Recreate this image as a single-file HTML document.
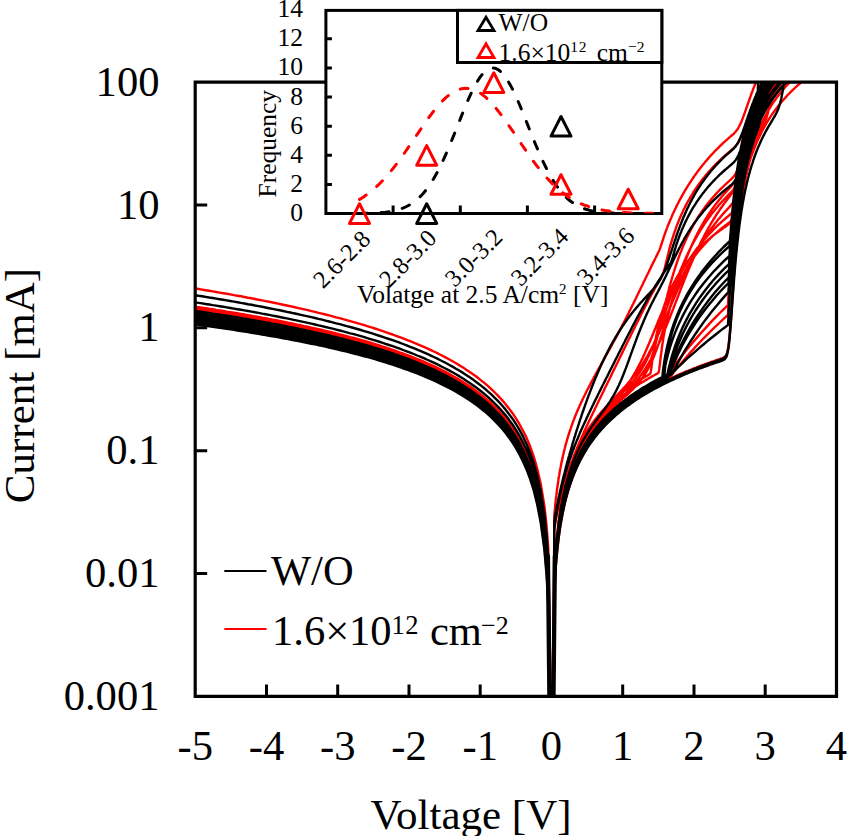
<!DOCTYPE html>
<html><head><meta charset="utf-8"><style>html,body{margin:0;padding:0;background:#fff}svg{display:block}</style></head>
<body><svg width="847" height="836" viewBox="0 0 847 836" font-family="Liberation Serif">
<rect width="847" height="836" fill="#fff"/>
<defs><clipPath id="mc"><rect x="195" y="82" width="641.5" height="614.5"/></clipPath><clipPath id="ic"><rect x="326" y="10" width="336" height="203.3"/></clipPath></defs>
<g clip-path="url(#mc)" fill="none" stroke-linejoin="round">
<path d="M180.9,286.2 L184.5,286.8 L188.0,287.3 L191.5,287.9 L195.1,288.4 L198.6,289.0 L202.1,289.6 L205.6,290.2 L209.2,290.8 L212.7,291.4 L216.2,292.0 L219.7,292.6 L223.3,293.2 L226.8,293.8 L230.3,294.4 L233.9,295.1 L237.4,295.7 L240.9,296.3 L244.4,297.0 L248.0,297.7 L251.5,298.3 L255.0,299.0 L258.5,299.7 L262.1,300.4 L265.6,301.1 L269.1,301.8 L272.6,302.5 L276.2,303.2 L279.7,304.0 L283.2,304.7 L286.8,305.5 L290.3,306.2 L293.8,307.0 L297.3,307.8 L300.9,308.6 L304.4,309.4 L307.9,310.2 L311.4,311.1 L315.0,311.9 L318.5,312.8 L322.0,313.6 L325.5,314.5 L329.1,315.4 L332.6,316.3 L336.1,317.3 L339.7,318.2 L343.2,319.2 L346.7,320.1 L350.2,321.1 L353.8,322.1 L357.3,323.1 L360.8,324.2 L364.3,325.2 L367.9,326.3 L371.4,327.4 L374.9,328.5 L378.5,329.7 L382.0,330.9 L385.5,332.1 L389.0,333.3 L392.6,334.5 L396.1,335.8 L399.6,337.1 L403.1,338.4 L406.7,339.8 L410.2,341.2 L413.7,342.6 L417.2,344.1 L420.8,345.6 L424.3,347.1 L427.8,348.7 L431.4,350.3 L434.9,352.0 L438.4,353.7 L441.9,355.5 L445.5,357.4 L449.0,359.3 L452.5,361.2 L456.0,363.3 L459.6,365.4 L463.1,367.6 L466.6,369.9 L470.1,372.3 L473.7,374.7 L477.2,377.3 L480.7,380.1 L484.3,382.9 L487.8,385.9 L491.3,389.1 L494.8,392.5 L498.4,396.1 L501.9,399.9 L505.4,404.0 L508.9,408.4 L512.5,413.2 L516.0,418.4 L519.5,424.2 L523.0,430.7 L526.6,437.9 L530.1,446.3 L533.7,456.3 L537.2,468.5 L540.8,484.1 L544.4,506.0 L546.5,525.1 L548.3,548.6 L551.5,745.5 M180.9,304.6 L184.5,305.1 L188.0,305.6 L191.5,306.1 L195.1,306.7 L198.6,307.2 L202.1,307.7 L205.6,308.2 L209.2,308.8 L212.7,309.3 L216.2,309.9 L219.7,310.4 L223.3,311.0 L226.8,311.6 L230.3,312.1 L233.9,312.7 L237.4,313.3 L240.9,313.9 L244.4,314.5 L248.0,315.1 L251.5,315.8 L255.0,316.4 L258.5,317.0 L262.1,317.7 L265.6,318.3 L269.1,319.0 L272.6,319.6 L276.2,320.3 L279.7,321.0 L283.2,321.7 L286.8,322.4 L290.3,323.1 L293.8,323.8 L297.3,324.6 L300.9,325.3 L304.4,326.1 L307.9,326.8 L311.4,327.6 L315.0,328.4 L318.5,329.2 L322.0,330.0 L325.5,330.8 L329.1,331.7 L332.6,332.5 L336.1,333.4 L339.7,334.3 L343.2,335.2 L346.7,336.1 L350.2,337.1 L353.8,338.0 L357.3,339.0 L360.8,340.0 L364.3,341.0 L367.9,342.0 L371.4,343.0 L374.9,344.1 L378.5,345.2 L382.0,346.3 L385.5,347.4 L389.0,348.6 L392.6,349.8 L396.1,351.0 L399.6,352.3 L403.1,353.5 L406.7,354.9 L410.2,356.2 L413.7,357.6 L417.2,359.0 L420.8,360.4 L424.3,361.9 L427.8,363.5 L431.4,365.1 L434.9,366.7 L438.4,368.4 L441.9,370.1 L445.5,371.9 L449.0,373.8 L452.5,375.7 L456.0,377.7 L459.6,379.8 L463.1,382.0 L466.6,384.3 L470.1,386.6 L473.7,389.1 L477.2,391.7 L480.7,394.4 L484.3,397.3 L487.8,400.3 L491.3,403.5 L494.8,406.9 L498.4,410.5 L501.9,414.4 L505.4,418.6 L508.9,423.1 L512.5,428.1 L516.0,433.5 L519.5,439.5 L523.0,446.2 L526.6,453.9 L530.1,462.8 L533.7,473.5 L537.2,486.7 L540.8,503.8 L544.4,528.2 L546.5,550.0 L548.3,577.4 L551.5,745.5 M180.9,307.0 L184.5,307.5 L188.0,308.0 L191.5,308.5 L195.1,309.0 L198.6,309.5 L202.1,310.0 L205.6,310.6 L209.2,311.1 L212.7,311.6 L216.2,312.2 L219.7,312.7 L223.3,313.3 L226.8,313.9 L230.3,314.4 L233.9,315.0 L237.4,315.6 L240.9,316.2 L244.4,316.8 L248.0,317.4 L251.5,318.0 L255.0,318.6 L258.5,319.2 L262.1,319.9 L265.6,320.5 L269.1,321.2 L272.6,321.8 L276.2,322.5 L279.7,323.2 L283.2,323.9 L286.8,324.6 L290.3,325.3 L293.8,326.0 L297.3,326.7 L300.9,327.4 L304.4,328.2 L307.9,329.0 L311.4,329.7 L315.0,330.5 L318.5,331.3 L322.0,332.1 L325.5,332.9 L329.1,333.8 L332.6,334.6 L336.1,335.5 L339.7,336.4 L343.2,337.3 L346.7,338.2 L350.2,339.1 L353.8,340.0 L357.3,341.0 L360.8,342.0 L364.3,343.0 L367.9,344.0 L371.4,345.0 L374.9,346.1 L378.5,347.2 L382.0,348.3 L385.5,349.4 L389.0,350.6 L392.6,351.8 L396.1,353.0 L399.6,354.2 L403.1,355.5 L406.7,356.8 L410.2,358.1 L413.7,359.5 L417.2,360.9 L420.8,362.4 L424.3,363.8 L427.8,365.4 L431.4,367.0 L434.9,368.6 L438.4,370.3 L441.9,372.0 L445.5,373.8 L449.0,375.7 L452.5,377.6 L456.0,379.6 L459.6,381.7 L463.1,383.8 L466.6,386.1 L470.1,388.5 L473.7,390.9 L477.2,393.5 L480.7,396.2 L484.3,399.1 L487.8,402.1 L491.3,405.3 L494.8,408.7 L498.4,412.4 L501.9,416.3 L505.4,420.5 L508.9,425.0 L512.5,430.0 L516.0,435.4 L519.5,441.5 L523.0,448.2 L526.6,456.0 L530.1,464.9 L533.7,475.7 L537.2,489.0 L540.8,506.3 L544.4,531.1 L546.5,553.2 L548.3,581.1 L551.5,745.5 M180.9,309.5 L184.5,310.0 L188.0,310.5 L191.5,311.0 L195.1,311.5 L198.6,312.0 L202.1,312.5 L205.6,313.0 L209.2,313.6 L212.7,314.1 L216.2,314.6 L219.7,315.2 L223.3,315.7 L226.8,316.3 L230.3,316.8 L233.9,317.4 L237.4,318.0 L240.9,318.6 L244.4,319.2 L248.0,319.8 L251.5,320.4 L255.0,321.0 L258.5,321.6 L262.1,322.2 L265.6,322.9 L269.1,323.5 L272.6,324.2 L276.2,324.8 L279.7,325.5 L283.2,326.2 L286.8,326.9 L290.3,327.6 L293.8,328.3 L297.3,329.0 L300.9,329.7 L304.4,330.5 L307.9,331.2 L311.4,332.0 L315.0,332.8 L318.5,333.5 L322.0,334.4 L325.5,335.2 L329.1,336.0 L332.6,336.8 L336.1,337.7 L339.7,338.6 L343.2,339.5 L346.7,340.4 L350.2,341.3 L353.8,342.2 L357.3,343.2 L360.8,344.1 L364.3,345.1 L367.9,346.1 L371.4,347.2 L374.9,348.2 L378.5,349.3 L382.0,350.4 L385.5,351.5 L389.0,352.7 L392.6,353.9 L396.1,355.1 L399.6,356.3 L403.1,357.6 L406.7,358.8 L410.2,360.2 L413.7,361.5 L417.2,362.9 L420.8,364.4 L424.3,365.9 L427.8,367.4 L431.4,369.0 L434.9,370.6 L438.4,372.3 L441.9,374.0 L445.5,375.8 L449.0,377.6 L452.5,379.6 L456.0,381.6 L459.6,383.6 L463.1,385.8 L466.6,388.1 L470.1,390.4 L473.7,392.9 L477.2,395.5 L480.7,398.2 L484.3,401.0 L487.8,404.1 L491.3,407.3 L494.8,410.7 L498.4,414.3 L501.9,418.2 L505.4,422.5 L508.9,427.0 L512.5,432.0 L516.0,437.5 L519.5,443.5 L523.0,450.4 L526.6,458.2 L530.1,467.2 L533.7,478.1 L537.2,491.5 L540.8,509.0 L544.4,534.1 L546.5,556.6 L548.3,585.0 L551.5,745.5 M180.9,311.1 L184.5,311.5 L188.0,312.0 L191.5,312.5 L195.1,313.0 L198.6,313.5 L202.1,314.0 L205.6,314.6 L209.2,315.1 L212.7,315.6 L216.2,316.1 L219.7,316.7 L223.3,317.2 L226.8,317.8 L230.3,318.3 L233.9,318.9 L237.4,319.5 L240.9,320.1 L244.4,320.7 L248.0,321.2 L251.5,321.8 L255.0,322.5 L258.5,323.1 L262.1,323.7 L265.6,324.3 L269.1,325.0 L272.6,325.6 L276.2,326.3 L279.7,326.9 L283.2,327.6 L286.8,328.3 L290.3,329.0 L293.8,329.7 L297.3,330.4 L300.9,331.1 L304.4,331.9 L307.9,332.6 L311.4,333.4 L315.0,334.2 L318.5,334.9 L322.0,335.7 L325.5,336.6 L329.1,337.4 L332.6,338.2 L336.1,339.1 L339.7,339.9 L343.2,340.8 L346.7,341.7 L350.2,342.6 L353.8,343.6 L357.3,344.5 L360.8,345.5 L364.3,346.5 L367.9,347.5 L371.4,348.5 L374.9,349.5 L378.5,350.6 L382.0,351.7 L385.5,352.8 L389.0,354.0 L392.6,355.2 L396.1,356.4 L399.6,357.6 L403.1,358.8 L406.7,360.1 L410.2,361.5 L413.7,362.8 L417.2,364.2 L420.8,365.7 L424.3,367.1 L427.8,368.7 L431.4,370.2 L434.9,371.8 L438.4,373.5 L441.9,375.2 L445.5,377.0 L449.0,378.9 L452.5,380.8 L456.0,382.8 L459.6,384.9 L463.1,387.0 L466.6,389.3 L470.1,391.6 L473.7,394.1 L477.2,396.7 L480.7,399.4 L484.3,402.3 L487.8,405.3 L491.3,408.5 L494.8,411.9 L498.4,415.6 L501.9,419.5 L505.4,423.7 L508.9,428.3 L512.5,433.3 L516.0,438.7 L519.5,444.8 L523.0,451.7 L526.6,459.5 L530.1,468.6 L533.7,479.5 L537.2,493.0 L540.8,510.7 L544.4,536.0 L546.5,558.7 L548.3,587.4 L551.5,745.5 M180.9,312.1 L184.5,312.6 L188.0,313.1 L191.5,313.6 L195.1,314.1 L198.6,314.6 L202.1,315.1 L205.6,315.6 L209.2,316.1 L212.7,316.6 L216.2,317.2 L219.7,317.7 L223.3,318.2 L226.8,318.8 L230.3,319.4 L233.9,319.9 L237.4,320.5 L240.9,321.1 L244.4,321.6 L248.0,322.2 L251.5,322.8 L255.0,323.4 L258.5,324.1 L262.1,324.7 L265.6,325.3 L269.1,325.9 L272.6,326.6 L276.2,327.2 L279.7,327.9 L283.2,328.6 L286.8,329.3 L290.3,330.0 L293.8,330.7 L297.3,331.4 L300.9,332.1 L304.4,332.8 L307.9,333.6 L311.4,334.3 L315.0,335.1 L318.5,335.9 L322.0,336.7 L325.5,337.5 L329.1,338.3 L332.6,339.1 L336.1,340.0 L339.7,340.8 L343.2,341.7 L346.7,342.6 L350.2,343.5 L353.8,344.5 L357.3,345.4 L360.8,346.4 L364.3,347.4 L367.9,348.4 L371.4,349.4 L374.9,350.4 L378.5,351.5 L382.0,352.6 L385.5,353.7 L389.0,354.8 L392.6,356.0 L396.1,357.2 L399.6,358.4 L403.1,359.7 L406.7,361.0 L410.2,362.3 L413.7,363.7 L417.2,365.1 L420.8,366.5 L424.3,368.0 L427.8,369.5 L431.4,371.1 L434.9,372.7 L438.4,374.3 L441.9,376.1 L445.5,377.9 L449.0,379.7 L452.5,381.6 L456.0,383.6 L459.6,385.7 L463.1,387.8 L466.6,390.1 L470.1,392.4 L473.7,394.9 L477.2,397.5 L480.7,400.2 L484.3,403.1 L487.8,406.1 L491.3,409.3 L494.8,412.7 L498.4,416.4 L501.9,420.3 L505.4,424.5 L508.9,429.1 L512.5,434.1 L516.0,439.6 L519.5,445.7 L523.0,452.6 L526.6,460.4 L530.1,469.5 L533.7,480.5 L537.2,494.1 L540.8,511.8 L544.4,537.3 L546.5,560.2 L548.3,589.1 L551.5,745.5 M180.9,313.7 L184.5,314.1 L188.0,314.6 L191.5,315.1 L195.1,315.6 L198.6,316.1 L202.1,316.6 L205.6,317.1 L209.2,317.6 L212.7,318.2 L216.2,318.7 L219.7,319.2 L223.3,319.8 L226.8,320.3 L230.3,320.9 L233.9,321.4 L237.4,322.0 L240.9,322.6 L244.4,323.1 L248.0,323.7 L251.5,324.3 L255.0,324.9 L258.5,325.5 L262.1,326.1 L265.6,326.8 L269.1,327.4 L272.6,328.0 L276.2,328.7 L279.7,329.3 L283.2,330.0 L286.8,330.7 L290.3,331.4 L293.8,332.1 L297.3,332.8 L300.9,333.5 L304.4,334.2 L307.9,335.0 L311.4,335.7 L315.0,336.5 L318.5,337.3 L322.0,338.1 L325.5,338.9 L329.1,339.7 L332.6,340.5 L336.1,341.4 L339.7,342.2 L343.2,343.1 L346.7,344.0 L350.2,344.9 L353.8,345.8 L357.3,346.8 L360.8,347.7 L364.3,348.7 L367.9,349.7 L371.4,350.7 L374.9,351.8 L378.5,352.8 L382.0,353.9 L385.5,355.0 L389.0,356.2 L392.6,357.3 L396.1,358.5 L399.6,359.7 L403.1,361.0 L406.7,362.3 L410.2,363.6 L413.7,364.9 L417.2,366.3 L420.8,367.8 L424.3,369.2 L427.8,370.7 L431.4,372.3 L434.9,373.9 L438.4,375.6 L441.9,377.3 L445.5,379.1 L449.0,380.9 L452.5,382.9 L456.0,384.8 L459.6,386.9 L463.1,389.1 L466.6,391.3 L470.1,393.7 L473.7,396.1 L477.2,398.7 L480.7,401.4 L484.3,404.3 L487.8,407.3 L491.3,410.5 L494.8,414.0 L498.4,417.6 L501.9,421.5 L505.4,425.8 L508.9,430.4 L512.5,435.4 L516.0,440.9 L519.5,447.0 L523.0,453.9 L526.6,461.8 L530.1,470.9 L533.7,482.0 L537.2,495.6 L540.8,513.5 L544.4,539.2 L546.5,562.3 L548.3,591.5 L551.5,745.5 M180.9,314.7 L184.5,315.2 L188.0,315.7 L191.5,316.1 L195.1,316.6 L198.6,317.1 L202.1,317.6 L205.6,318.1 L209.2,318.7 L212.7,319.2 L216.2,319.7 L219.7,320.2 L223.3,320.8 L226.8,321.3 L230.3,321.9 L233.9,322.4 L237.4,323.0 L240.9,323.5 L244.4,324.1 L248.0,324.7 L251.5,325.3 L255.0,325.9 L258.5,326.5 L262.1,327.1 L265.6,327.7 L269.1,328.4 L272.6,329.0 L276.2,329.7 L279.7,330.3 L283.2,331.0 L286.8,331.7 L290.3,332.3 L293.8,333.0 L297.3,333.7 L300.9,334.5 L304.4,335.2 L307.9,335.9 L311.4,336.7 L315.0,337.4 L318.5,338.2 L322.0,339.0 L325.5,339.8 L329.1,340.6 L332.6,341.4 L336.1,342.3 L339.7,343.1 L343.2,344.0 L346.7,344.9 L350.2,345.8 L353.8,346.7 L357.3,347.6 L360.8,348.6 L364.3,349.6 L367.9,350.6 L371.4,351.6 L374.9,352.6 L378.5,353.7 L382.0,354.8 L385.5,355.9 L389.0,357.0 L392.6,358.2 L396.1,359.4 L399.6,360.6 L403.1,361.8 L406.7,363.1 L410.2,364.4 L413.7,365.8 L417.2,367.2 L420.8,368.6 L424.3,370.1 L427.8,371.6 L431.4,373.1 L434.9,374.8 L438.4,376.4 L441.9,378.1 L445.5,379.9 L449.0,381.8 L452.5,383.7 L456.0,385.7 L459.6,387.7 L463.1,389.9 L466.6,392.1 L470.1,394.5 L473.7,396.9 L477.2,399.5 L480.7,402.2 L484.3,405.1 L487.8,408.1 L491.3,411.3 L494.8,414.8 L498.4,418.4 L501.9,422.4 L505.4,426.6 L508.9,431.2 L512.5,436.2 L516.0,441.7 L519.5,447.9 L523.0,454.8 L526.6,462.7 L530.1,471.9 L533.7,482.9 L537.2,496.7 L540.8,514.6 L544.4,540.5 L546.5,563.7 L548.3,593.1 L551.5,745.5 M180.9,316.3 L184.5,316.7 L188.0,317.2 L191.5,317.7 L195.1,318.2 L198.6,318.7 L202.1,319.2 L205.6,319.7 L209.2,320.2 L212.7,320.7 L216.2,321.2 L219.7,321.8 L223.3,322.3 L226.8,322.8 L230.3,323.4 L233.9,323.9 L237.4,324.5 L240.9,325.0 L244.4,325.6 L248.0,326.2 L251.5,326.8 L255.0,327.4 L258.5,328.0 L262.1,328.6 L265.6,329.2 L269.1,329.8 L272.6,330.5 L276.2,331.1 L279.7,331.8 L283.2,332.4 L286.8,333.1 L290.3,333.8 L293.8,334.5 L297.3,335.2 L300.9,335.9 L304.4,336.6 L307.9,337.3 L311.4,338.1 L315.0,338.8 L318.5,339.6 L322.0,340.4 L325.5,341.2 L329.1,342.0 L332.6,342.8 L336.1,343.6 L339.7,344.5 L343.2,345.4 L346.7,346.2 L350.2,347.1 L353.8,348.1 L357.3,349.0 L360.8,349.9 L364.3,350.9 L367.9,351.9 L371.4,352.9 L374.9,354.0 L378.5,355.0 L382.0,356.1 L385.5,357.2 L389.0,358.3 L392.6,359.5 L396.1,360.7 L399.6,361.9 L403.1,363.1 L406.7,364.4 L410.2,365.7 L413.7,367.1 L417.2,368.4 L420.8,369.9 L424.3,371.3 L427.8,372.8 L431.4,374.4 L434.9,376.0 L438.4,377.7 L441.9,379.4 L445.5,381.2 L449.0,383.0 L452.5,384.9 L456.0,386.9 L459.6,389.0 L463.1,391.1 L466.6,393.4 L470.1,395.7 L473.7,398.2 L477.2,400.7 L480.7,403.5 L484.3,406.3 L487.8,409.4 L491.3,412.6 L494.8,416.0 L498.4,419.7 L501.9,423.6 L505.4,427.8 L508.9,432.4 L512.5,437.5 L516.0,443.0 L519.5,449.2 L523.0,456.1 L526.6,464.0 L530.1,473.3 L533.7,484.4 L537.2,498.2 L540.8,516.3 L544.4,542.3 L546.5,565.8 L548.3,595.6 L551.5,745.5 M180.9,317.3 L184.5,317.8 L188.0,318.3 L191.5,318.7 L195.1,319.2 L198.6,319.7 L202.1,320.2 L205.6,320.7 L209.2,321.2 L212.7,321.7 L216.2,322.2 L219.7,322.8 L223.3,323.3 L226.8,323.8 L230.3,324.4 L233.9,324.9 L237.4,325.5 L240.9,326.0 L244.4,326.6 L248.0,327.2 L251.5,327.8 L255.0,328.4 L258.5,329.0 L262.1,329.6 L265.6,330.2 L269.1,330.8 L272.6,331.4 L276.2,332.1 L279.7,332.7 L283.2,333.4 L286.8,334.0 L290.3,334.7 L293.8,335.4 L297.3,336.1 L300.9,336.8 L304.4,337.5 L307.9,338.3 L311.4,339.0 L315.0,339.8 L318.5,340.5 L322.0,341.3 L325.5,342.1 L329.1,342.9 L332.6,343.7 L336.1,344.6 L339.7,345.4 L343.2,346.3 L346.7,347.2 L350.2,348.0 L353.8,349.0 L357.3,349.9 L360.8,350.8 L364.3,351.8 L367.9,352.8 L371.4,353.8 L374.9,354.8 L378.5,355.9 L382.0,357.0 L385.5,358.1 L389.0,359.2 L392.6,360.3 L396.1,361.5 L399.6,362.7 L403.1,364.0 L406.7,365.3 L410.2,366.6 L413.7,367.9 L417.2,369.3 L420.8,370.7 L424.3,372.2 L427.8,373.7 L431.4,375.2 L434.9,376.8 L438.4,378.5 L441.9,380.2 L445.5,382.0 L449.0,383.8 L452.5,385.7 L456.0,387.7 L459.6,389.8 L463.1,391.9 L466.6,394.2 L470.1,396.5 L473.7,399.0 L477.2,401.6 L480.7,404.3 L484.3,407.1 L487.8,410.2 L491.3,413.4 L494.8,416.8 L498.4,420.5 L501.9,424.4 L505.4,428.7 L508.9,433.3 L512.5,438.3 L516.0,443.9 L519.5,450.0 L523.0,457.0 L526.6,464.9 L530.1,474.2 L533.7,485.4 L537.2,499.2 L540.8,517.4 L544.4,543.6 L546.5,567.2 L548.3,597.2 L551.5,745.5 M180.9,318.9 L184.5,319.3 L188.0,319.8 L191.5,320.3 L195.1,320.8 L198.6,321.3 L202.1,321.7 L205.6,322.2 L209.2,322.7 L212.7,323.2 L216.2,323.8 L219.7,324.3 L223.3,324.8 L226.8,325.3 L230.3,325.9 L233.9,326.4 L237.4,327.0 L240.9,327.5 L244.4,328.1 L248.0,328.7 L251.5,329.2 L255.0,329.8 L258.5,330.4 L262.1,331.0 L265.6,331.6 L269.1,332.3 L272.6,332.9 L276.2,333.5 L279.7,334.2 L283.2,334.8 L286.8,335.5 L290.3,336.2 L293.8,336.8 L297.3,337.5 L300.9,338.2 L304.4,339.0 L307.9,339.7 L311.4,340.4 L315.0,341.2 L318.5,341.9 L322.0,342.7 L325.5,343.5 L329.1,344.3 L332.6,345.1 L336.1,345.9 L339.7,346.8 L343.2,347.6 L346.7,348.5 L350.2,349.4 L353.8,350.3 L357.3,351.2 L360.8,352.2 L364.3,353.1 L367.9,354.1 L371.4,355.1 L374.9,356.2 L378.5,357.2 L382.0,358.3 L385.5,359.4 L389.0,360.5 L392.6,361.6 L396.1,362.8 L399.6,364.0 L403.1,365.3 L406.7,366.5 L410.2,367.8 L413.7,369.2 L417.2,370.6 L420.8,372.0 L424.3,373.4 L427.8,374.9 L431.4,376.5 L434.9,378.1 L438.4,379.7 L441.9,381.4 L445.5,383.2 L449.0,385.1 L452.5,387.0 L456.0,388.9 L459.6,391.0 L463.1,393.1 L466.6,395.4 L470.1,397.7 L473.7,400.2 L477.2,402.8 L480.7,405.5 L484.3,408.4 L487.8,411.4 L491.3,414.6 L494.8,418.0 L498.4,421.7 L501.9,425.6 L505.4,429.9 L508.9,434.5 L512.5,439.6 L516.0,445.1 L519.5,451.3 L523.0,458.3 L526.6,466.3 L530.1,475.6 L533.7,486.8 L537.2,500.8 L540.8,519.1 L544.4,545.5 L546.5,569.3 L548.3,599.6 L551.5,745.5 M180.9,319.9 L184.5,320.4 L188.0,320.8 L191.5,321.3 L195.1,321.8 L198.6,322.3 L202.1,322.8 L205.6,323.3 L209.2,323.8 L212.7,324.3 L216.2,324.8 L219.7,325.3 L223.3,325.8 L226.8,326.3 L230.3,326.9 L233.9,327.4 L237.4,328.0 L240.9,328.5 L244.4,329.1 L248.0,329.7 L251.5,330.2 L255.0,330.8 L258.5,331.4 L262.1,332.0 L265.6,332.6 L269.1,333.2 L272.6,333.9 L276.2,334.5 L279.7,335.1 L283.2,335.8 L286.8,336.4 L290.3,337.1 L293.8,337.8 L297.3,338.5 L300.9,339.2 L304.4,339.9 L307.9,340.6 L311.4,341.4 L315.0,342.1 L318.5,342.9 L322.0,343.6 L325.5,344.4 L329.1,345.2 L332.6,346.0 L336.1,346.8 L339.7,347.7 L343.2,348.5 L346.7,349.4 L350.2,350.3 L353.8,351.2 L357.3,352.1 L360.8,353.1 L364.3,354.0 L367.9,355.0 L371.4,356.0 L374.9,357.0 L378.5,358.1 L382.0,359.2 L385.5,360.2 L389.0,361.4 L392.6,362.5 L396.1,363.7 L399.6,364.9 L403.1,366.1 L406.7,367.4 L410.2,368.7 L413.7,370.0 L417.2,371.4 L420.8,372.8 L424.3,374.3 L427.8,375.8 L431.4,377.3 L434.9,378.9 L438.4,380.6 L441.9,382.3 L445.5,384.0 L449.0,385.9 L452.5,387.8 L456.0,389.8 L459.6,391.8 L463.1,394.0 L466.6,396.2 L470.1,398.5 L473.7,401.0 L477.2,403.6 L480.7,406.3 L484.3,409.2 L487.8,412.2 L491.3,415.4 L494.8,418.9 L498.4,422.5 L501.9,426.5 L505.4,430.7 L508.9,435.4 L512.5,440.4 L516.0,446.0 L519.5,452.2 L523.0,459.2 L526.6,467.2 L530.1,476.5 L533.7,487.8 L537.2,501.8 L540.8,520.2 L544.4,546.8 L546.5,570.7 L548.3,601.3 L551.5,745.5" stroke="#f00" stroke-width="2.4"/>
<path d="M180.9,293.1 L184.5,293.6 L188.0,294.1 L191.5,294.7 L195.1,295.2 L198.6,295.8 L202.1,296.3 L205.6,296.9 L209.2,297.5 L212.7,298.0 L216.2,298.6 L219.7,299.2 L223.3,299.8 L226.8,300.4 L230.3,301.0 L233.9,301.6 L237.4,302.2 L240.9,302.9 L244.4,303.5 L248.0,304.2 L251.5,304.8 L255.0,305.5 L258.5,306.1 L262.1,306.8 L265.6,307.5 L269.1,308.2 L272.6,308.9 L276.2,309.6 L279.7,310.3 L283.2,311.0 L286.8,311.8 L290.3,312.5 L293.8,313.3 L297.3,314.0 L300.9,314.8 L304.4,315.6 L307.9,316.4 L311.4,317.2 L315.0,318.0 L318.5,318.9 L322.0,319.7 L325.5,320.6 L329.1,321.5 L332.6,322.4 L336.1,323.3 L339.7,324.2 L343.2,325.1 L346.7,326.1 L350.2,327.0 L353.8,328.0 L357.3,329.0 L360.8,330.0 L364.3,331.1 L367.9,332.1 L371.4,333.2 L374.9,334.3 L378.5,335.5 L382.0,336.6 L385.5,337.8 L389.0,339.0 L392.6,340.2 L396.1,341.4 L399.6,342.7 L403.1,344.0 L406.7,345.4 L410.2,346.8 L413.7,348.2 L417.2,349.6 L420.8,351.1 L424.3,352.6 L427.8,354.2 L431.4,355.8 L434.9,357.5 L438.4,359.2 L441.9,361.0 L445.5,362.8 L449.0,364.7 L452.5,366.6 L456.0,368.7 L459.6,370.8 L463.1,372.9 L466.6,375.2 L470.1,377.6 L473.7,380.1 L477.2,382.7 L480.7,385.4 L484.3,388.2 L487.8,391.3 L491.3,394.4 L494.8,397.8 L498.4,401.4 L501.9,405.3 L505.4,409.4 L508.9,413.9 L512.5,418.7 L516.0,424.0 L519.5,429.9 L523.0,436.4 L526.6,443.9 L530.1,452.5 L533.7,462.7 L537.2,475.2 L540.8,491.4 L544.4,514.2 L546.5,534.4 L548.3,559.3 L551.5,745.5 M180.9,300.3 L184.5,300.8 L188.0,301.3 L191.5,301.8 L195.1,302.4 L198.6,302.9 L202.1,303.4 L205.6,304.0 L209.2,304.5 L212.7,305.1 L216.2,305.6 L219.7,306.2 L223.3,306.8 L226.8,307.4 L230.3,308.0 L233.9,308.6 L237.4,309.2 L240.9,309.8 L244.4,310.4 L248.0,311.0 L251.5,311.6 L255.0,312.3 L258.5,312.9 L262.1,313.6 L265.6,314.2 L269.1,314.9 L272.6,315.6 L276.2,316.3 L279.7,317.0 L283.2,317.7 L286.8,318.4 L290.3,319.1 L293.8,319.9 L297.3,320.6 L300.9,321.4 L304.4,322.1 L307.9,322.9 L311.4,323.7 L315.0,324.5 L318.5,325.3 L322.0,326.1 L325.5,327.0 L329.1,327.8 L332.6,328.7 L336.1,329.6 L339.7,330.5 L343.2,331.4 L346.7,332.3 L350.2,333.3 L353.8,334.2 L357.3,335.2 L360.8,336.2 L364.3,337.2 L367.9,338.3 L371.4,339.3 L374.9,340.4 L378.5,341.5 L382.0,342.7 L385.5,343.8 L389.0,345.0 L392.6,346.2 L396.1,347.4 L399.6,348.7 L403.1,350.0 L406.7,351.3 L410.2,352.6 L413.7,354.0 L417.2,355.5 L420.8,356.9 L424.3,358.4 L427.8,360.0 L431.4,361.6 L434.9,363.2 L438.4,364.9 L441.9,366.7 L445.5,368.5 L449.0,370.4 L452.5,372.3 L456.0,374.3 L459.6,376.4 L463.1,378.6 L466.6,380.9 L470.1,383.2 L473.7,385.7 L477.2,388.3 L480.7,391.0 L484.3,393.9 L487.8,396.9 L491.3,400.1 L494.8,403.5 L498.4,407.1 L501.9,411.0 L505.4,415.1 L508.9,419.6 L512.5,424.5 L516.0,429.9 L519.5,435.9 L523.0,442.6 L526.6,450.1 L530.1,458.9 L533.7,469.4 L537.2,482.4 L540.8,499.1 L544.4,523.0 L546.5,544.1 L548.3,570.6 L551.5,745.5 M180.9,309.0 L184.5,309.5 L188.0,310.0 L191.5,310.5 L195.1,311.0 L198.6,311.5 L202.1,312.0 L205.6,312.5 L209.2,313.0 L212.7,313.6 L216.2,314.1 L219.7,314.7 L223.3,315.2 L226.8,315.8 L230.3,316.3 L233.9,316.9 L237.4,317.5 L240.9,318.1 L244.4,318.7 L248.0,319.3 L251.5,319.9 L255.0,320.5 L258.5,321.1 L262.1,321.7 L265.6,322.4 L269.1,323.0 L272.6,323.7 L276.2,324.3 L279.7,325.0 L283.2,325.7 L286.8,326.4 L290.3,327.1 L293.8,327.8 L297.3,328.5 L300.9,329.3 L304.4,330.0 L307.9,330.8 L311.4,331.5 L315.0,332.3 L318.5,333.1 L322.0,333.9 L325.5,334.7 L329.1,335.5 L332.6,336.4 L336.1,337.2 L339.7,338.1 L343.2,339.0 L346.7,339.9 L350.2,340.8 L353.8,341.8 L357.3,342.7 L360.8,343.7 L364.3,344.7 L367.9,345.7 L371.4,346.7 L374.9,347.8 L378.5,348.9 L382.0,350.0 L385.5,351.1 L389.0,352.2 L392.6,353.4 L396.1,354.6 L399.6,355.9 L403.1,357.1 L406.7,358.4 L410.2,359.8 L413.7,361.1 L417.2,362.5 L420.8,364.0 L424.3,365.5 L427.8,367.0 L431.4,368.6 L434.9,370.2 L438.4,371.9 L441.9,373.6 L445.5,375.4 L449.0,377.2 L452.5,379.2 L456.0,381.2 L459.6,383.2 L463.1,385.4 L466.6,387.7 L470.1,390.0 L473.7,392.5 L477.2,395.1 L480.7,397.8 L484.3,400.6 L487.8,403.7 L491.3,406.9 L494.8,410.3 L498.4,413.9 L501.9,417.8 L505.4,422.0 L508.9,426.6 L512.5,431.6 L516.0,437.0 L519.5,443.1 L523.0,449.9 L526.6,457.7 L530.1,466.7 L533.7,477.6 L537.2,491.0 L540.8,508.5 L544.4,533.5 L546.5,555.9 L548.3,584.2 L551.5,745.5 M180.9,310.0 L184.5,310.5 L188.0,311.0 L191.5,311.5 L195.1,312.0 L198.6,312.5 L202.1,313.0 L205.6,313.5 L209.2,314.1 L212.7,314.6 L216.2,315.1 L219.7,315.7 L223.3,316.2 L226.8,316.8 L230.3,317.3 L233.9,317.9 L237.4,318.5 L240.9,319.1 L244.4,319.7 L248.0,320.3 L251.5,320.9 L255.0,321.5 L258.5,322.1 L262.1,322.7 L265.6,323.4 L269.1,324.0 L272.6,324.6 L276.2,325.3 L279.7,326.0 L283.2,326.7 L286.8,327.3 L290.3,328.0 L293.8,328.8 L297.3,329.5 L300.9,330.2 L304.4,330.9 L307.9,331.7 L311.4,332.5 L315.0,333.2 L318.5,334.0 L322.0,334.8 L325.5,335.6 L329.1,336.5 L332.6,337.3 L336.1,338.2 L339.7,339.0 L343.2,339.9 L346.7,340.8 L350.2,341.7 L353.8,342.7 L357.3,343.6 L360.8,344.6 L364.3,345.6 L367.9,346.6 L371.4,347.6 L374.9,348.7 L378.5,349.7 L382.0,350.8 L385.5,352.0 L389.0,353.1 L392.6,354.3 L396.1,355.5 L399.6,356.7 L403.1,358.0 L406.7,359.3 L410.2,360.6 L413.7,362.0 L417.2,363.4 L420.8,364.8 L424.3,366.3 L427.8,367.8 L431.4,369.4 L434.9,371.0 L438.4,372.7 L441.9,374.4 L445.5,376.2 L449.0,378.1 L452.5,380.0 L456.0,382.0 L459.6,384.1 L463.1,386.2 L466.6,388.5 L470.1,390.8 L473.7,393.3 L477.2,395.9 L480.7,398.6 L484.3,401.5 L487.8,404.5 L491.3,407.7 L494.8,411.1 L498.4,414.7 L501.9,418.7 L505.4,422.9 L508.9,427.4 L512.5,432.4 L516.0,437.9 L519.5,444.0 L523.0,450.8 L526.6,458.6 L530.1,467.7 L533.7,478.5 L537.2,492.0 L540.8,509.6 L544.4,534.8 L546.5,557.3 L548.3,585.8 L551.5,745.5 M180.9,310.5 L184.5,311.0 L188.0,311.5 L191.5,312.0 L195.1,312.5 L198.6,313.0 L202.1,313.5 L205.6,314.1 L209.2,314.6 L212.7,315.1 L216.2,315.6 L219.7,316.2 L223.3,316.7 L226.8,317.3 L230.3,317.8 L233.9,318.4 L237.4,319.0 L240.9,319.6 L244.4,320.2 L248.0,320.7 L251.5,321.4 L255.0,322.0 L258.5,322.6 L262.1,323.2 L265.6,323.8 L269.1,324.5 L272.6,325.1 L276.2,325.8 L279.7,326.5 L283.2,327.1 L286.8,327.8 L290.3,328.5 L293.8,329.2 L297.3,329.9 L300.9,330.7 L304.4,331.4 L307.9,332.2 L311.4,332.9 L315.0,333.7 L318.5,334.5 L322.0,335.3 L325.5,336.1 L329.1,336.9 L332.6,337.8 L336.1,338.6 L339.7,339.5 L343.2,340.4 L346.7,341.3 L350.2,342.2 L353.8,343.1 L357.3,344.1 L360.8,345.0 L364.3,346.0 L367.9,347.0 L371.4,348.1 L374.9,349.1 L378.5,350.2 L382.0,351.3 L385.5,352.4 L389.0,353.5 L392.6,354.7 L396.1,355.9 L399.6,357.1 L403.1,358.4 L406.7,359.7 L410.2,361.0 L413.7,362.4 L417.2,363.8 L420.8,365.2 L424.3,366.7 L427.8,368.2 L431.4,369.8 L434.9,371.4 L438.4,373.1 L441.9,374.8 L445.5,376.6 L449.0,378.5 L452.5,380.4 L456.0,382.4 L459.6,384.5 L463.1,386.6 L466.6,388.9 L470.1,391.2 L473.7,393.7 L477.2,396.3 L480.7,399.0 L484.3,401.9 L487.8,404.9 L491.3,408.1 L494.8,411.5 L498.4,415.2 L501.9,419.1 L505.4,423.3 L508.9,427.8 L512.5,432.8 L516.0,438.3 L519.5,444.4 L523.0,451.3 L526.6,459.1 L530.1,468.1 L533.7,479.0 L537.2,492.5 L540.8,510.1 L544.4,535.4 L546.5,558.0 L548.3,586.6 L551.5,745.5 M180.9,311.6 L184.5,312.1 L188.0,312.5 L191.5,313.0 L195.1,313.5 L198.6,314.0 L202.1,314.6 L205.6,315.1 L209.2,315.6 L212.7,316.1 L216.2,316.7 L219.7,317.2 L223.3,317.7 L226.8,318.3 L230.3,318.8 L233.9,319.4 L237.4,320.0 L240.9,320.6 L244.4,321.1 L248.0,321.7 L251.5,322.3 L255.0,322.9 L258.5,323.6 L262.1,324.2 L265.6,324.8 L269.1,325.5 L272.6,326.1 L276.2,326.8 L279.7,327.4 L283.2,328.1 L286.8,328.8 L290.3,329.5 L293.8,330.2 L297.3,330.9 L300.9,331.6 L304.4,332.4 L307.9,333.1 L311.4,333.9 L315.0,334.6 L318.5,335.4 L322.0,336.2 L325.5,337.0 L329.1,337.8 L332.6,338.7 L336.1,339.5 L339.7,340.4 L343.2,341.3 L346.7,342.2 L350.2,343.1 L353.8,344.0 L357.3,345.0 L360.8,345.9 L364.3,346.9 L367.9,347.9 L371.4,348.9 L374.9,350.0 L378.5,351.1 L382.0,352.2 L385.5,353.3 L389.0,354.4 L392.6,355.6 L396.1,356.8 L399.6,358.0 L403.1,359.3 L406.7,360.6 L410.2,361.9 L413.7,363.2 L417.2,364.6 L420.8,366.1 L424.3,367.6 L427.8,369.1 L431.4,370.6 L434.9,372.3 L438.4,373.9 L441.9,375.7 L445.5,377.4 L449.0,379.3 L452.5,381.2 L456.0,383.2 L459.6,385.3 L463.1,387.4 L466.6,389.7 L470.1,392.0 L473.7,394.5 L477.2,397.1 L480.7,399.8 L484.3,402.7 L487.8,405.7 L491.3,408.9 L494.8,412.3 L498.4,416.0 L501.9,419.9 L505.4,424.1 L508.9,428.7 L512.5,433.7 L516.0,439.2 L519.5,445.3 L523.0,452.1 L526.6,460.0 L530.1,469.1 L533.7,480.0 L537.2,493.6 L540.8,511.3 L544.4,536.7 L546.5,559.4 L548.3,588.2 L551.5,745.5 M180.9,312.6 L184.5,313.1 L188.0,313.6 L191.5,314.1 L195.1,314.6 L198.6,315.1 L202.1,315.6 L205.6,316.1 L209.2,316.6 L212.7,317.1 L216.2,317.7 L219.7,318.2 L223.3,318.7 L226.8,319.3 L230.3,319.9 L233.9,320.4 L237.4,321.0 L240.9,321.6 L244.4,322.1 L248.0,322.7 L251.5,323.3 L255.0,323.9 L258.5,324.5 L262.1,325.2 L265.6,325.8 L269.1,326.4 L272.6,327.1 L276.2,327.7 L279.7,328.4 L283.2,329.1 L286.8,329.7 L290.3,330.4 L293.8,331.1 L297.3,331.8 L300.9,332.6 L304.4,333.3 L307.9,334.0 L311.4,334.8 L315.0,335.6 L318.5,336.3 L322.0,337.1 L325.5,337.9 L329.1,338.8 L332.6,339.6 L336.1,340.4 L339.7,341.3 L343.2,342.2 L346.7,343.1 L350.2,344.0 L353.8,344.9 L357.3,345.9 L360.8,346.8 L364.3,347.8 L367.9,348.8 L371.4,349.8 L374.9,350.9 L378.5,351.9 L382.0,353.0 L385.5,354.1 L389.0,355.3 L392.6,356.5 L396.1,357.6 L399.6,358.9 L403.1,360.1 L406.7,361.4 L410.2,362.7 L413.7,364.1 L417.2,365.5 L420.8,366.9 L424.3,368.4 L427.8,369.9 L431.4,371.5 L434.9,373.1 L438.4,374.8 L441.9,376.5 L445.5,378.3 L449.0,380.1 L452.5,382.0 L456.0,384.0 L459.6,386.1 L463.1,388.3 L466.6,390.5 L470.1,392.9 L473.7,395.3 L477.2,397.9 L480.7,400.6 L484.3,403.5 L487.8,406.5 L491.3,409.7 L494.8,413.1 L498.4,416.8 L501.9,420.7 L505.4,424.9 L508.9,429.5 L512.5,434.5 L516.0,440.0 L519.5,446.1 L523.0,453.0 L526.6,460.9 L530.1,470.0 L533.7,481.0 L537.2,494.6 L540.8,512.4 L544.4,537.9 L546.5,560.9 L548.3,589.9 L551.5,745.5 M180.9,313.1 L184.5,313.6 L188.0,314.1 L191.5,314.6 L195.1,315.1 L198.6,315.6 L202.1,316.1 L205.6,316.6 L209.2,317.1 L212.7,317.6 L216.2,318.2 L219.7,318.7 L223.3,319.3 L226.8,319.8 L230.3,320.4 L233.9,320.9 L237.4,321.5 L240.9,322.1 L244.4,322.6 L248.0,323.2 L251.5,323.8 L255.0,324.4 L258.5,325.0 L262.1,325.7 L265.6,326.3 L269.1,326.9 L272.6,327.6 L276.2,328.2 L279.7,328.9 L283.2,329.5 L286.8,330.2 L290.3,330.9 L293.8,331.6 L297.3,332.3 L300.9,333.0 L304.4,333.8 L307.9,334.5 L311.4,335.3 L315.0,336.0 L318.5,336.8 L322.0,337.6 L325.5,338.4 L329.1,339.2 L332.6,340.1 L336.1,340.9 L339.7,341.8 L343.2,342.6 L346.7,343.5 L350.2,344.4 L353.8,345.4 L357.3,346.3 L360.8,347.3 L364.3,348.2 L367.9,349.2 L371.4,350.3 L374.9,351.3 L378.5,352.4 L382.0,353.5 L385.5,354.6 L389.0,355.7 L392.6,356.9 L396.1,358.1 L399.6,359.3 L403.1,360.6 L406.7,361.8 L410.2,363.2 L413.7,364.5 L417.2,365.9 L420.8,367.3 L424.3,368.8 L427.8,370.3 L431.4,371.9 L434.9,373.5 L438.4,375.2 L441.9,376.9 L445.5,378.7 L449.0,380.5 L452.5,382.4 L456.0,384.4 L459.6,386.5 L463.1,388.7 L466.6,390.9 L470.1,393.3 L473.7,395.7 L477.2,398.3 L480.7,401.0 L484.3,403.9 L487.8,406.9 L491.3,410.1 L494.8,413.5 L498.4,417.2 L501.9,421.1 L505.4,425.3 L508.9,429.9 L512.5,434.9 L516.0,440.5 L519.5,446.6 L523.0,453.5 L526.6,461.3 L530.1,470.5 L533.7,481.5 L537.2,495.1 L540.8,512.9 L544.4,538.6 L546.5,561.6 L548.3,590.7 L551.5,745.5 M180.9,314.2 L184.5,314.7 L188.0,315.1 L191.5,315.6 L195.1,316.1 L198.6,316.6 L202.1,317.1 L205.6,317.6 L209.2,318.1 L212.7,318.7 L216.2,319.2 L219.7,319.7 L223.3,320.3 L226.8,320.8 L230.3,321.4 L233.9,321.9 L237.4,322.5 L240.9,323.1 L244.4,323.6 L248.0,324.2 L251.5,324.8 L255.0,325.4 L258.5,326.0 L262.1,326.6 L265.6,327.3 L269.1,327.9 L272.6,328.5 L276.2,329.2 L279.7,329.8 L283.2,330.5 L286.8,331.2 L290.3,331.9 L293.8,332.6 L297.3,333.3 L300.9,334.0 L304.4,334.7 L307.9,335.4 L311.4,336.2 L315.0,337.0 L318.5,337.7 L322.0,338.5 L325.5,339.3 L329.1,340.1 L332.6,341.0 L336.1,341.8 L339.7,342.7 L343.2,343.5 L346.7,344.4 L350.2,345.3 L353.8,346.3 L357.3,347.2 L360.8,348.2 L364.3,349.1 L367.9,350.1 L371.4,351.2 L374.9,352.2 L378.5,353.3 L382.0,354.3 L385.5,355.5 L389.0,356.6 L392.6,357.8 L396.1,358.9 L399.6,360.2 L403.1,361.4 L406.7,362.7 L410.2,364.0 L413.7,365.4 L417.2,366.8 L420.8,368.2 L424.3,369.7 L427.8,371.2 L431.4,372.7 L434.9,374.3 L438.4,376.0 L441.9,377.7 L445.5,379.5 L449.0,381.3 L452.5,383.3 L456.0,385.3 L459.6,387.3 L463.1,389.5 L466.6,391.7 L470.1,394.1 L473.7,396.5 L477.2,399.1 L480.7,401.8 L484.3,404.7 L487.8,407.7 L491.3,410.9 L494.8,414.4 L498.4,418.0 L501.9,421.9 L505.4,426.2 L508.9,430.8 L512.5,435.8 L516.0,441.3 L519.5,447.4 L523.0,454.3 L526.6,462.2 L530.1,471.4 L533.7,482.4 L537.2,496.1 L540.8,514.1 L544.4,539.8 L546.5,563.0 L548.3,592.3 L551.5,745.5 M180.9,315.2 L184.5,315.7 L188.0,316.2 L191.5,316.7 L195.1,317.2 L198.6,317.6 L202.1,318.2 L205.6,318.7 L209.2,319.2 L212.7,319.7 L216.2,320.2 L219.7,320.7 L223.3,321.3 L226.8,321.8 L230.3,322.4 L233.9,322.9 L237.4,323.5 L240.9,324.0 L244.4,324.6 L248.0,325.2 L251.5,325.8 L255.0,326.4 L258.5,327.0 L262.1,327.6 L265.6,328.2 L269.1,328.9 L272.6,329.5 L276.2,330.1 L279.7,330.8 L283.2,331.5 L286.8,332.1 L290.3,332.8 L293.8,333.5 L297.3,334.2 L300.9,334.9 L304.4,335.7 L307.9,336.4 L311.4,337.1 L315.0,337.9 L318.5,338.7 L322.0,339.5 L325.5,340.3 L329.1,341.1 L332.6,341.9 L336.1,342.7 L339.7,343.6 L343.2,344.5 L346.7,345.3 L350.2,346.2 L353.8,347.2 L357.3,348.1 L360.8,349.1 L364.3,350.0 L367.9,351.0 L371.4,352.0 L374.9,353.1 L378.5,354.1 L382.0,355.2 L385.5,356.3 L389.0,357.5 L392.6,358.6 L396.1,359.8 L399.6,361.0 L403.1,362.3 L406.7,363.5 L410.2,364.9 L413.7,366.2 L417.2,367.6 L420.8,369.0 L424.3,370.5 L427.8,372.0 L431.4,373.6 L434.9,375.2 L438.4,376.8 L441.9,378.6 L445.5,380.3 L449.0,382.2 L452.5,384.1 L456.0,386.1 L459.6,388.1 L463.1,390.3 L466.6,392.5 L470.1,394.9 L473.7,397.3 L477.2,399.9 L480.7,402.6 L484.3,405.5 L487.8,408.5 L491.3,411.8 L494.8,415.2 L498.4,418.8 L501.9,422.8 L505.4,427.0 L508.9,431.6 L512.5,436.6 L516.0,442.2 L519.5,448.3 L523.0,455.2 L526.6,463.1 L530.1,472.3 L533.7,483.4 L537.2,497.2 L540.8,515.2 L544.4,541.1 L546.5,564.4 L548.3,593.9 L551.5,745.5 M180.9,315.7 L184.5,316.2 L188.0,316.7 L191.5,317.2 L195.1,317.7 L198.6,318.2 L202.1,318.7 L205.6,319.2 L209.2,319.7 L212.7,320.2 L216.2,320.7 L219.7,321.2 L223.3,321.8 L226.8,322.3 L230.3,322.9 L233.9,323.4 L237.4,324.0 L240.9,324.5 L244.4,325.1 L248.0,325.7 L251.5,326.3 L255.0,326.9 L258.5,327.5 L262.1,328.1 L265.6,328.7 L269.1,329.3 L272.6,330.0 L276.2,330.6 L279.7,331.3 L283.2,331.9 L286.8,332.6 L290.3,333.3 L293.8,334.0 L297.3,334.7 L300.9,335.4 L304.4,336.1 L307.9,336.9 L311.4,337.6 L315.0,338.4 L318.5,339.1 L322.0,339.9 L325.5,340.7 L329.1,341.5 L332.6,342.3 L336.1,343.2 L339.7,344.0 L343.2,344.9 L346.7,345.8 L350.2,346.7 L353.8,347.6 L357.3,348.5 L360.8,349.5 L364.3,350.5 L367.9,351.5 L371.4,352.5 L374.9,353.5 L378.5,354.6 L382.0,355.7 L385.5,356.8 L389.0,357.9 L392.6,359.0 L396.1,360.2 L399.6,361.5 L403.1,362.7 L406.7,364.0 L410.2,365.3 L413.7,366.6 L417.2,368.0 L420.8,369.4 L424.3,370.9 L427.8,372.4 L431.4,374.0 L434.9,375.6 L438.4,377.2 L441.9,379.0 L445.5,380.7 L449.0,382.6 L452.5,384.5 L456.0,386.5 L459.6,388.5 L463.1,390.7 L466.6,392.9 L470.1,395.3 L473.7,397.8 L477.2,400.3 L480.7,403.1 L484.3,405.9 L487.8,408.9 L491.3,412.2 L494.8,415.6 L498.4,419.2 L501.9,423.2 L505.4,427.4 L508.9,432.0 L512.5,437.0 L516.0,442.6 L519.5,448.7 L523.0,455.7 L526.6,463.6 L530.1,472.8 L533.7,483.9 L537.2,497.7 L540.8,515.7 L544.4,541.7 L546.5,565.1 L548.3,594.8 L551.5,745.5 M180.9,316.8 L184.5,317.3 L188.0,317.7 L191.5,318.2 L195.1,318.7 L198.6,319.2 L202.1,319.7 L205.6,320.2 L209.2,320.7 L212.7,321.2 L216.2,321.7 L219.7,322.3 L223.3,322.8 L226.8,323.3 L230.3,323.9 L233.9,324.4 L237.4,325.0 L240.9,325.5 L244.4,326.1 L248.0,326.7 L251.5,327.3 L255.0,327.9 L258.5,328.5 L262.1,329.1 L265.6,329.7 L269.1,330.3 L272.6,330.9 L276.2,331.6 L279.7,332.2 L283.2,332.9 L286.8,333.6 L290.3,334.2 L293.8,334.9 L297.3,335.6 L300.9,336.3 L304.4,337.1 L307.9,337.8 L311.4,338.5 L315.0,339.3 L318.5,340.1 L322.0,340.8 L325.5,341.6 L329.1,342.4 L332.6,343.3 L336.1,344.1 L339.7,345.0 L343.2,345.8 L346.7,346.7 L350.2,347.6 L353.8,348.5 L357.3,349.4 L360.8,350.4 L364.3,351.4 L367.9,352.4 L371.4,353.4 L374.9,354.4 L378.5,355.5 L382.0,356.5 L385.5,357.6 L389.0,358.8 L392.6,359.9 L396.1,361.1 L399.6,362.3 L403.1,363.6 L406.7,364.8 L410.2,366.1 L413.7,367.5 L417.2,368.9 L420.8,370.3 L424.3,371.8 L427.8,373.3 L431.4,374.8 L434.9,376.4 L438.4,378.1 L441.9,379.8 L445.5,381.6 L449.0,383.4 L452.5,385.3 L456.0,387.3 L459.6,389.4 L463.1,391.5 L466.6,393.8 L470.1,396.1 L473.7,398.6 L477.2,401.1 L480.7,403.9 L484.3,406.7 L487.8,409.8 L491.3,413.0 L494.8,416.4 L498.4,420.1 L501.9,424.0 L505.4,428.2 L508.9,432.9 L512.5,437.9 L516.0,443.4 L519.5,449.6 L523.0,456.6 L526.6,464.5 L530.1,473.7 L533.7,484.9 L537.2,498.7 L540.8,516.8 L544.4,543.0 L546.5,566.5 L548.3,596.4 L551.5,745.5 M180.9,317.8 L184.5,318.3 L188.0,318.8 L191.5,319.2 L195.1,319.7 L198.6,320.2 L202.1,320.7 L205.6,321.2 L209.2,321.7 L212.7,322.2 L216.2,322.7 L219.7,323.3 L223.3,323.8 L226.8,324.3 L230.3,324.9 L233.9,325.4 L237.4,326.0 L240.9,326.5 L244.4,327.1 L248.0,327.7 L251.5,328.3 L255.0,328.9 L258.5,329.4 L262.1,330.1 L265.6,330.7 L269.1,331.3 L272.6,331.9 L276.2,332.6 L279.7,333.2 L283.2,333.9 L286.8,334.5 L290.3,335.2 L293.8,335.9 L297.3,336.6 L300.9,337.3 L304.4,338.0 L307.9,338.7 L311.4,339.5 L315.0,340.2 L318.5,341.0 L322.0,341.8 L325.5,342.6 L329.1,343.4 L332.6,344.2 L336.1,345.0 L339.7,345.9 L343.2,346.7 L346.7,347.6 L350.2,348.5 L353.8,349.4 L357.3,350.3 L360.8,351.3 L364.3,352.3 L367.9,353.2 L371.4,354.2 L374.9,355.3 L378.5,356.3 L382.0,357.4 L385.5,358.5 L389.0,359.6 L392.6,360.8 L396.1,362.0 L399.6,363.2 L403.1,364.4 L406.7,365.7 L410.2,367.0 L413.7,368.3 L417.2,369.7 L420.8,371.1 L424.3,372.6 L427.8,374.1 L431.4,375.6 L434.9,377.3 L438.4,378.9 L441.9,380.6 L445.5,382.4 L449.0,384.2 L452.5,386.1 L456.0,388.1 L459.6,390.2 L463.1,392.3 L466.6,394.6 L470.1,396.9 L473.7,399.4 L477.2,402.0 L480.7,404.7 L484.3,407.5 L487.8,410.6 L491.3,413.8 L494.8,417.2 L498.4,420.9 L501.9,424.8 L505.4,429.1 L508.9,433.7 L512.5,438.7 L516.0,444.3 L519.5,450.5 L523.0,457.4 L526.6,465.4 L530.1,474.7 L533.7,485.9 L537.2,499.7 L540.8,518.0 L544.4,544.2 L546.5,567.9 L548.3,598.0 L551.5,745.5 M180.9,318.4 L184.5,318.8 L188.0,319.3 L191.5,319.8 L195.1,320.2 L198.6,320.7 L202.1,321.2 L205.6,321.7 L209.2,322.2 L212.7,322.7 L216.2,323.3 L219.7,323.8 L223.3,324.3 L226.8,324.8 L230.3,325.4 L233.9,325.9 L237.4,326.5 L240.9,327.0 L244.4,327.6 L248.0,328.2 L251.5,328.8 L255.0,329.3 L258.5,329.9 L262.1,330.5 L265.6,331.2 L269.1,331.8 L272.6,332.4 L276.2,333.0 L279.7,333.7 L283.2,334.3 L286.8,335.0 L290.3,335.7 L293.8,336.4 L297.3,337.1 L300.9,337.8 L304.4,338.5 L307.9,339.2 L311.4,339.9 L315.0,340.7 L318.5,341.5 L322.0,342.2 L325.5,343.0 L329.1,343.8 L332.6,344.6 L336.1,345.5 L339.7,346.3 L343.2,347.2 L346.7,348.1 L350.2,348.9 L353.8,349.9 L357.3,350.8 L360.8,351.7 L364.3,352.7 L367.9,353.7 L371.4,354.7 L374.9,355.7 L378.5,356.8 L382.0,357.8 L385.5,358.9 L389.0,360.1 L392.6,361.2 L396.1,362.4 L399.6,363.6 L403.1,364.8 L406.7,366.1 L410.2,367.4 L413.7,368.8 L417.2,370.1 L420.8,371.6 L424.3,373.0 L427.8,374.5 L431.4,376.1 L434.9,377.7 L438.4,379.3 L441.9,381.0 L445.5,382.8 L449.0,384.6 L452.5,386.5 L456.0,388.5 L459.6,390.6 L463.1,392.7 L466.6,395.0 L470.1,397.3 L473.7,399.8 L477.2,402.4 L480.7,405.1 L484.3,407.9 L487.8,411.0 L491.3,414.2 L494.8,417.6 L498.4,421.3 L501.9,425.2 L505.4,429.5 L508.9,434.1 L512.5,439.2 L516.0,444.7 L519.5,450.9 L523.0,457.9 L526.6,465.9 L530.1,475.1 L533.7,486.3 L537.2,500.3 L540.8,518.5 L544.4,544.9 L546.5,568.6 L548.3,598.8 L551.5,745.5 M180.9,319.4 L184.5,319.9 L188.0,320.3 L191.5,320.8 L195.1,321.3 L198.6,321.8 L202.1,322.3 L205.6,322.8 L209.2,323.3 L212.7,323.8 L216.2,324.3 L219.7,324.8 L223.3,325.3 L226.8,325.8 L230.3,326.4 L233.9,326.9 L237.4,327.5 L240.9,328.0 L244.4,328.6 L248.0,329.2 L251.5,329.7 L255.0,330.3 L258.5,330.9 L262.1,331.5 L265.6,332.1 L269.1,332.7 L272.6,333.4 L276.2,334.0 L279.7,334.7 L283.2,335.3 L286.8,336.0 L290.3,336.6 L293.8,337.3 L297.3,338.0 L300.9,338.7 L304.4,339.4 L307.9,340.1 L311.4,340.9 L315.0,341.6 L318.5,342.4 L322.0,343.2 L325.5,344.0 L329.1,344.7 L332.6,345.6 L336.1,346.4 L339.7,347.2 L343.2,348.1 L346.7,349.0 L350.2,349.9 L353.8,350.8 L357.3,351.7 L360.8,352.6 L364.3,353.6 L367.9,354.6 L371.4,355.6 L374.9,356.6 L378.5,357.6 L382.0,358.7 L385.5,359.8 L389.0,360.9 L392.6,362.1 L396.1,363.3 L399.6,364.5 L403.1,365.7 L406.7,367.0 L410.2,368.3 L413.7,369.6 L417.2,371.0 L420.8,372.4 L424.3,373.9 L427.8,375.4 L431.4,376.9 L434.9,378.5 L438.4,380.2 L441.9,381.9 L445.5,383.6 L449.0,385.5 L452.5,387.4 L456.0,389.3 L459.6,391.4 L463.1,393.6 L466.6,395.8 L470.1,398.1 L473.7,400.6 L477.2,403.2 L480.7,405.9 L484.3,408.8 L487.8,411.8 L491.3,415.0 L494.8,418.4 L498.4,422.1 L501.9,426.1 L505.4,430.3 L508.9,434.9 L512.5,440.0 L516.0,445.6 L519.5,451.8 L523.0,458.8 L526.6,466.8 L530.1,476.1 L533.7,487.3 L537.2,501.3 L540.8,519.6 L544.4,546.1 L546.5,570.0 L548.3,600.5 L551.5,745.5 M180.9,320.4 L184.5,320.9 L188.0,321.4 L191.5,321.8 L195.1,322.3 L198.6,322.8 L202.1,323.3 L205.6,323.8 L209.2,324.3 L212.7,324.8 L216.2,325.3 L219.7,325.8 L223.3,326.3 L226.8,326.9 L230.3,327.4 L233.9,327.9 L237.4,328.5 L240.9,329.0 L244.4,329.6 L248.0,330.2 L251.5,330.7 L255.0,331.3 L258.5,331.9 L262.1,332.5 L265.6,333.1 L269.1,333.7 L272.6,334.3 L276.2,335.0 L279.7,335.6 L283.2,336.3 L286.8,336.9 L290.3,337.6 L293.8,338.3 L297.3,339.0 L300.9,339.7 L304.4,340.4 L307.9,341.1 L311.4,341.8 L315.0,342.6 L318.5,343.3 L322.0,344.1 L325.5,344.9 L329.1,345.7 L332.6,346.5 L336.1,347.3 L339.7,348.1 L343.2,349.0 L346.7,349.9 L350.2,350.8 L353.8,351.7 L357.3,352.6 L360.8,353.5 L364.3,354.5 L367.9,355.5 L371.4,356.5 L374.9,357.5 L378.5,358.5 L382.0,359.6 L385.5,360.7 L389.0,361.8 L392.6,362.9 L396.1,364.1 L399.6,365.3 L403.1,366.6 L406.7,367.8 L410.2,369.1 L413.7,370.5 L417.2,371.8 L420.8,373.2 L424.3,374.7 L427.8,376.2 L431.4,377.7 L434.9,379.3 L438.4,381.0 L441.9,382.7 L445.5,384.5 L449.0,386.3 L452.5,388.2 L456.0,390.2 L459.6,392.2 L463.1,394.4 L466.6,396.6 L470.1,399.0 L473.7,401.4 L477.2,404.0 L480.7,406.7 L484.3,409.6 L487.8,412.6 L491.3,415.8 L494.8,419.3 L498.4,422.9 L501.9,426.9 L505.4,431.1 L508.9,435.8 L512.5,440.8 L516.0,446.4 L519.5,452.6 L523.0,459.6 L526.6,467.7 L530.1,477.0 L533.7,488.3 L537.2,502.3 L540.8,520.8 L544.4,547.4 L546.5,571.5 L548.3,602.1 L551.5,745.5 M180.9,321.0 L184.5,321.4 L188.0,321.9 L191.5,322.4 L195.1,322.8 L198.6,323.3 L202.1,323.8 L205.6,324.3 L209.2,324.8 L212.7,325.3 L216.2,325.8 L219.7,326.3 L223.3,326.8 L226.8,327.4 L230.3,327.9 L233.9,328.4 L237.4,329.0 L240.9,329.5 L244.4,330.1 L248.0,330.6 L251.5,331.2 L255.0,331.8 L258.5,332.4 L262.1,333.0 L265.6,333.6 L269.1,334.2 L272.6,334.8 L276.2,335.5 L279.7,336.1 L283.2,336.7 L286.8,337.4 L290.3,338.1 L293.8,338.7 L297.3,339.4 L300.9,340.1 L304.4,340.8 L307.9,341.6 L311.4,342.3 L315.0,343.0 L318.5,343.8 L322.0,344.6 L325.5,345.3 L329.1,346.1 L332.6,346.9 L336.1,347.8 L339.7,348.6 L343.2,349.5 L346.7,350.3 L350.2,351.2 L353.8,352.1 L357.3,353.0 L360.8,354.0 L364.3,354.9 L367.9,355.9 L371.4,356.9 L374.9,357.9 L378.5,359.0 L382.0,360.0 L385.5,361.1 L389.0,362.2 L392.6,363.4 L396.1,364.6 L399.6,365.8 L403.1,367.0 L406.7,368.2 L410.2,369.5 L413.7,370.9 L417.2,372.2 L420.8,373.7 L424.3,375.1 L427.8,376.6 L431.4,378.2 L434.9,379.7 L438.4,381.4 L441.9,383.1 L445.5,384.9 L449.0,386.7 L452.5,388.6 L456.0,390.6 L459.6,392.6 L463.1,394.8 L466.6,397.0 L470.1,399.4 L473.7,401.8 L477.2,404.4 L480.7,407.1 L484.3,410.0 L487.8,413.0 L491.3,416.2 L494.8,419.7 L498.4,423.3 L501.9,427.3 L505.4,431.6 L508.9,436.2 L512.5,441.3 L516.0,446.8 L519.5,453.1 L523.0,460.1 L526.6,468.1 L530.1,477.5 L533.7,488.8 L537.2,502.8 L540.8,521.3 L544.4,548.0 L546.5,572.2 L548.3,602.9 L551.5,745.5 M180.9,321.5 L184.5,321.9 L188.0,322.4 L191.5,322.9 L195.1,323.3 L198.6,323.8 L202.1,324.3 L205.6,324.8 L209.2,325.3 L212.7,325.8 L216.2,326.3 L219.7,326.8 L223.3,327.3 L226.8,327.9 L230.3,328.4 L233.9,328.9 L237.4,329.5 L240.9,330.0 L244.4,330.6 L248.0,331.1 L251.5,331.7 L255.0,332.3 L258.5,332.9 L262.1,333.5 L265.6,334.1 L269.1,334.7 L272.6,335.3 L276.2,335.9 L279.7,336.6 L283.2,337.2 L286.8,337.9 L290.3,338.5 L293.8,339.2 L297.3,339.9 L300.9,340.6 L304.4,341.3 L307.9,342.0 L311.4,342.8 L315.0,343.5 L318.5,344.3 L322.0,345.0 L325.5,345.8 L329.1,346.6 L332.6,347.4 L336.1,348.2 L339.7,349.1 L343.2,349.9 L346.7,350.8 L350.2,351.7 L353.8,352.6 L357.3,353.5 L360.8,354.4 L364.3,355.4 L367.9,356.3 L371.4,357.3 L374.9,358.4 L378.5,359.4 L382.0,360.5 L385.5,361.6 L389.0,362.7 L392.6,363.8 L396.1,365.0 L399.6,366.2 L403.1,367.4 L406.7,368.7 L410.2,370.0 L413.7,371.3 L417.2,372.7 L420.8,374.1 L424.3,375.5 L427.8,377.0 L431.4,378.6 L434.9,380.2 L438.4,381.8 L441.9,383.5 L445.5,385.3 L449.0,387.1 L452.5,389.0 L456.0,391.0 L459.6,393.0 L463.1,395.2 L466.6,397.4 L470.1,399.8 L473.7,402.2 L477.2,404.8 L480.7,407.5 L484.3,410.4 L487.8,413.4 L491.3,416.6 L494.8,420.1 L498.4,423.8 L501.9,427.7 L505.4,432.0 L508.9,436.6 L512.5,441.7 L516.0,447.3 L519.5,453.5 L523.0,460.5 L526.6,468.6 L530.1,477.9 L533.7,489.3 L537.2,503.4 L540.8,521.9 L544.4,548.7 L546.5,572.9 L548.3,603.7 L551.5,745.5 M180.9,322.0 L184.5,322.5 L188.0,322.9 L191.5,323.4 L195.1,323.9 L198.6,324.3 L202.1,324.8 L205.6,325.3 L209.2,325.8 L212.7,326.3 L216.2,326.8 L219.7,327.3 L223.3,327.8 L226.8,328.4 L230.3,328.9 L233.9,329.4 L237.4,330.0 L240.9,330.5 L244.4,331.1 L248.0,331.6 L251.5,332.2 L255.0,332.8 L258.5,333.4 L262.1,334.0 L265.6,334.6 L269.1,335.2 L272.6,335.8 L276.2,336.4 L279.7,337.1 L283.2,337.7 L286.8,338.4 L290.3,339.0 L293.8,339.7 L297.3,340.4 L300.9,341.1 L304.4,341.8 L307.9,342.5 L311.4,343.2 L315.0,344.0 L318.5,344.7 L322.0,345.5 L325.5,346.3 L329.1,347.1 L332.6,347.9 L336.1,348.7 L339.7,349.5 L343.2,350.4 L346.7,351.2 L350.2,352.1 L353.8,353.0 L357.3,353.9 L360.8,354.9 L364.3,355.8 L367.9,356.8 L371.4,357.8 L374.9,358.8 L378.5,359.8 L382.0,360.9 L385.5,362.0 L389.0,363.1 L392.6,364.2 L396.1,365.4 L399.6,366.6 L403.1,367.8 L406.7,369.1 L410.2,370.4 L413.7,371.7 L417.2,373.1 L420.8,374.5 L424.3,376.0 L427.8,377.4 L431.4,379.0 L434.9,380.6 L438.4,382.2 L441.9,383.9 L445.5,385.7 L449.0,387.5 L452.5,389.4 L456.0,391.4 L459.6,393.4 L463.1,395.6 L466.6,397.8 L470.1,400.2 L473.7,402.6 L477.2,405.2 L480.7,407.9 L484.3,410.8 L487.8,413.8 L491.3,417.0 L494.8,420.5 L498.4,424.2 L501.9,428.1 L505.4,432.4 L508.9,437.0 L512.5,442.1 L516.0,447.7 L519.5,453.9 L523.0,461.0 L526.6,469.0 L530.1,478.4 L533.7,489.8 L537.2,503.9 L540.8,522.4 L544.4,549.3 L546.5,573.6 L548.3,604.5 L551.5,745.5 M180.9,322.5 L184.5,323.0 L188.0,323.4 L191.5,323.9 L195.1,324.4 L198.6,324.9 L202.1,325.3 L205.6,325.8 L209.2,326.3 L212.7,326.8 L216.2,327.3 L219.7,327.8 L223.3,328.3 L226.8,328.9 L230.3,329.4 L233.9,329.9 L237.4,330.5 L240.9,331.0 L244.4,331.6 L248.0,332.1 L251.5,332.7 L255.0,333.3 L258.5,333.9 L262.1,334.5 L265.6,335.1 L269.1,335.7 L272.6,336.3 L276.2,336.9 L279.7,337.5 L283.2,338.2 L286.8,338.8 L290.3,339.5 L293.8,340.2 L297.3,340.9 L300.9,341.5 L304.4,342.3 L307.9,343.0 L311.4,343.7 L315.0,344.4 L318.5,345.2 L322.0,345.9 L325.5,346.7 L329.1,347.5 L332.6,348.3 L336.1,349.1 L339.7,350.0 L343.2,350.8 L346.7,351.7 L350.2,352.6 L353.8,353.5 L357.3,354.4 L360.8,355.3 L364.3,356.3 L367.9,357.2 L371.4,358.2 L374.9,359.2 L378.5,360.3 L382.0,361.3 L385.5,362.4 L389.0,363.5 L392.6,364.7 L396.1,365.8 L399.6,367.0 L403.1,368.3 L406.7,369.5 L410.2,370.8 L413.7,372.1 L417.2,373.5 L420.8,374.9 L424.3,376.4 L427.8,377.9 L431.4,379.4 L434.9,381.0 L438.4,382.6 L441.9,384.3 L445.5,386.1 L449.0,387.9 L452.5,389.8 L456.0,391.8 L459.6,393.9 L463.1,396.0 L466.6,398.2 L470.1,400.6 L473.7,403.0 L477.2,405.6 L480.7,408.3 L484.3,411.2 L487.8,414.2 L491.3,417.5 L494.8,420.9 L498.4,424.6 L501.9,428.5 L505.4,432.8 L508.9,437.4 L512.5,442.5 L516.0,448.1 L519.5,454.4 L523.0,461.4 L526.6,469.5 L530.1,478.9 L533.7,490.2 L537.2,504.4 L540.8,523.0 L544.4,549.9 L546.5,574.3 L548.3,605.3 L551.5,745.5" stroke="#000" stroke-width="2.4"/>
<path d="M553.5,700.0 L554.3,515.1 L554.7,511.4 L555.0,508.0 L555.3,504.7 L555.6,501.6 L555.9,498.7 L556.3,495.9 L556.6,493.2 L556.9,490.6 L557.2,488.2 L557.6,485.8 L557.9,483.5 L558.2,481.3 L558.5,479.2 L558.8,477.2 L559.2,475.2 L559.5,473.3 L559.8,471.5 L560.1,469.7 L560.5,467.9 L560.8,466.2 L561.1,464.6 L561.4,463.0 L561.8,461.4 L562.1,459.9 L562.4,458.4 L562.7,456.9 L563.0,455.5 L563.4,454.1 L564.0,451.4 L564.7,448.8 L565.3,446.3 L565.9,443.9 L566.6,441.6 L567.2,439.3 L567.9,437.2 L568.5,435.1 L569.2,433.0 L569.8,431.0 L570.5,429.1 L571.1,427.2 L571.8,425.4 L572.4,423.6 L573.0,421.8 L573.7,420.1 L574.3,418.5 L575.0,416.8 L575.6,415.2 L576.3,413.6 L576.9,412.1 L577.6,410.6 L578.2,409.1 L578.9,407.6 L579.5,406.1 L580.1,404.7 L580.8,403.3 L581.4,401.9 L582.1,400.5 L582.7,399.2 L583.4,397.8 L584.0,396.5 L584.7,395.2 L585.3,393.9 L586.0,392.6 L586.6,391.3 L587.2,390.0 L588.2,388.2 L589.2,386.3 L590.2,384.5 L591.1,382.6 L592.1,380.8 L593.1,379.0 L594.0,377.2 L595.0,375.5 L596.0,373.7 L596.9,372.0 L597.9,370.2 L598.9,368.5 L599.8,366.7 L600.8,365.0 L601.8,363.2 L602.7,361.5 L603.7,359.8 L604.7,358.0 L605.6,356.3 L606.6,354.5 L607.6,352.8 L608.5,351.0 L609.5,349.3 L610.5,347.5 L611.5,345.7 L612.4,344.0 L613.4,342.2 L614.4,340.4 L615.3,338.6 L616.3,336.8 L617.3,335.0 L618.2,333.1 L619.2,331.3 L620.2,329.5 L621.1,327.6 L622.1,325.7 L623.1,323.9 L624.0,322.0 L624.7,320.7 L625.3,319.5 L626.0,318.2 L626.6,316.9 L627.3,315.7 L627.9,314.4 L628.6,313.1 L629.2,311.8 L629.8,310.5 L630.5,309.2 L631.1,307.9 L631.8,306.6 L632.4,305.3 L633.1,304.0 L633.7,302.7 L634.4,301.4 L635.0,300.1 L635.7,298.8 L636.3,297.4 L636.9,296.1 L637.6,294.8 L638.2,293.5 L638.9,292.1 L639.5,290.8 L640.2,289.5 L640.8,288.1 L641.5,286.8 L642.1,285.5 L642.8,284.1 L643.4,282.8 L644.0,281.5 L644.7,280.1 L645.3,278.8 L646.0,277.5 L646.6,276.1 L647.3,274.8 L647.9,273.5 L648.6,272.2 L649.2,270.8 L649.9,269.5 L650.5,268.2 L651.1,266.9 L651.8,265.5 L652.4,264.2 L653.1,262.9 L653.7,261.6 L654.4,260.3 L655.0,259.0 L655.7,257.7 L656.3,256.4 L657.0,255.1 L657.6,253.8 L658.2,252.5 L658.9,251.2 L659.5,249.9 L660.2,248.1 L660.8,246.1 L661.5,244.0 L662.1,242.0 L662.8,240.1 L663.4,238.1 L664.1,236.2 L664.7,234.4 L665.3,232.6 L666.0,230.8 L666.6,229.1 L667.3,227.4 L667.9,225.7 L668.6,224.1 L669.2,222.5 L669.9,220.9 L670.5,219.4 L671.2,217.9 L671.8,216.4 L672.4,214.9 L673.1,213.5 L673.7,212.1 L674.4,210.7 L675.0,209.3 L675.7,208.0 L676.3,206.7 L677.0,205.3 L677.6,204.1 L678.3,202.8 L679.2,200.9 L680.2,199.1 L681.2,197.3 L682.1,195.6 L683.1,193.9 L684.1,192.2 L685.0,190.5 L686.0,188.9 L687.0,187.3 L687.9,185.8 L688.9,184.3 L689.9,182.7 L690.8,181.3 L691.8,179.8 L692.8,178.4 L693.7,177.0 L694.7,175.6 L695.7,174.3 L696.7,172.9 L697.6,171.6 L698.6,170.3 L699.6,169.0 L700.5,167.8 L701.5,166.6 L702.5,165.3 L703.4,164.1 L704.4,163.0 L705.4,161.8 L706.3,160.7 L707.3,159.5 L708.3,158.4 L709.2,157.3 L710.2,156.2 L711.2,155.2 L712.1,154.1 L713.1,153.1 L714.4,151.7 L715.4,150.7 L716.4,149.7 L717.4,148.6 L718.5,147.6 L719.5,146.5 L720.6,145.5 L721.6,144.5 L722.7,143.5 L723.7,142.5 L724.8,141.6 L725.8,140.6 L727.0,139.6 L728.1,138.6 L729.2,137.7 L730.3,136.7 L731.4,135.7 L732.5,134.8 L733.6,133.8 L734.6,132.8 L735.6,131.7 L736.5,130.6 L737.4,129.4 L738.2,128.1 L738.9,126.8 L739.6,125.5 L740.2,124.3 L740.9,122.9 L741.5,121.5 L742.0,120.1 L742.6,118.7 L743.1,117.2 L743.6,115.9 L744.1,114.5 L744.6,113.2 L745.1,111.8 L745.6,110.4 L746.1,108.9 L746.6,107.5 L747.1,106.1 L747.6,104.7 L748.1,103.2 L748.6,101.8 L749.1,100.4 L749.6,99.0 L750.1,97.6 L750.6,96.2 L751.0,94.9 L751.5,93.5 L752.0,92.2 L752.6,90.7 L753.1,89.3 L753.7,87.8 L754.3,86.4 L754.8,85.0 L755.4,83.6 L755.9,82.3 L756.5,81.0 L757.0,79.7 L757.7,78.2 L758.3,76.8 L758.9,75.5 L759.5,74.1 L760.1,72.8 L760.7,71.5 L761.4,70.2 L762.0,68.8 L762.7,67.5 L763.4,66.1 L764.1,64.8 L764.8,63.6 L765.4,62.3 L766.2,61.0 L766.7,60.0 M553.5,700.0 L554.3,527.5 L554.7,525.6 L555.0,523.7 L555.3,521.9 L555.6,520.1 L555.9,518.4 L556.3,516.7 L556.6,515.0 L556.9,513.4 L557.2,511.8 L557.6,510.3 L557.9,508.8 L558.2,507.3 L558.5,505.8 L558.8,504.4 L559.2,503.0 L559.8,500.3 L560.5,497.7 L561.1,495.1 L561.8,492.7 L562.4,490.3 L563.0,487.9 L563.7,485.7 L564.3,483.5 L565.0,481.4 L565.6,479.3 L566.3,477.2 L566.9,475.2 L567.6,473.3 L568.2,471.4 L568.9,469.5 L569.5,467.6 L570.1,465.8 L570.8,464.0 L571.4,462.3 L572.1,460.6 L572.7,458.9 L573.4,457.2 L574.0,455.5 L574.7,453.9 L575.3,452.3 L576.0,450.7 L576.6,449.1 L577.2,447.6 L577.9,446.0 L578.5,444.5 L579.2,443.0 L579.8,441.5 L580.5,440.0 L581.1,438.5 L581.8,437.1 L582.4,435.6 L583.1,434.2 L583.7,432.7 L584.3,431.3 L585.0,429.9 L585.6,428.5 L586.3,427.1 L586.9,425.7 L587.6,424.3 L588.2,422.9 L588.9,421.5 L589.5,420.2 L590.2,418.8 L590.8,417.4 L591.4,416.1 L592.1,414.7 L592.7,413.4 L593.4,412.0 L594.0,410.7 L594.7,409.4 L595.3,408.0 L596.0,406.7 L596.6,405.3 L597.3,404.0 L597.9,402.7 L598.5,401.4 L599.2,400.0 L599.8,398.7 L600.5,397.4 L601.1,396.1 L601.8,394.7 L602.4,393.4 L603.1,392.1 L603.7,390.8 L604.4,389.4 L605.0,388.1 L605.6,386.8 L606.3,385.5 L606.9,384.2 L607.6,382.8 L608.2,381.5 L608.9,380.2 L609.5,378.9 L610.2,377.6 L610.8,376.2 L611.5,374.9 L612.1,373.6 L612.7,372.3 L613.4,370.9 L614.0,369.6 L614.7,368.3 L615.3,367.0 L616.0,365.7 L616.6,364.3 L617.3,363.0 L617.9,361.7 L618.6,360.4 L619.2,359.0 L619.8,357.7 L620.5,356.4 L621.1,355.1 L621.8,353.7 L622.4,352.4 L623.1,351.1 L623.7,349.8 L624.4,348.4 L625.0,347.1 L625.7,345.8 L626.3,344.5 L626.9,343.2 L627.6,341.8 L628.2,340.5 L628.9,339.2 L629.5,337.9 L630.2,336.6 L630.8,335.3 L631.5,333.9 L632.1,332.6 L632.8,331.3 L633.4,330.0 L634.0,328.7 L634.7,327.4 L635.3,326.1 L636.0,324.8 L636.6,323.5 L637.3,322.2 L637.9,320.9 L638.6,319.6 L639.2,318.4 L639.9,317.1 L640.5,315.8 L641.1,314.5 L641.8,313.2 L642.4,312.0 L643.1,310.7 L643.7,309.4 L644.4,308.2 L645.3,306.3 L646.3,304.4 L647.3,302.6 L648.2,300.7 L649.2,298.9 L650.2,297.0 L651.1,295.2 L652.1,293.4 L653.1,291.6 L654.1,289.8 L655.0,288.1 L656.0,286.3 L657.0,284.6 L657.9,282.8 L658.9,281.1 L659.9,279.4 L660.8,277.7 L661.8,276.0 L662.8,274.2 L663.4,272.7 L664.1,270.7 L664.7,268.3 L665.3,265.7 L666.0,262.9 L666.3,261.6 L667.0,258.8 L667.6,256.1 L668.3,253.5 L668.9,251.0 L669.5,248.5 L670.2,246.2 L670.8,243.9 L671.5,241.6 L672.1,239.5 L672.8,237.4 L673.4,235.4 L674.1,233.4 L674.7,231.5 L675.4,229.7 L676.0,227.9 L676.6,226.1 L677.3,224.4 L677.9,222.8 L678.6,221.2 L679.2,219.6 L679.9,218.0 L680.5,216.5 L681.2,215.1 L681.8,213.6 L682.5,212.2 L683.1,210.9 L683.7,209.5 L684.4,208.2 L685.0,206.9 L685.7,205.7 L686.6,203.8 L687.6,202.0 L688.6,200.3 L689.6,198.6 L690.5,196.9 L691.5,195.3 L692.5,193.8 L693.4,192.2 L694.4,190.7 L695.4,189.3 L696.3,187.8 L697.3,186.4 L698.3,185.1 L699.2,183.7 L700.2,182.4 L701.2,181.1 L702.1,179.8 L703.1,178.6 L704.1,177.4 L705.0,176.2 L706.0,175.0 L707.0,173.9 L707.9,172.8 L708.9,171.6 L709.9,170.6 L710.9,169.5 L711.8,168.4 L712.8,167.4 L714.1,166.0 L715.4,164.7 L716.4,163.7 L717.4,162.6 L718.5,161.6 L719.5,160.6 L720.6,159.6 L721.6,158.6 L722.7,157.6 L723.7,156.7 L724.9,155.7 L726.0,154.7 L727.1,153.8 L728.2,152.8 L729.3,151.9 L730.4,150.9 L731.5,150.0 L732.6,149.0 L733.7,148.1 L734.7,147.0 L735.7,145.9 L736.7,144.8 L737.5,143.5 L738.3,142.3 L739.1,141.0 L739.7,139.7 L740.4,138.3 L741.0,137.0 L741.7,135.7 L742.3,134.2 L742.8,132.9 L743.4,131.5 L743.9,130.2 L744.5,128.8 L745.1,127.3 L745.6,125.9 L746.2,124.4 L746.7,123.0 L747.3,121.5 L747.8,120.1 L748.4,118.6 L748.9,117.2 L749.5,115.8 L750.1,114.3 L750.6,112.9 L751.2,111.5 L751.7,110.2 L752.3,108.8 L752.8,107.4 L753.4,106.1 L754.0,104.8 L754.6,103.3 L755.2,101.9 L755.8,100.5 L756.4,99.2 L757.0,97.8 L757.7,96.5 L758.3,95.2 L758.9,93.9 L759.6,92.5 L760.3,91.1 L760.9,89.8 L761.6,88.5 L762.3,87.2 L763.0,85.9 L763.6,84.7 L764.4,83.4 L765.1,82.1 L765.9,80.8 L766.6,79.5 L767.4,78.3 L768.1,77.1 L768.9,75.8 L769.7,74.5 L770.5,73.3 L771.3,72.1 L772.1,70.9 L772.9,69.7 L773.8,68.5 L774.6,67.3 L775.5,66.1 L776.4,64.9 L777.2,63.8 L778.2,62.6 L779.1,61.4 L780.0,60.3 L780.3,60.0 M553.5,700.0 L554.3,572.4 L554.7,566.4 L555.0,561.0 L555.3,556.0 L555.6,551.5 L555.9,547.3 L556.3,543.4 L556.6,539.7 L556.9,536.3 L557.2,533.0 L557.6,530.0 L557.9,527.1 L558.2,524.3 L558.5,521.7 L558.8,519.2 L559.2,516.8 L559.5,514.5 L559.8,512.3 L560.1,510.1 L560.5,508.1 L560.8,506.1 L561.1,504.2 L561.4,502.4 L561.8,500.6 L562.1,498.8 L562.4,497.2 L562.7,495.5 L563.0,493.9 L563.4,492.4 L563.7,490.9 L564.0,489.4 L564.3,488.0 L564.7,486.6 L565.3,483.9 L565.9,481.4 L566.6,478.9 L567.2,476.6 L567.9,474.3 L568.5,472.2 L569.2,470.1 L569.8,468.1 L570.5,466.2 L571.1,464.3 L571.8,462.5 L572.4,460.7 L573.0,459.0 L573.7,457.4 L574.3,455.8 L575.0,454.2 L575.6,452.7 L576.3,451.2 L576.9,449.8 L577.6,448.4 L578.2,447.0 L578.9,445.7 L579.5,444.3 L580.1,443.1 L581.1,441.2 L582.1,439.4 L583.1,437.7 L584.0,436.0 L585.0,434.3 L586.0,432.7 L586.9,431.2 L587.9,429.7 L588.9,428.2 L589.8,426.8 L590.8,425.4 L591.8,424.0 L592.7,422.7 L593.7,421.4 L594.7,420.1 L595.6,418.9 L596.6,417.7 L597.6,416.5 L598.5,415.3 L599.5,414.2 L600.5,413.0 L601.4,411.9 L602.4,410.9 L603.4,409.8 L604.4,408.8 L605.6,407.4 L606.9,406.1 L608.2,404.8 L609.5,403.6 L610.8,402.3 L612.1,401.1 L613.4,399.9 L614.7,398.8 L616.0,397.7 L617.3,396.5 L618.6,395.5 L619.8,394.4 L621.1,393.3 L622.4,392.3 L623.7,391.3 L625.0,390.3 L626.3,389.3 L627.6,388.4 L628.9,387.4 L630.2,386.5 L631.5,385.6 L632.8,384.7 L634.0,383.8 L635.3,382.9 L636.6,382.1 L637.9,381.2 L639.2,380.4 L640.5,379.6 L641.8,378.8 L643.1,378.0 L644.4,377.2 L645.7,376.4 L647.0,375.7 L648.2,374.9 L649.5,374.2 L650.5,373.1 L650.8,371.7 L651.1,369.6 L651.5,367.2 L651.8,364.7 L652.1,362.3 L652.4,359.8 L652.8,357.5 L653.1,355.2 L653.4,352.9 L653.7,350.8 L654.1,348.7 L654.4,346.7 L654.7,344.7 L655.0,342.8 L655.3,341.0 L655.7,339.2 L656.0,337.5 L656.3,335.9 L656.6,334.2 L657.0,332.7 L657.3,331.1 L657.6,329.7 L657.9,328.2 L658.2,326.8 L658.6,325.4 L659.2,322.8 L659.9,320.2 L660.5,317.8 L661.2,315.5 L661.8,313.2 L662.4,311.1 L663.1,309.1 L663.7,307.1 L664.4,305.2 L665.0,303.3 L665.7,301.5 L666.3,299.8 L667.0,298.1 L667.6,296.5 L668.3,294.9 L668.9,293.4 L669.5,291.9 L670.2,290.4 L670.8,289.0 L671.5,287.7 L672.1,286.3 L672.8,285.0 L673.4,283.7 L674.4,281.9 L675.4,280.1 L676.3,278.3 L677.3,276.6 L678.3,275.0 L679.2,273.4 L680.2,271.9 L681.2,270.4 L682.1,268.9 L683.1,267.5 L684.1,266.1 L685.0,264.8 L686.0,263.4 L687.0,262.2 L687.9,260.9 L688.9,259.7 L689.9,258.5 L690.8,257.3 L691.8,256.2 L692.8,255.0 L693.7,253.9 L694.7,252.9 L695.7,251.8 L696.7,250.8 L697.9,249.4 L699.2,248.1 L700.5,246.8 L701.8,245.6 L703.1,244.3 L704.4,243.1 L705.7,242.0 L707.0,240.8 L708.3,239.7 L709.6,238.6 L710.9,237.5 L712.1,236.5 L713.4,235.4 L714.7,234.4 L715.9,233.5 L717.1,232.6 L718.2,231.7 L719.4,230.9 L720.6,230.0 L721.8,229.2 L722.9,228.3 L724.1,227.5 L725.3,226.7 L726.5,225.9 L727.6,225.1 L728.8,224.3 L730.0,223.4 L731.0,222.4 L732.0,221.3 L732.8,220.1 L733.6,218.8 L734.2,217.4 L734.7,216.0 L735.2,214.6 L735.7,213.3 L736.1,211.8 L736.5,210.3 L736.9,208.8 L737.3,207.3 L737.6,205.8 L738.0,204.2 L738.4,202.6 L738.7,201.2 L739.0,199.7 L739.3,198.3 L739.6,196.9 L739.9,195.4 L740.2,194.0 L740.5,192.5 L740.9,191.0 L741.2,189.6 L741.5,188.1 L741.8,186.7 L742.1,185.2 L742.4,183.8 L742.7,182.4 L743.0,181.0 L743.3,179.6 L743.7,178.0 L744.1,176.3 L744.4,174.7 L744.8,173.2 L745.2,171.6 L745.5,170.1 L745.9,168.6 L746.3,167.1 L746.7,165.6 L747.0,164.2 L747.4,162.8 L747.8,161.4 L748.2,159.8 L748.6,158.3 L749.1,156.8 L749.5,155.3 L749.9,153.8 L750.4,152.4 L750.8,151.0 L751.2,149.6 L751.7,148.3 L752.2,146.7 L752.7,145.3 L753.1,143.8 L753.6,142.4 L754.1,141.0 L754.6,139.7 L755.1,138.3 L755.7,136.9 L756.2,135.4 L756.8,134.0 L757.3,132.7 L757.9,131.3 L758.5,130.0 L759.1,128.6 L759.7,127.2 L760.3,125.8 L760.9,124.5 L761.5,123.2 L762.2,121.9 L762.8,120.5 L763.5,119.2 L764.2,117.9 L764.9,116.6 L765.6,115.3 L766.3,114.0 L767.0,112.6 L767.8,111.4 L768.5,110.1 L769.3,108.9 L770.0,107.7 L770.8,106.4 L771.6,105.1 L772.4,103.9 L773.2,102.7 L774.0,101.5 L774.9,100.3 L775.8,99.1 L776.6,97.9 L777.5,96.7 L778.4,95.6 L779.2,94.4 L780.1,93.3 L781.1,92.1 L782.0,91.0 L782.9,89.9 L783.8,88.8 L784.8,87.6 L785.8,86.5 L786.8,85.4 L787.8,84.4 L788.8,83.3 L789.8,82.3 L790.8,81.3 L791.8,80.2 L792.9,79.2 L793.9,78.1 L795.0,77.1 L796.0,76.2 L797.1,75.2 L798.1,74.2 L799.2,73.3 L800.3,72.3 L801.5,71.3 L802.6,70.4 L803.7,69.5 L804.8,68.6 L805.9,67.7 L807.0,66.8 M553.5,700.0 L554.3,576.1 L554.7,570.1 L555.0,564.6 L555.3,559.7 L555.6,555.2 L555.9,550.9 L556.3,547.0 L556.6,543.4 L556.9,539.9 L557.2,536.7 L557.6,533.7 L557.9,530.8 L558.2,528.0 L558.5,525.4 L558.8,522.9 L559.2,520.5 L559.5,518.2 L559.8,516.0 L560.1,513.8 L560.5,511.8 L560.8,509.8 L561.1,507.9 L561.4,506.0 L561.8,504.3 L562.1,502.5 L562.4,500.8 L562.7,499.2 L563.0,497.6 L563.4,496.1 L563.7,494.6 L564.0,493.1 L564.3,491.7 L564.7,490.3 L565.3,487.6 L565.9,485.1 L566.6,482.6 L567.2,480.3 L567.9,478.0 L568.5,475.9 L569.2,473.8 L569.8,471.8 L570.5,469.8 L571.1,468.0 L571.8,466.2 L572.4,464.4 L573.0,462.7 L573.7,461.0 L574.3,459.4 L575.0,457.9 L575.6,456.4 L576.3,454.9 L576.9,453.4 L577.6,452.0 L578.2,450.7 L578.9,449.3 L579.5,448.0 L580.1,446.8 L581.1,444.9 L582.1,443.1 L583.1,441.3 L584.0,439.7 L585.0,438.0 L586.0,436.4 L586.9,434.9 L587.9,433.4 L588.9,431.9 L589.8,430.5 L590.8,429.1 L591.8,427.7 L592.7,426.4 L593.7,425.1 L594.7,423.8 L595.6,422.5 L596.6,421.3 L597.6,420.1 L598.5,419.0 L599.5,417.8 L600.5,416.7 L601.4,415.6 L602.4,414.6 L603.4,413.5 L604.4,412.5 L605.6,411.1 L606.9,409.8 L608.2,408.5 L609.5,407.2 L610.8,406.0 L612.1,404.8 L613.4,403.6 L614.7,402.5 L616.0,401.3 L617.3,400.2 L618.6,399.1 L619.8,398.1 L621.1,397.0 L622.4,396.0 L623.7,395.0 L625.0,394.0 L626.3,393.0 L627.6,392.1 L628.9,391.1 L630.2,390.2 L631.5,389.3 L632.8,388.4 L634.0,387.5 L635.3,386.6 L636.6,385.8 L637.9,384.9 L639.2,384.1 L640.5,383.3 L641.8,382.5 L643.1,381.7 L644.4,380.9 L645.7,380.1 L647.0,379.4 L648.2,378.6 L649.5,377.9 L650.8,377.1 L652.1,376.4 L653.4,375.7 L654.7,375.0 L656.0,374.3 L657.3,373.6 L658.6,372.6 L659.2,369.4 L659.5,366.8 L659.9,364.1 L660.2,361.3 L660.5,358.6 L660.8,356.0 L661.2,353.4 L661.5,351.0 L661.8,348.6 L662.1,346.3 L662.4,344.1 L662.8,342.0 L663.1,339.9 L663.4,337.9 L663.7,336.0 L664.1,334.2 L664.4,332.4 L664.7,330.6 L665.0,328.9 L665.3,327.3 L665.7,325.7 L666.0,324.2 L666.3,322.6 L666.6,321.2 L667.0,319.8 L667.3,318.4 L667.9,315.7 L668.6,313.1 L669.2,310.7 L669.9,308.3 L670.5,306.1 L671.2,303.9 L671.8,301.9 L672.4,299.9 L673.1,298.0 L673.7,296.1 L674.4,294.3 L675.0,292.6 L675.7,290.9 L676.3,289.2 L677.0,287.7 L677.6,286.1 L678.3,284.6 L678.9,283.2 L679.5,281.8 L680.2,280.4 L680.8,279.0 L681.5,277.7 L682.1,276.4 L683.1,274.6 L684.1,272.7 L685.0,271.0 L686.0,269.3 L687.0,267.7 L687.9,266.1 L688.9,264.5 L689.9,263.0 L690.8,261.6 L691.8,260.1 L692.8,258.8 L693.7,257.4 L694.7,256.1 L695.7,254.8 L696.7,253.5 L697.6,252.3 L698.6,251.1 L699.6,249.9 L700.5,248.8 L701.5,247.7 L702.5,246.6 L703.4,245.5 L704.4,244.4 L705.4,243.4 L706.7,242.0 L707.9,240.7 L709.2,239.4 L710.5,238.2 L711.8,236.9 L713.1,235.7 L714.4,234.6 L715.5,233.6 L716.6,232.6 L717.7,231.7 L718.8,230.7 L719.9,229.8 L721.0,228.9 L722.1,228.0 L723.2,227.1 L724.4,226.2 L725.6,225.3 L726.8,224.4 L727.9,223.5 L729.1,222.6 L730.2,221.6 L731.2,220.6 L732.0,219.5 L732.8,218.2 L733.4,217.0 L733.9,215.6 L734.4,214.1 L734.9,212.7 L735.3,211.1 L735.7,209.6 L736.0,208.0 L736.3,206.5 L736.7,205.0 L737.0,203.5 L737.3,201.8 L737.6,200.2 L737.9,198.5 L738.1,197.0 L738.4,195.6 L738.6,194.2 L738.9,192.7 L739.1,191.3 L739.4,189.8 L739.6,188.4 L739.9,186.9 L740.1,185.4 L740.4,184.0 L740.6,182.5 L740.9,181.1 L741.1,179.6 L741.3,178.2 L741.6,176.8 L741.8,175.4 L742.2,173.7 L742.5,172.0 L742.8,170.3 L743.1,168.6 L743.4,167.0 L743.7,165.4 L744.0,163.8 L744.3,162.2 L744.6,160.7 L744.9,159.2 L745.2,157.7 L745.5,156.2 L745.9,154.8 L746.2,153.4 L746.5,152.0 L746.8,150.4 L747.2,148.8 L747.6,147.2 L748.0,145.7 L748.3,144.2 L748.7,142.7 L749.1,141.3 L749.4,139.9 L749.8,138.5 L750.2,136.9 L750.7,135.4 L751.1,133.9 L751.5,132.4 L752.0,130.9 L752.4,129.5 L752.8,128.1 L753.3,126.8 L753.8,125.3 L754.3,123.8 L754.8,122.3 L755.2,120.9 L755.7,119.5 L756.2,118.2 L756.7,116.8 L757.3,115.4 L757.8,114.0 L758.4,112.6 L759.0,111.2 L759.5,109.9 L760.1,108.6 L760.7,107.2 L761.3,105.8 L761.9,104.4 L762.5,103.1 L763.2,101.8 L763.8,100.4 L764.5,99.0 L765.2,97.7 L765.9,96.4 L766.6,95.1 L767.2,93.9 L768.0,92.6 L768.7,91.3 L769.5,90.0 L770.2,88.7 L770.9,87.5 L771.7,86.2 L772.5,85.0 L773.3,83.7 L774.2,82.5 L775.0,81.3 L775.8,80.1 L776.7,78.9 L777.5,77.7 L778.4,76.5 L779.3,75.3 L780.1,74.2 L781.1,73.0 L782.0,71.9 L782.9,70.7 L783.8,69.6 L784.8,68.5 L785.7,67.4 L786.7,66.3 L787.7,65.2 L788.7,64.1 L789.7,63.1 L790.6,62.1 L791.6,61.0 L792.7,60.0 M553.5,700.0 L554.3,577.8 L554.7,571.8 L555.0,566.4 L555.3,561.4 L555.6,556.9 L555.9,552.7 L556.3,548.8 L556.6,545.1 L556.9,541.7 L557.2,538.5 L557.6,535.4 L557.9,532.5 L558.2,529.8 L558.5,527.2 L558.8,524.7 L559.2,522.3 L559.5,520.0 L559.8,517.7 L560.1,515.6 L560.5,513.6 L560.8,511.6 L561.1,509.7 L561.4,507.8 L561.8,506.0 L562.1,504.3 L562.4,502.6 L562.7,501.0 L563.0,499.4 L563.4,497.9 L563.7,496.4 L564.0,494.9 L564.3,493.5 L564.7,492.1 L565.3,489.4 L565.9,486.9 L566.6,484.4 L567.2,482.1 L567.9,479.8 L568.5,477.6 L569.2,475.6 L569.8,473.5 L570.5,471.6 L571.1,469.7 L571.8,467.9 L572.4,466.1 L573.0,464.4 L573.7,462.8 L574.3,461.2 L575.0,459.6 L575.6,458.1 L576.3,456.6 L576.9,455.1 L577.6,453.7 L578.2,452.4 L578.9,451.0 L579.5,449.7 L580.1,448.4 L580.8,447.1 L581.8,445.3 L582.7,443.5 L583.7,441.8 L584.7,440.1 L585.6,438.5 L586.6,436.9 L587.6,435.3 L588.5,433.8 L589.5,432.3 L590.5,430.9 L591.4,429.5 L592.4,428.1 L593.4,426.7 L594.3,425.4 L595.3,424.1 L596.3,422.8 L597.3,421.5 L598.2,420.3 L599.2,419.1 L600.2,417.9 L601.1,416.7 L602.1,415.5 L603.1,414.3 L604.0,413.2 L605.0,412.0 L606.0,410.9 L606.9,409.8 L607.9,408.7 L608.9,407.5 L609.8,406.4 L610.8,405.3 L611.8,404.2 L612.7,403.1 L613.7,402.0 L614.7,400.9 L615.6,399.7 L616.6,398.6 L617.6,397.4 L618.6,396.3 L619.5,395.1 L620.5,393.9 L621.5,392.7 L622.4,391.5 L623.4,390.2 L624.4,389.0 L625.3,387.7 L626.3,386.3 L627.3,385.0 L628.2,383.6 L629.2,382.1 L630.2,380.7 L631.1,379.2 L632.1,377.6 L633.1,376.0 L634.0,374.4 L635.0,372.7 L636.0,371.0 L636.9,369.2 L637.9,367.4 L638.9,365.6 L639.5,364.3 L640.2,363.0 L640.8,361.7 L641.5,360.4 L642.1,359.0 L642.8,357.7 L643.4,356.3 L644.0,354.9 L644.7,353.4 L645.3,352.0 L646.0,350.5 L646.6,349.1 L647.3,347.6 L647.9,346.1 L648.6,344.6 L649.2,343.1 L649.9,341.5 L650.5,340.0 L651.1,338.4 L651.8,336.9 L652.4,335.3 L653.1,333.8 L653.7,332.2 L654.4,330.6 L655.0,329.0 L655.7,327.5 L656.3,325.9 L657.0,324.3 L657.6,322.8 L658.2,321.2 L658.9,319.6 L659.5,318.1 L660.2,316.5 L660.8,315.0 L661.5,313.4 L662.1,311.9 L662.8,310.4 L663.4,308.9 L664.1,307.4 L664.7,305.9 L665.3,304.4 L666.0,303.0 L666.6,301.5 L667.3,300.1 L667.9,298.7 L668.6,297.3 L669.2,295.9 L669.9,294.5 L670.5,293.1 L671.2,291.8 L671.8,290.4 L672.4,289.1 L673.1,287.8 L673.7,286.5 L674.4,285.2 L675.0,283.9 L676.0,282.1 L677.0,280.2 L677.9,278.4 L678.9,276.6 L679.9,274.9 L680.8,273.1 L681.8,271.5 L682.8,269.8 L683.7,268.2 L684.7,266.6 L685.7,265.0 L686.6,263.4 L687.6,261.9 L688.6,260.4 L689.6,259.0 L690.5,257.5 L691.5,256.1 L692.5,254.7 L693.4,253.4 L694.4,252.0 L695.4,250.7 L696.3,249.4 L697.3,248.1 L698.3,246.9 L699.2,245.7 L700.2,244.4 L701.2,243.2 L702.1,242.1 L703.1,240.9 L704.1,239.8 L705.0,238.7 L706.0,237.6 L707.0,236.5 L707.9,235.4 L708.9,234.3 L709.9,233.3 L711.2,232.0 L712.5,230.6 L713.8,229.3 L715.0,228.0 L716.1,227.0 L717.1,226.0 L718.2,225.0 L719.2,224.0 L720.3,223.1 L721.3,222.1 L722.4,221.1 L723.6,220.1 L724.7,219.2 L725.8,218.2 L726.9,217.3 L728.0,216.3 L729.1,215.3 L730.2,214.4 L731.2,213.3 L732.2,212.2 L733.1,211.1 L733.9,209.8 L734.6,208.5 L735.3,207.1 L735.9,205.7 L736.5,204.3 L737.0,202.9 L737.5,201.5 L738.0,200.0 L738.5,198.5 L738.9,197.1 L739.4,195.6 L739.8,194.2 L740.2,192.7 L740.7,191.2 L741.1,189.7 L741.5,188.2 L742.0,186.6 L742.4,185.1 L742.8,183.6 L743.3,182.0 L743.7,180.5 L744.1,179.0 L744.6,177.5 L745.0,176.0 L745.4,174.6 L745.9,173.1 L746.3,171.7 L746.7,170.2 L747.2,168.8 L747.6,167.4 L748.0,166.1 L748.5,164.7 L748.9,163.2 L749.4,161.7 L749.9,160.3 L750.4,158.8 L750.9,157.4 L751.4,156.0 L751.9,154.7 L752.4,153.3 L753.0,151.8 L753.5,150.4 L754.1,149.0 L754.6,147.6 L755.2,146.2 L755.7,144.9 L756.3,143.5 L756.9,142.1 L757.5,140.7 L758.2,139.3 L758.8,138.0 L759.4,136.7 L760.0,135.4 L760.7,134.0 L761.4,132.6 L762.0,131.3 L762.7,130.0 L763.4,128.7 L764.1,127.5 L764.8,126.1 L765.6,124.8 L766.3,123.5 L767.0,122.3 L767.8,121.1 L768.5,119.9 L769.3,118.6 L770.1,117.3 L770.9,116.1 L771.7,114.9 L772.5,113.7 L773.4,112.5 L774.3,111.3 L775.1,110.1 L776.0,108.9 L776.9,107.8 L777.7,106.6 L778.7,105.4 L779.6,104.3 L780.5,103.2 L781.4,102.0 L782.4,101.0 L783.3,99.9 L784.3,98.8 L785.3,97.7 L786.3,96.6 L787.2,95.5 L788.2,94.5 L789.2,93.5 L790.3,92.4 L791.3,91.4 L792.4,90.3 L793.4,89.3 L794.5,88.3 L795.5,87.4 L796.6,86.4 L797.7,85.4 L798.8,84.4 L799.9,83.5 L801.0,82.5 L802.1,81.6 L803.2,80.7 L804.4,79.8 L805.5,78.9 L806.6,78.0 L807.8,77.1 M553.5,700.0 L554.3,573.7 L554.7,567.7 L555.0,562.3 L555.3,557.4 L555.6,552.9 L555.9,548.7 L556.3,544.8 L556.6,541.2 L556.9,537.8 L557.2,534.5 L557.6,531.5 L557.9,528.6 L558.2,525.8 L558.5,523.2 L558.8,520.7 L559.2,518.3 L559.5,516.0 L559.8,513.8 L560.1,511.7 L560.5,509.6 L560.8,507.7 L561.1,505.8 L561.4,503.9 L561.8,502.1 L562.1,500.4 L562.4,498.7 L562.7,497.1 L563.0,495.5 L563.4,494.0 L563.7,492.5 L564.0,491.0 L564.3,489.6 L564.7,488.2 L565.3,485.5 L565.9,482.9 L566.6,480.5 L567.2,478.2 L567.9,475.9 L568.5,473.7 L569.2,471.7 L569.8,469.6 L570.5,467.7 L571.1,465.8 L571.8,464.0 L572.4,462.2 L573.0,460.5 L573.7,458.9 L574.3,457.3 L575.0,455.7 L575.6,454.2 L576.3,452.7 L576.9,451.2 L577.6,449.8 L578.2,448.4 L578.9,447.1 L579.5,445.8 L580.1,444.5 L580.8,443.2 L581.8,441.4 L582.7,439.6 L583.7,437.9 L584.7,436.2 L585.6,434.6 L586.6,433.0 L587.6,431.4 L588.5,429.9 L589.5,428.4 L590.5,427.0 L591.4,425.6 L592.4,424.2 L593.4,422.8 L594.3,421.5 L595.3,420.2 L596.3,419.0 L597.3,417.7 L598.2,416.5 L599.2,415.3 L600.2,414.1 L601.1,412.9 L602.1,411.7 L603.1,410.6 L604.0,409.5 L605.0,408.4 L606.0,407.3 L606.9,406.2 L607.9,405.1 L608.9,404.0 L609.8,403.0 L610.8,401.9 L611.8,400.9 L612.7,399.8 L613.7,398.8 L614.7,397.8 L615.6,396.7 L616.6,395.7 L617.6,394.7 L618.6,393.6 L619.5,392.6 L620.5,391.6 L621.5,390.5 L622.4,389.5 L623.4,388.4 L624.4,387.3 L625.3,386.3 L626.3,385.2 L627.3,384.1 L628.2,383.0 L629.2,381.8 L630.2,380.7 L631.1,379.5 L632.1,378.3 L633.1,377.1 L634.0,375.9 L635.0,374.7 L636.0,373.4 L636.9,372.1 L637.9,370.7 L638.9,369.4 L639.9,368.0 L640.8,366.5 L641.8,365.1 L642.8,363.6 L643.7,362.1 L644.7,360.5 L645.7,358.9 L646.6,357.2 L647.6,355.6 L648.6,353.8 L649.5,352.1 L650.5,350.3 L651.5,348.4 L652.4,346.5 L653.1,345.3 L653.7,344.0 L654.4,342.7 L655.0,341.4 L655.7,340.0 L656.3,338.7 L657.0,337.3 L657.6,335.9 L658.2,334.5 L658.9,333.1 L659.5,331.7 L660.2,330.3 L660.8,328.8 L661.5,327.4 L662.1,325.9 L662.8,324.5 L663.4,323.0 L664.1,321.5 L664.7,320.0 L665.3,318.5 L666.0,317.0 L666.6,315.5 L667.3,314.0 L667.9,312.5 L668.6,311.0 L669.2,309.4 L669.9,307.9 L670.5,306.4 L671.2,304.9 L671.8,303.4 L672.4,301.9 L673.1,300.4 L673.7,298.9 L674.4,297.4 L675.0,295.9 L675.7,294.4 L676.3,292.9 L677.0,291.4 L677.6,289.9 L678.3,288.5 L678.9,287.0 L679.5,285.6 L680.2,284.1 L680.8,282.7 L681.5,281.3 L682.1,279.9 L682.8,278.5 L683.4,277.1 L684.1,275.7 L684.7,274.4 L685.4,273.0 L686.0,271.7 L686.6,270.4 L687.3,269.0 L687.9,267.7 L688.6,266.5 L689.2,265.2 L689.9,263.9 L690.8,262.0 L691.8,260.2 L692.8,258.4 L693.7,256.6 L694.7,254.8 L695.7,253.1 L696.7,251.4 L697.6,249.7 L698.6,248.0 L699.6,246.4 L700.5,244.8 L701.5,243.2 L702.5,241.7 L703.4,240.1 L704.4,238.6 L705.4,237.2 L706.3,235.7 L707.3,234.3 L708.3,232.9 L709.2,231.5 L710.2,230.1 L711.2,228.8 L712.1,227.5 L713.1,226.2 L714.1,224.9 L715.0,223.6 L716.0,222.4 L716.9,221.3 L717.8,220.1 L718.7,219.0 L719.7,217.9 L720.6,216.8 L721.5,215.7 L722.4,214.6 L723.4,213.5 L724.4,212.4 L725.4,211.3 L726.4,210.2 L727.4,209.1 L728.4,208.1 L729.4,207.0 L730.4,205.9 L731.3,204.7 L732.1,203.6 L732.9,202.4 L733.7,201.1 L734.4,199.8 L735.0,198.4 L735.5,197.1 L736.0,195.7 L736.5,194.3 L737.0,192.8 L737.5,191.3 L737.9,189.8 L738.3,188.3 L738.7,186.9 L739.1,185.5 L739.4,184.0 L739.8,182.6 L740.2,181.1 L740.5,179.6 L740.9,178.1 L741.3,176.5 L741.7,175.0 L742.0,173.5 L742.4,171.9 L742.8,170.4 L743.1,168.9 L743.5,167.4 L743.9,165.9 L744.3,164.4 L744.6,163.0 L745.0,161.5 L745.4,160.1 L745.7,158.7 L746.1,157.3 L746.5,155.9 L746.9,154.3 L747.3,152.8 L747.8,151.2 L748.2,149.7 L748.6,148.2 L749.1,146.8 L749.5,145.3 L749.9,143.9 L750.4,142.6 L750.8,141.2 L751.3,139.7 L751.8,138.2 L752.3,136.7 L752.8,135.3 L753.3,133.9 L753.8,132.5 L754.3,131.2 L754.8,129.7 L755.4,128.2 L755.9,126.8 L756.5,125.4 L757.0,124.1 L757.6,122.7 L758.2,121.4 L758.8,120.0 L759.4,118.6 L760.0,117.2 L760.6,115.9 L761.2,114.6 L761.9,113.3 L762.5,111.9 L763.2,110.6 L763.9,109.3 L764.6,108.0 L765.3,106.7 L766.0,105.4 L766.7,104.0 L767.5,102.7 L768.2,101.5 L769.0,100.2 L769.7,99.0 L770.5,97.7 L771.3,96.5 L772.1,95.3 L772.9,94.0 L773.7,92.9 L774.6,91.6 L775.4,90.4 L776.3,89.2 L777.2,88.0 L778.0,86.9 L778.9,85.8 L779.8,84.6 L780.8,83.4 L781.7,82.3 L782.6,81.2 L783.5,80.1 L784.5,79.0 L785.5,77.9 L786.4,76.8 L787.4,75.7 L788.4,74.6 L789.4,73.6 L790.4,72.6 L791.4,71.5 L792.5,70.5 L793.5,69.4 L794.6,68.4 L795.6,67.4 L796.7,66.5 L797.7,65.5 L798.9,64.5 L800.0,63.5 L801.1,62.6 L802.2,61.6 L803.3,60.7 L804.2,60.0 M553.5,700.0 L554.3,580.5 L554.7,574.6 L555.0,569.2 L555.3,564.3 L555.6,559.7 L555.9,555.6 L556.3,551.7 L556.6,548.0 L556.9,544.6 L557.2,541.4 L557.6,538.3 L557.9,535.4 L558.2,532.7 L558.5,530.1 L558.8,527.6 L559.2,525.2 L559.5,522.9 L559.8,520.7 L560.1,518.5 L560.5,516.5 L560.8,514.5 L561.1,512.6 L561.4,510.8 L561.8,509.0 L562.1,507.3 L562.4,505.6 L562.7,503.9 L563.0,502.4 L563.4,500.8 L563.7,499.3 L564.0,497.9 L564.3,496.4 L564.7,495.0 L565.3,492.4 L565.9,489.8 L566.6,487.4 L567.2,485.0 L567.9,482.8 L568.5,480.6 L569.2,478.5 L569.8,476.5 L570.5,474.6 L571.1,472.7 L571.8,470.9 L572.4,469.1 L573.0,467.4 L573.7,465.7 L574.3,464.1 L575.0,462.6 L575.6,461.0 L576.3,459.6 L576.9,458.1 L577.6,456.7 L578.2,455.3 L578.9,454.0 L579.5,452.7 L580.1,451.4 L581.1,449.5 L582.1,447.7 L583.1,445.9 L584.0,444.2 L585.0,442.5 L586.0,440.9 L586.9,439.3 L587.9,437.8 L588.9,436.3 L589.8,434.8 L590.8,433.4 L591.8,432.0 L592.7,430.7 L593.7,429.3 L594.7,428.0 L595.6,426.7 L596.6,425.5 L597.6,424.2 L598.5,423.0 L599.5,421.8 L600.5,420.6 L601.4,419.5 L602.4,418.3 L603.4,417.2 L604.4,416.1 L605.3,415.0 L606.3,413.9 L607.3,412.8 L608.2,411.8 L609.2,410.7 L610.2,409.7 L611.1,408.6 L612.4,407.3 L613.7,405.9 L615.0,404.6 L616.3,403.2 L617.6,401.9 L618.9,400.6 L620.2,399.2 L621.5,397.9 L622.7,396.5 L624.0,395.2 L625.3,393.8 L626.3,392.7 L627.3,391.7 L628.2,390.6 L629.2,389.6 L630.2,388.5 L631.1,387.4 L632.1,386.3 L633.1,385.1 L634.0,384.0 L635.0,382.8 L636.0,381.6 L636.9,380.4 L637.9,379.1 L638.9,377.9 L639.9,376.6 L640.8,375.2 L641.8,373.9 L642.8,372.5 L643.7,371.0 L644.7,369.6 L645.7,368.1 L646.6,366.5 L647.6,364.9 L648.6,363.3 L649.5,361.7 L650.5,360.0 L651.5,358.2 L652.4,356.4 L653.4,354.6 L654.4,352.7 L655.0,351.4 L655.7,350.2 L656.3,348.8 L657.0,347.5 L657.6,346.2 L658.2,344.8 L658.9,343.4 L659.5,342.0 L660.2,340.6 L660.8,339.1 L661.5,337.7 L662.1,336.2 L662.8,334.7 L663.4,333.2 L664.1,331.7 L664.7,330.1 L665.3,328.6 L666.0,327.0 L666.6,325.4 L667.3,323.8 L667.9,322.2 L668.6,320.6 L669.2,319.0 L669.9,317.4 L670.5,315.7 L671.2,314.1 L671.8,312.4 L672.4,310.8 L673.1,309.1 L673.7,307.5 L674.4,305.8 L675.0,304.1 L675.7,302.4 L676.3,300.8 L677.0,299.1 L677.6,297.4 L678.3,295.7 L678.9,294.1 L679.5,292.4 L680.2,290.7 L680.8,289.1 L681.5,287.4 L682.1,285.7 L682.8,284.1 L683.4,282.5 L684.1,280.8 L684.7,279.2 L685.4,277.6 L686.0,276.0 L686.6,274.4 L687.3,272.8 L687.9,271.2 L688.6,269.7 L689.2,268.1 L689.9,266.6 L690.5,265.1 L691.2,263.5 L691.8,262.0 L692.5,260.6 L693.1,259.1 L693.7,257.6 L694.4,256.2 L695.0,254.7 L695.7,253.3 L696.3,251.9 L697.0,250.5 L697.6,249.1 L698.3,247.7 L698.9,246.4 L699.6,245.1 L700.2,243.7 L700.8,242.4 L701.5,241.1 L702.1,239.8 L702.8,238.6 L703.8,236.7 L704.7,234.8 L705.7,233.0 L706.7,231.2 L707.6,229.5 L708.6,227.7 L709.6,226.0 L710.5,224.4 L711.5,222.7 L712.5,221.1 L713.4,219.5 L714.4,218.0 L715.4,216.4 L716.1,215.2 L716.9,214.0 L717.8,212.8 L718.6,211.6 L719.4,210.4 L720.2,209.2 L721.0,208.0 L721.9,206.7 L722.8,205.5 L723.6,204.3 L724.5,203.2 L725.3,202.0 L726.2,200.9 L727.1,199.7 L727.9,198.6 L728.9,197.4 L729.7,196.3 L730.6,195.1 L731.5,193.9 L732.3,192.7 L733.0,191.5 L733.7,190.2 L734.3,188.8 L734.9,187.4 L735.4,186.0 L735.8,184.6 L736.2,183.1 L736.6,181.8 L737.0,180.3 L737.3,178.7 L737.7,177.1 L738.0,175.6 L738.3,174.1 L738.6,172.6 L738.9,171.1 L739.2,169.5 L739.6,167.8 L739.9,166.2 L740.2,164.5 L740.5,162.9 L740.8,161.2 L741.1,159.5 L741.4,157.8 L741.7,156.1 L742.0,154.5 L742.3,152.8 L742.6,151.2 L743.0,149.5 L743.3,147.9 L743.6,146.3 L743.9,144.7 L744.2,143.2 L744.5,141.6 L744.8,140.1 L745.1,138.6 L745.4,137.2 L745.7,135.7 L746.0,134.3 L746.4,132.9 L746.7,131.5 L747.0,129.8 L747.4,128.2 L747.8,126.7 L748.1,125.1 L748.5,123.6 L748.9,122.1 L749.3,120.7 L749.6,119.2 L750.0,117.8 L750.4,116.4 L750.8,114.9 L751.2,113.3 L751.7,111.8 L752.1,110.4 L752.5,108.9 L753.0,107.5 L753.4,106.1 L753.8,104.8 L754.3,103.2 L754.8,101.8 L755.3,100.3 L755.8,98.9 L756.3,97.5 L756.8,96.1 L757.3,94.8 L757.8,93.3 L758.4,91.9 L759.0,90.5 L759.5,89.1 L760.1,87.8 L760.6,86.5 L761.2,85.1 L761.9,83.7 L762.5,82.3 L763.1,81.0 L763.7,79.7 L764.3,78.4 L765.0,77.0 L765.7,75.7 L766.4,74.4 L767.0,73.1 L767.7,71.9 L768.5,70.5 L769.2,69.2 L769.9,67.9 L770.7,66.7 L771.4,65.4 L772.2,64.1 L773.0,62.9 L773.8,61.6 L774.6,60.4 L775.0,59.9 M553.5,700.0 L554.3,575.1 L554.7,569.1 L555.0,563.7 L555.3,558.7 L555.6,554.2 L555.9,550.0 L556.3,546.1 L556.6,542.4 L556.9,539.0 L557.2,535.7 L557.6,532.7 L557.9,529.8 L558.2,527.0 L558.5,524.4 L558.8,521.9 L559.2,519.5 L559.5,517.2 L559.8,515.0 L560.1,512.9 L560.5,510.8 L560.8,508.8 L561.1,506.9 L561.4,505.1 L561.8,503.3 L562.1,501.5 L562.4,499.9 L562.7,498.2 L563.0,496.6 L563.4,495.1 L563.7,493.6 L564.0,492.1 L564.3,490.7 L564.7,489.3 L565.3,486.6 L565.9,484.1 L566.6,481.6 L567.2,479.3 L567.9,477.0 L568.5,474.9 L569.2,472.8 L569.8,470.8 L570.5,468.9 L571.1,467.0 L571.8,465.2 L572.4,463.4 L573.0,461.7 L573.7,460.1 L574.3,458.4 L575.0,456.9 L575.6,455.4 L576.3,453.9 L576.9,452.4 L577.6,451.0 L578.2,449.7 L578.9,448.3 L579.5,447.0 L580.1,445.7 L581.1,443.9 L582.1,442.1 L583.1,440.3 L584.0,438.6 L585.0,437.0 L586.0,435.4 L586.9,433.8 L587.9,432.3 L588.9,430.8 L589.8,429.4 L590.8,428.0 L591.8,426.6 L592.7,425.2 L593.7,423.9 L594.7,422.6 L595.6,421.4 L596.6,420.1 L597.6,418.9 L598.5,417.7 L599.5,416.6 L600.5,415.4 L601.4,414.3 L602.4,413.2 L603.4,412.1 L604.4,411.0 L605.3,410.0 L606.3,408.9 L607.6,407.6 L608.9,406.2 L610.2,404.9 L611.5,403.6 L612.7,402.3 L614.0,401.0 L615.3,399.7 L616.6,398.4 L617.9,397.2 L619.2,395.9 L620.5,394.6 L621.8,393.3 L623.1,392.1 L624.4,390.7 L625.7,389.4 L626.9,388.1 L628.2,386.7 L629.2,385.6 L630.2,384.6 L631.1,383.5 L632.1,382.3 L633.1,381.2 L634.0,380.0 L635.0,378.8 L636.0,377.5 L636.9,376.2 L637.9,374.8 L638.9,373.4 L639.9,372.0 L640.8,370.5 L641.8,368.9 L642.8,367.3 L643.7,365.6 L644.7,363.9 L645.7,362.1 L646.6,360.2 L647.3,358.9 L647.9,357.5 L648.6,356.2 L649.2,354.8 L649.9,353.4 L650.5,351.9 L651.1,350.5 L651.8,348.9 L652.4,347.4 L653.1,345.8 L653.7,344.2 L654.4,342.6 L655.0,340.9 L655.7,339.3 L656.3,337.6 L657.0,335.8 L657.6,334.1 L658.2,332.3 L658.9,330.5 L659.5,328.7 L660.2,326.9 L660.8,325.1 L661.5,323.2 L662.1,321.3 L662.8,319.5 L663.4,317.6 L664.1,315.7 L664.7,313.8 L665.3,312.0 L666.0,310.1 L666.6,308.2 L667.3,306.3 L667.9,304.4 L668.6,302.5 L669.2,300.7 L669.9,298.8 L670.5,297.0 L671.2,295.1 L671.8,293.3 L672.4,291.5 L673.1,289.7 L673.7,287.9 L674.4,286.2 L675.0,284.4 L675.7,282.7 L676.3,281.0 L677.0,279.3 L677.6,277.6 L678.3,275.9 L678.9,274.3 L679.5,272.7 L680.2,271.1 L680.8,269.5 L681.5,267.9 L682.1,266.4 L682.8,264.9 L683.4,263.4 L684.1,261.9 L684.7,260.4 L685.4,259.0 L686.0,257.5 L686.6,256.1 L687.3,254.7 L687.9,253.4 L688.6,252.0 L689.2,250.7 L689.9,249.4 L690.5,248.1 L691.2,246.8 L691.8,245.5 L692.8,243.7 L693.7,241.9 L694.7,240.1 L695.7,238.3 L696.7,236.6 L697.6,234.9 L698.6,233.3 L699.6,231.7 L700.5,230.1 L701.5,228.6 L702.5,227.0 L703.4,225.6 L704.4,224.1 L705.4,222.7 L706.3,221.3 L707.3,219.9 L708.3,218.5 L709.2,217.2 L710.2,215.9 L711.2,214.6 L712.1,213.3 L713.1,212.1 L714.1,210.9 L715.0,209.7 L716.0,208.6 L716.9,207.5 L717.8,206.4 L718.7,205.3 L719.7,204.2 L720.7,203.1 L721.7,202.0 L722.7,200.9 L723.7,199.9 L724.7,198.8 L725.7,197.8 L726.6,196.8 L727.7,195.7 L728.7,194.7 L729.8,193.6 L730.8,192.6 L731.8,191.5 L732.7,190.4 L733.6,189.2 L734.4,188.0 L735.1,186.7 L735.8,185.4 L736.4,184.1 L737.0,182.7 L737.6,181.3 L738.1,179.8 L738.6,178.4 L739.1,177.0 L739.6,175.5 L740.1,174.1 L740.5,172.8 L740.9,171.4 L741.3,169.9 L741.8,168.5 L742.2,167.0 L742.6,165.6 L743.1,164.1 L743.5,162.6 L743.9,161.1 L744.4,159.7 L744.8,158.2 L745.2,156.8 L745.7,155.3 L746.1,153.9 L746.5,152.5 L747.0,151.1 L747.4,149.7 L747.8,148.3 L748.3,147.0 L748.8,145.4 L749.3,143.9 L749.8,142.5 L750.2,141.0 L750.7,139.6 L751.2,138.2 L751.7,136.8 L752.2,135.4 L752.7,134.1 L753.3,132.6 L753.8,131.2 L754.4,129.7 L754.9,128.3 L755.5,127.0 L756.1,125.6 L756.6,124.3 L757.2,122.9 L757.8,121.5 L758.5,120.1 L759.1,118.7 L759.7,117.4 L760.3,116.1 L761.0,114.7 L761.7,113.4 L762.4,112.0 L763.0,110.7 L763.7,109.4 L764.4,108.2 L765.1,106.8 L765.9,105.5 L766.6,104.2 L767.4,103.0 L768.1,101.7 L768.8,100.5 L769.6,99.2 L770.4,98.0 L771.2,96.7 L772.0,95.5 L772.9,94.3 L773.7,93.1 L774.6,91.9 L775.4,90.7 L776.3,89.5 L777.2,88.3 L778.0,87.2 L779.0,86.0 L779.9,84.9 L780.8,83.7 L781.7,82.6 L782.7,81.5 L783.6,80.4 L784.6,79.3 L785.6,78.2 L786.6,77.1 L787.6,76.0 L788.5,75.0 L789.5,74.0 L790.6,72.9 L791.6,71.9 L792.7,70.8 L793.7,69.8 L794.8,68.8 L795.8,67.8 L796.9,66.9 L798.0,65.9 L799.1,64.9 L800.2,63.9 L801.3,63.0 L802.4,62.1 L803.6,61.1 L804.7,60.2 L805.0,60.0 M553.5,700.0 L554.3,580.0 L554.7,574.0 L555.0,568.6 L555.3,563.6 L555.6,559.1 L555.9,554.9 L556.3,551.0 L556.6,547.3 L556.9,543.9 L557.2,540.7 L557.6,537.6 L557.9,534.7 L558.2,532.0 L558.5,529.3 L558.8,526.8 L559.2,524.4 L559.5,522.1 L559.8,519.9 L560.1,517.8 L560.5,515.7 L560.8,513.7 L561.1,511.8 L561.4,510.0 L561.8,508.2 L562.1,506.5 L562.4,504.8 L562.7,503.2 L563.0,501.6 L563.4,500.0 L563.7,498.5 L564.0,497.1 L564.3,495.6 L564.7,494.2 L565.3,491.6 L565.9,489.0 L566.6,486.6 L567.2,484.2 L567.9,482.0 L568.5,479.8 L569.2,477.7 L569.8,475.7 L570.5,473.8 L571.1,471.9 L571.8,470.1 L572.4,468.3 L573.0,466.6 L573.7,465.0 L574.3,463.4 L575.0,461.8 L575.6,460.3 L576.3,458.8 L576.9,457.4 L577.6,456.0 L578.2,454.6 L578.9,453.3 L579.5,452.0 L580.1,450.7 L581.1,448.8 L582.1,447.0 L583.1,445.3 L584.0,443.6 L585.0,441.9 L586.0,440.3 L586.9,438.8 L587.9,437.3 L588.9,435.8 L589.8,434.4 L590.8,433.0 L591.8,431.6 L592.7,430.3 L593.7,429.0 L594.7,427.7 L595.6,426.4 L596.6,425.2 L597.6,424.0 L598.5,422.8 L599.5,421.7 L600.5,420.6 L601.4,419.5 L602.4,418.4 L603.4,417.3 L604.4,416.2 L605.3,415.2 L606.6,413.9 L607.9,412.5 L609.2,411.2 L610.5,410.0 L611.8,408.7 L613.1,407.5 L614.4,406.2 L615.6,405.0 L616.9,403.8 L618.2,402.7 L619.5,401.5 L620.8,400.3 L622.1,399.2 L623.4,398.0 L624.7,396.8 L626.0,395.7 L627.3,394.5 L628.6,393.3 L629.8,392.1 L631.1,390.8 L632.4,389.6 L633.7,388.3 L635.0,386.9 L636.0,385.9 L636.9,384.8 L637.9,383.7 L638.9,382.5 L639.9,381.3 L640.8,380.1 L641.8,378.8 L642.8,377.4 L643.7,376.0 L644.7,374.5 L645.7,372.9 L646.6,371.3 L647.6,369.6 L648.6,367.8 L649.5,365.9 L650.2,364.6 L650.8,363.3 L651.5,361.9 L652.1,360.5 L652.8,359.0 L653.4,357.5 L654.1,355.9 L654.7,354.3 L655.3,352.7 L656.0,351.0 L656.6,349.3 L657.3,347.5 L657.9,345.7 L658.6,343.9 L659.2,342.0 L659.9,340.1 L660.5,338.2 L661.2,336.2 L661.8,334.2 L662.4,332.2 L663.1,330.1 L663.7,328.1 L664.4,326.0 L665.0,323.8 L665.7,321.7 L666.3,319.6 L667.0,317.4 L667.6,315.3 L668.3,313.1 L668.9,311.0 L669.5,308.8 L670.2,306.7 L670.8,304.5 L671.5,302.4 L672.1,300.2 L672.8,298.1 L673.4,296.0 L674.1,293.9 L674.7,291.8 L675.4,289.8 L676.0,287.7 L676.6,285.7 L677.3,283.7 L677.9,281.8 L678.6,279.8 L679.2,277.9 L679.9,276.0 L680.5,274.1 L681.2,272.2 L681.8,270.4 L682.5,268.6 L683.1,266.8 L683.7,265.1 L684.4,263.3 L685.0,261.6 L685.7,259.9 L686.3,258.3 L687.0,256.7 L687.6,255.1 L688.3,253.5 L688.9,251.9 L689.6,250.4 L690.2,248.9 L690.8,247.4 L691.5,245.9 L692.1,244.5 L692.8,243.1 L693.4,241.7 L694.1,240.3 L694.7,239.0 L695.4,237.6 L696.0,236.3 L696.7,235.0 L697.3,233.8 L698.3,231.9 L699.2,230.1 L700.2,228.3 L701.2,226.5 L702.1,224.8 L703.1,223.2 L704.1,221.5 L705.0,219.9 L706.0,218.4 L707.0,216.8 L707.9,215.3 L708.9,213.8 L709.9,212.4 L710.9,211.0 L711.8,209.6 L712.8,208.2 L713.8,206.9 L714.7,205.6 L715.6,204.4 L716.5,203.3 L717.4,202.1 L718.3,201.0 L719.2,199.8 L720.2,198.7 L721.1,197.6 L722.0,196.5 L722.9,195.4 L723.9,194.3 L724.9,193.1 L725.9,192.1 L726.9,191.0 L727.9,189.9 L728.9,188.9 L729.9,187.8 L730.8,186.7 L731.8,185.6 L732.8,184.4 L733.6,183.3 L734.4,182.1 L735.2,180.8 L735.9,179.5 L736.5,178.2 L737.1,176.8 L737.6,175.5 L738.2,174.0 L738.7,172.6 L739.2,171.2 L739.7,169.7 L740.2,168.2 L740.6,166.8 L741.0,165.4 L741.5,164.0 L741.9,162.6 L742.3,161.1 L742.8,159.7 L743.2,158.2 L743.6,156.7 L744.1,155.3 L744.5,153.8 L744.9,152.4 L745.4,150.9 L745.8,149.5 L746.2,148.0 L746.7,146.6 L747.1,145.2 L747.5,143.8 L748.0,142.5 L748.4,141.1 L748.9,139.6 L749.4,138.1 L749.9,136.6 L750.4,135.1 L750.9,133.7 L751.4,132.3 L751.9,130.9 L752.3,129.6 L752.8,128.2 L753.4,126.7 L754.0,125.3 L754.5,123.9 L755.1,122.5 L755.6,121.1 L756.2,119.7 L756.7,118.4 L757.3,117.0 L758.0,115.6 L758.6,114.2 L759.2,112.8 L759.8,111.5 L760.4,110.2 L761.1,108.9 L761.7,107.6 L762.4,106.2 L763.1,104.9 L763.8,103.6 L764.5,102.4 L765.2,101.0 L765.9,99.7 L766.7,98.4 L767.4,97.1 L768.2,95.9 L768.9,94.7 L769.7,93.4 L770.5,92.1 L771.3,90.9 L772.1,89.7 L772.9,88.5 L773.7,87.3 L774.6,86.1 L775.4,84.9 L776.3,83.7 L777.2,82.5 L778.0,81.4 L779.0,80.2 L779.9,79.0 L780.8,77.9 L781.7,76.8 L782.7,75.7 L783.6,74.6 L784.6,73.5 L785.6,72.3 L786.6,71.3 L787.6,70.2 L788.5,69.1 L789.5,68.1 L790.6,67.0 L791.6,66.0 L792.7,64.9 L793.7,63.9 L794.8,62.9 L795.8,62.0 L796.9,61.0 L797.9,60.0 L798.0,60.0 M553.5,700.0 L554.3,577.0 L554.7,571.0 L555.0,565.6 L555.3,560.7 L555.6,556.1 L555.9,551.9 L556.3,548.0 L556.6,544.3 L556.9,540.9 L557.2,537.7 L557.6,534.6 L557.9,531.7 L558.2,529.0 L558.5,526.3 L558.8,523.8 L559.2,521.4 L559.5,519.1 L559.8,516.9 L560.1,514.8 L560.5,512.7 L560.8,510.8 L561.1,508.8 L561.4,507.0 L561.8,505.2 L562.1,503.5 L562.4,501.8 L562.7,500.2 L563.0,498.6 L563.4,497.0 L563.7,495.5 L564.0,494.1 L564.3,492.7 L564.7,491.3 L565.3,488.6 L565.9,486.0 L566.6,483.6 L567.2,481.2 L567.9,479.0 L568.5,476.8 L569.2,474.7 L569.8,472.7 L570.5,470.8 L571.1,468.9 L571.8,467.1 L572.4,465.4 L573.0,463.7 L573.7,462.0 L574.3,460.4 L575.0,458.8 L575.6,457.3 L576.3,455.8 L576.9,454.4 L577.6,453.0 L578.2,451.6 L578.9,450.3 L579.5,449.0 L580.1,447.7 L581.1,445.9 L582.1,444.1 L583.1,442.3 L584.0,440.6 L585.0,439.0 L586.0,437.4 L586.9,435.8 L587.9,434.3 L588.9,432.8 L589.8,431.4 L590.8,430.0 L591.8,428.7 L592.7,427.3 L593.7,426.0 L594.7,424.8 L595.6,423.5 L596.6,422.3 L597.6,421.1 L598.5,419.9 L599.5,418.8 L600.5,417.7 L601.4,416.6 L602.4,415.5 L603.4,414.4 L604.4,413.4 L605.6,412.1 L606.9,410.7 L608.2,409.4 L609.5,408.2 L610.8,406.9 L612.1,405.7 L613.4,404.5 L614.7,403.4 L616.0,402.2 L617.3,401.1 L618.6,400.0 L619.8,398.9 L621.1,397.8 L622.4,396.7 L623.7,395.7 L625.0,394.6 L626.3,393.6 L627.6,392.5 L628.9,391.5 L630.2,390.4 L631.5,389.3 L632.8,388.2 L634.0,387.0 L635.3,385.8 L636.6,384.6 L637.9,383.2 L638.9,382.2 L639.9,381.0 L640.8,379.8 L641.8,378.5 L642.8,377.1 L643.7,375.6 L644.7,374.0 L645.7,372.2 L646.3,371.0 L647.0,369.6 L647.6,368.2 L648.2,366.7 L648.9,365.2 L649.5,363.5 L650.2,361.8 L650.8,359.9 L651.5,358.0 L652.1,356.0 L652.8,353.9 L653.4,351.8 L654.1,349.5 L654.7,347.2 L655.3,344.8 L656.0,342.3 L656.6,339.8 L657.3,337.2 L657.9,334.5 L658.6,331.9 L659.2,329.1 L659.9,326.4 L660.5,323.7 L661.2,320.9 L661.5,319.5 L661.8,318.2 L662.4,315.4 L663.1,312.7 L663.7,309.9 L664.4,307.2 L665.0,304.6 L665.7,301.9 L666.3,299.3 L667.0,296.7 L667.6,294.2 L668.3,291.7 L668.9,289.3 L669.5,286.9 L670.2,284.5 L670.8,282.2 L671.5,279.9 L672.1,277.7 L672.8,275.5 L673.4,273.4 L674.1,271.3 L674.7,269.2 L675.4,267.2 L676.0,265.3 L676.6,263.3 L677.3,261.5 L677.9,259.6 L678.6,257.8 L679.2,256.1 L679.9,254.3 L680.5,252.7 L681.2,251.0 L681.8,249.4 L682.5,247.8 L683.1,246.2 L683.7,244.7 L684.4,243.2 L685.0,241.8 L685.7,240.3 L686.3,238.9 L687.0,237.5 L687.6,236.2 L688.3,234.9 L688.9,233.5 L689.6,232.3 L690.2,231.0 L691.2,229.2 L692.1,227.4 L693.1,225.6 L694.1,223.9 L695.0,222.2 L696.0,220.6 L697.0,219.0 L697.9,217.5 L698.9,216.0 L699.9,214.5 L700.8,213.0 L701.8,211.6 L702.8,210.3 L703.8,208.9 L704.7,207.6 L705.7,206.3 L706.7,205.0 L707.6,203.8 L708.6,202.5 L709.6,201.3 L710.5,200.2 L711.5,199.0 L712.5,197.9 L713.4,196.8 L714.4,195.7 L715.4,194.6 L716.3,193.6 L717.3,192.5 L718.3,191.5 L719.3,190.4 L720.3,189.4 L721.4,188.3 L722.4,187.3 L723.5,186.3 L724.5,185.3 L725.6,184.3 L726.6,183.3 L727.7,182.4 L728.8,181.4 L729.9,180.4 L730.9,179.5 L732.0,178.4 L732.9,177.4 L733.9,176.3 L734.7,175.1 L735.5,173.9 L736.2,172.6 L736.8,171.3 L737.4,169.9 L738.0,168.5 L738.4,167.2 L738.9,165.7 L739.4,164.3 L739.9,162.9 L740.3,161.5 L740.7,160.1 L741.2,158.6 L741.6,157.1 L742.0,155.6 L742.5,154.0 L742.9,152.5 L743.3,150.9 L743.8,149.3 L744.2,147.8 L744.6,146.2 L745.1,144.7 L745.5,143.1 L745.9,141.6 L746.4,140.1 L746.8,138.6 L747.2,137.1 L747.6,135.6 L748.1,134.2 L748.5,132.8 L748.9,131.3 L749.4,130.0 L749.8,128.6 L750.2,127.2 L750.7,125.7 L751.2,124.2 L751.7,122.8 L752.2,121.3 L752.7,119.9 L753.2,118.5 L753.7,117.2 L754.2,115.8 L754.8,114.3 L755.3,112.9 L755.9,111.5 L756.4,110.1 L757.0,108.7 L757.5,107.4 L758.1,106.1 L758.7,104.6 L759.3,103.2 L759.9,101.9 L760.6,100.5 L761.2,99.2 L761.8,97.9 L762.5,96.5 L763.2,95.2 L763.8,93.9 L764.5,92.6 L765.2,91.3 L765.9,90.0 L766.6,88.7 L767.4,87.4 L768.1,86.1 L768.8,84.9 L769.6,83.6 L770.4,82.3 L771.2,81.1 L772.0,79.8 L772.8,78.6 L773.6,77.4 L774.4,76.2 L775.3,75.0 L776.1,73.8 L777.0,72.6 L777.9,71.4 L778.7,70.3 L779.6,69.1 L780.6,67.9 L781.5,66.8 L782.4,65.6 L783.4,64.5 L784.3,63.5 L785.3,62.3 L786.3,61.2 L787.2,60.1 L787.4,60.0 M553.5,700.0 L554.3,587.5 L554.7,581.5 L555.0,576.1 L555.3,571.1 L555.6,566.6 L555.9,562.4 L556.3,558.5 L556.6,554.8 L556.9,551.4 L557.2,548.1 L557.6,545.1 L557.9,542.2 L558.2,539.4 L558.5,536.8 L558.8,534.3 L559.2,531.9 L559.5,529.6 L559.8,527.4 L560.1,525.3 L560.5,523.2 L560.8,521.2 L561.1,519.3 L561.4,517.5 L561.8,515.7 L562.1,513.9 L562.4,512.3 L562.7,510.6 L563.0,509.1 L563.4,507.5 L563.7,506.0 L564.0,504.5 L564.3,503.1 L564.7,501.7 L565.3,499.1 L565.9,496.5 L566.6,494.1 L567.2,491.7 L567.9,489.5 L568.5,487.3 L569.2,485.2 L569.8,483.2 L570.5,481.3 L571.1,479.4 L571.8,477.6 L572.4,475.8 L573.0,474.1 L573.7,472.5 L574.3,470.9 L575.0,469.3 L575.6,467.8 L576.3,466.3 L576.9,464.9 L577.6,463.5 L578.2,462.1 L578.9,460.8 L579.5,459.5 L580.1,458.2 L581.1,456.3 L582.1,454.5 L583.1,452.8 L584.0,451.1 L585.0,449.4 L586.0,447.8 L586.9,446.3 L587.9,444.8 L588.9,443.3 L589.8,441.9 L590.8,440.5 L591.8,439.1 L592.7,437.8 L593.7,436.5 L594.7,435.2 L595.6,434.0 L596.6,432.8 L597.6,431.6 L598.5,430.4 L599.5,429.3 L600.5,428.2 L601.4,427.1 L602.4,426.0 L603.4,424.9 L604.4,423.9 L605.6,422.5 L606.9,421.2 L608.2,419.9 L609.5,418.7 L610.8,417.4 L612.1,416.2 L613.4,415.1 L614.7,413.9 L616.0,412.8 L617.3,411.7 L618.6,410.6 L619.8,409.5 L621.1,408.4 L622.4,407.4 L623.7,406.4 L625.0,405.4 L626.3,404.4 L627.6,403.5 L628.9,402.5 L630.2,401.6 L631.5,400.7 L632.8,399.8 L634.0,398.9 L635.3,398.1 L636.6,397.2 L637.9,396.4 L639.2,395.5 L640.5,394.7 L641.8,393.9 L643.1,393.1 L644.4,392.3 L645.7,391.5 L647.0,390.8 L648.2,390.0 L649.5,389.3 L650.8,388.6 L652.1,387.8 L653.4,387.1 L654.7,386.4 L656.0,385.7 L657.3,385.0 L658.6,384.4 L659.9,383.7 L661.2,383.0 L662.4,382.4 L663.7,381.7 L665.0,381.1 L666.3,380.4 L667.6,379.8 L668.9,379.2 L670.2,378.6 L671.5,378.0 L672.8,377.4 L674.1,376.8 L675.4,376.2 L676.6,375.6 L678.3,374.9 L679.9,374.2 L681.5,373.5 L683.1,372.8 L684.7,372.1 L686.3,371.4 L687.9,370.8 L689.6,370.1 L691.2,369.5 L692.8,368.8 L694.4,368.2 L696.0,367.6 L697.6,366.9 L699.2,366.3 L700.8,365.7 L702.5,365.1 L704.1,364.5 L705.7,363.9 L707.3,363.3 L708.9,362.8 L710.5,362.2 L712.1,361.6 L713.8,361.1 L715.4,360.5 L716.8,360.0 L718.1,359.6 L719.5,359.1 L720.8,358.6 L722.2,358.2 L723.6,357.6 L724.8,356.8 L725.8,355.7 L726.5,354.4 L727.1,352.9 L727.5,351.3 L727.9,349.6 L728.2,348.0 L728.4,346.4 L728.7,344.6 L728.9,343.2 L729.1,341.6 L729.2,339.9 L729.4,338.1 L729.6,336.2 L729.8,334.2 L730.0,332.0 L730.1,330.6 L730.2,329.1 L730.4,327.5 L730.5,325.9 L730.6,324.3 L730.7,322.6 L730.8,320.9 L731.0,319.2 L731.1,317.5 L731.2,315.8 L731.3,314.0 L731.5,312.2 L731.6,310.4 L731.7,308.6 L731.8,306.8 L732.0,305.0 L732.1,303.1 L732.2,301.3 L732.3,299.5 L732.5,297.7 L732.6,295.8 L732.7,294.0 L732.8,292.2 L732.9,290.4 L733.1,288.6 L733.2,286.8 L733.3,285.1 L733.4,283.3 L733.6,281.6 L733.7,279.8 L733.8,278.1 L733.9,276.4 L734.1,274.7 L734.2,273.0 L734.3,271.4 L734.4,269.8 L734.6,268.1 L734.7,266.5 L734.8,264.9 L734.9,263.4 L735.0,261.8 L735.2,260.3 L735.3,258.7 L735.4,257.2 L735.5,255.8 L735.7,254.3 L735.8,252.8 L735.9,251.4 L736.0,250.0 L736.2,247.9 L736.4,245.8 L736.6,243.8 L736.8,241.8 L737.0,239.9 L737.1,238.0 L737.3,236.1 L737.5,234.3 L737.7,232.5 L737.9,230.7 L738.1,229.0 L738.3,227.3 L738.4,225.6 L738.6,224.0 L738.8,222.4 L739.0,220.8 L739.2,219.2 L739.4,217.7 L739.6,216.2 L739.7,214.8 L739.9,213.3 L740.1,211.9 L740.4,210.0 L740.6,208.2 L740.9,206.5 L741.1,204.7 L741.3,203.0 L741.6,201.4 L741.8,199.7 L742.1,198.2 L742.3,196.6 L742.6,195.1 L742.8,193.6 L743.1,192.1 L743.3,190.7 L743.6,189.3 L743.9,187.6 L744.2,185.9 L744.5,184.3 L744.8,182.7 L745.1,181.1 L745.4,179.6 L745.7,178.1 L746.0,176.6 L746.4,175.2 L746.7,173.8 L747.0,172.2 L747.4,170.6 L747.8,169.0 L748.1,167.5 L748.5,166.0 L748.9,164.5 L749.3,163.1 L749.6,161.7 L750.0,160.3 L750.4,158.8 L750.9,157.3 L751.3,155.8 L751.7,154.3 L752.2,152.9 L752.6,151.5 L753.0,150.2 L753.5,148.7 L754.0,147.2 L754.5,145.7 L755.0,144.3 L755.5,142.9 L756.0,141.6 L756.5,140.1 L757.1,138.7 L757.7,137.3 L758.2,135.9 L758.8,134.5 L759.3,133.2 L759.9,131.8 L760.6,130.4 L761.2,129.0 L761.8,127.7 L762.4,126.4 L763.0,125.1 L763.7,123.8 L764.4,122.4 L765.1,121.1 L765.7,119.7 L766.3,118.3 L766.8,116.8 L767.2,115.3 L767.6,114.0 L768.0,112.5 L768.3,111.0 L768.7,109.4 L769.1,107.8 L769.4,106.4 L769.7,105.0 L770.0,103.6 L770.3,102.2 L770.6,100.8 L770.9,99.3 L771.2,97.9 L771.6,96.6 L771.9,95.2 L772.2,93.5 L772.6,91.9 L773.0,90.3 L773.3,88.7 L773.7,87.2 L774.1,85.6 L774.5,84.1 L774.8,82.7 L775.2,81.2 L775.6,79.8 L775.9,78.4 L776.3,77.0 L776.7,75.5 L777.2,73.9 L777.6,72.5 L778.0,71.0 L778.5,69.6 L778.9,68.2 L779.3,66.8 L779.8,65.3 L780.3,63.8 L780.8,62.3 L781.3,60.9 L781.6,60.0 M553.5,700.0 L554.3,587.5 L555.8,564.8 L557.2,548.7 L558.6,536.2 L560.0,526.0 L561.5,517.3 L562.9,509.8 L564.3,503.2 L565.7,497.3 L567.2,492.0 L568.6,487.1 L570.0,482.6 L571.4,478.5 L572.9,474.6 L574.3,471.0 L575.8,467.5 L577.3,464.1 L578.7,461.0 L580.2,458.0 L581.7,455.2 L583.2,452.5 L584.7,449.9 L586.2,447.5 L587.7,445.1 L589.1,442.9 L590.6,440.7 L592.1,438.6 L593.6,436.6 L595.1,434.7 L596.6,432.8 L598.1,431.0 L599.6,429.2 L601.0,427.5 L602.5,425.9 L604.0,424.2 L605.5,422.7 L607.0,421.2 L608.5,419.7 L610.0,418.2 L611.5,416.8 L612.9,415.5 L614.4,414.1 L615.9,412.8 L617.4,411.5 L618.9,410.3 L620.4,409.1 L621.9,407.9 L623.3,406.7 L624.8,405.6 L626.3,404.4 L627.8,403.3 L629.3,402.2 L630.8,401.2 L632.3,400.1 L633.8,399.1 L635.2,398.1 L636.7,397.1 L638.2,396.2 L639.7,395.2 L641.2,394.3 L642.7,393.4 L644.2,392.4 L645.6,391.6 L647.1,390.7 L648.6,389.8 L650.1,389.0 L651.6,388.1 L653.1,387.3 L654.6,386.5 L656.1,385.7 L657.5,384.9 L659.0,384.1 L660.5,383.3 L662.0,382.6 L665.1,378.2 L668.2,373.8 L671.4,369.5 L674.6,365.2 L677.9,360.9 L681.2,356.7 L684.5,352.5 L687.9,348.3 L691.3,344.2 L694.8,340.1 L698.3,336.1 L701.9,332.0 L705.5,328.1 L709.1,324.1 L712.8,320.2 L716.5,316.4 L720.3,312.5 L724.1,308.8 L728.0,305.0 L728.3,298.7 L728.7,292.4 L729.1,286.2 L729.5,279.9 L729.8,273.6 L730.3,267.3 L730.7,261.0 L731.1,254.7 L731.6,248.5 L732.1,242.2 L732.6,235.9 L733.1,229.6 L733.7,223.3 L734.3,217.1 L735.0,210.8 L735.7,204.5 L736.5,198.2 L737.3,191.9 L738.2,185.6 L739.2,179.4 L740.3,173.1 L741.4,166.8 L742.7,160.5 L744.1,154.2 L745.6,147.9 L747.3,141.7 L749.2,135.4 L751.3,129.1 L753.6,122.8 L756.1,116.5 L759.0,110.3 L762.2,104.0 L765.7,97.7 L769.6,91.4 L774.0,85.1 L778.9,78.8 L784.4,72.6 L790.5,66.3 L797.4,60.0 M553.5,700.0 L554.3,589.2 L555.8,566.5 L557.2,550.4 L558.6,537.9 L560.0,527.6 L561.5,519.0 L562.9,511.5 L564.3,504.9 L565.7,499.0 L567.2,493.7 L568.6,488.8 L570.0,484.3 L571.4,480.2 L572.9,476.3 L574.3,472.7 L575.8,469.0 L577.4,465.5 L578.9,462.3 L580.5,459.2 L582.1,456.3 L583.6,453.5 L585.2,450.8 L586.7,448.3 L588.3,445.9 L589.8,443.6 L591.4,441.3 L592.9,439.2 L594.5,437.1 L596.0,435.1 L597.6,433.2 L599.2,431.4 L600.7,429.6 L602.3,427.8 L603.8,426.1 L605.4,424.5 L606.9,422.9 L608.5,421.4 L610.0,419.9 L611.6,418.4 L613.1,417.0 L614.7,415.6 L616.3,414.2 L617.8,412.9 L619.4,411.6 L620.9,410.3 L622.5,409.1 L624.0,407.8 L625.6,406.7 L627.1,405.5 L628.7,404.4 L630.2,403.2 L631.8,402.1 L633.4,401.1 L634.9,400.0 L636.5,399.0 L638.0,398.0 L639.6,397.0 L641.1,396.0 L642.7,395.0 L644.2,394.1 L645.8,393.1 L647.3,392.2 L648.9,391.3 L650.5,390.4 L652.0,389.6 L653.6,388.7 L655.1,387.9 L656.7,387.0 L658.2,386.2 L659.8,385.4 L661.3,384.6 L662.9,383.8 L664.4,383.0 L666.0,382.3 L668.9,378.4 L671.9,374.6 L674.9,370.8 L677.9,367.1 L681.0,363.4 L684.1,359.7 L687.3,356.0 L690.5,352.4 L693.7,348.9 L697.0,345.3 L700.3,341.8 L703.6,338.3 L707.0,334.9 L710.4,331.5 L713.8,328.1 L717.3,324.8 L720.8,321.5 L724.4,318.2 L728.0,315.0 L728.3,308.5 L728.7,301.9 L729.0,295.4 L729.4,288.8 L729.8,282.3 L730.2,275.8 L730.6,269.2 L731.0,262.7 L731.4,256.2 L731.9,249.6 L732.4,243.1 L732.9,236.5 L733.4,230.0 L734.0,223.5 L734.6,216.9 L735.2,210.4 L735.9,203.8 L736.6,197.3 L737.4,190.8 L738.3,184.2 L739.2,177.7 L740.3,171.2 L741.4,164.6 L742.6,158.1 L744.0,151.5 L745.5,145.0 L747.1,138.5 L749.0,131.9 L751.0,125.4 L753.3,118.8 L755.8,112.3 L758.6,105.8 L761.8,99.2 L765.3,92.7 L769.2,86.2 L773.6,79.6 L778.6,73.1 L784.2,66.5 L790.4,60.0" stroke="#f00" stroke-width="2.4"/>
<path d="M553.5,700.0 L554.3,520.8 L554.7,518.9 L555.0,517.1 L555.3,515.3 L555.6,513.5 L555.9,511.7 L556.3,510.0 L556.6,508.3 L556.9,506.6 L557.2,504.9 L557.6,503.3 L557.9,501.7 L558.2,500.1 L558.5,498.6 L558.8,497.1 L559.2,495.6 L559.5,494.1 L559.8,492.6 L560.1,491.1 L560.5,489.7 L560.8,488.3 L561.1,486.9 L561.4,485.5 L562.1,482.7 L562.7,480.1 L563.4,477.4 L564.0,474.8 L564.7,472.3 L565.3,469.8 L565.9,467.3 L566.6,464.9 L567.2,462.5 L567.9,460.1 L568.5,457.8 L569.2,455.5 L569.8,453.2 L570.5,451.0 L571.1,448.7 L571.8,446.5 L572.4,444.4 L573.0,442.2 L573.7,440.1 L574.3,437.9 L575.0,435.8 L575.6,433.8 L576.3,431.7 L576.9,429.7 L577.6,427.6 L578.2,425.6 L578.9,423.6 L579.5,421.7 L580.1,419.7 L580.8,417.8 L581.4,415.8 L582.1,413.9 L582.7,412.0 L583.4,410.2 L584.0,408.3 L584.7,406.5 L585.3,404.7 L586.0,402.8 L586.6,401.1 L587.2,399.3 L587.9,397.5 L588.5,395.8 L589.2,394.1 L589.8,392.4 L590.5,390.7 L591.1,389.0 L591.8,387.3 L592.4,385.7 L593.1,384.1 L593.7,382.5 L594.3,380.9 L595.0,379.3 L595.6,377.7 L596.3,376.2 L596.9,374.7 L597.6,373.2 L598.2,371.7 L598.9,370.2 L599.5,368.7 L600.2,367.3 L600.8,365.9 L601.4,364.4 L602.1,363.1 L602.7,361.7 L603.4,360.3 L604.0,359.0 L604.7,357.6 L605.3,356.3 L606.0,355.0 L606.6,353.7 L607.3,352.4 L607.9,351.2 L608.9,349.3 L609.8,347.5 L610.8,345.7 L611.8,343.9 L612.7,342.2 L613.7,340.5 L614.7,338.8 L615.6,337.2 L616.6,335.6 L617.6,334.0 L618.6,332.4 L619.5,330.9 L620.5,329.3 L621.5,327.9 L622.4,326.4 L623.4,325.0 L624.4,323.6 L625.3,322.2 L626.3,320.8 L627.3,319.4 L628.2,318.1 L629.2,316.8 L630.2,315.5 L631.1,314.3 L632.1,313.0 L633.1,311.8 L634.0,310.6 L635.0,309.4 L636.0,308.3 L636.9,307.1 L637.9,306.0 L638.9,304.8 L639.9,303.7 L640.8,302.6 L641.8,301.6 L642.8,300.5 L643.7,299.4 L644.7,298.4 L645.7,297.3 L646.6,296.3 L647.9,294.9 L649.2,293.6 L650.2,292.5 L651.1,291.5 L652.1,290.4 L653.1,289.3 L654.1,288.2 L655.0,287.1 L656.0,285.8 L657.0,284.6 L657.9,283.2 L658.9,281.7 L659.9,280.2 L660.8,278.5 L661.8,276.6 L662.4,275.3 L663.1,273.9 L663.7,272.5 L664.4,270.9 L665.0,269.3 L665.7,267.7 L666.3,266.0 L667.0,264.2 L667.6,262.4 L668.3,260.5 L668.9,258.6 L669.5,256.7 L670.2,254.7 L670.8,252.7 L671.5,250.8 L672.1,248.8 L672.8,246.8 L673.4,244.9 L674.1,242.9 L674.7,241.0 L675.4,239.1 L676.0,237.2 L676.6,235.3 L677.3,233.5 L677.9,231.6 L678.6,229.9 L679.2,228.1 L679.9,226.4 L680.5,224.7 L681.2,223.0 L681.8,221.4 L682.5,219.8 L683.1,218.2 L683.7,216.7 L684.4,215.2 L685.0,213.7 L685.7,212.2 L686.3,210.8 L687.0,209.4 L687.6,208.0 L688.3,206.7 L688.9,205.3 L689.6,204.0 L690.2,202.7 L691.2,200.9 L692.1,199.0 L693.1,197.3 L694.1,195.5 L695.0,193.8 L696.0,192.2 L697.0,190.6 L697.9,189.0 L698.9,187.5 L699.9,186.0 L700.8,184.6 L701.8,183.1 L702.8,181.7 L703.8,180.4 L704.7,179.0 L705.7,177.7 L706.7,176.5 L707.6,175.2 L708.6,174.0 L709.6,172.8 L710.5,171.6 L711.5,170.4 L712.5,169.3 L713.4,168.2 L714.4,167.1 L715.4,166.0 L716.3,165.0 L717.3,163.9 L718.3,162.9 L719.3,161.9 L720.3,160.8 L721.4,159.8 L722.4,158.7 L723.5,157.7 L724.5,156.7 L725.6,155.7 L726.6,154.8 L727.8,153.8 L728.9,152.8 L730.0,151.8 L731.1,150.8 L732.2,149.8 L733.3,148.9 L734.3,147.8 L735.3,146.7 L736.2,145.5 L737.0,144.3 L737.8,143.1 L738.5,141.8 L739.2,140.4 L739.8,139.1 L740.4,137.7 L741.0,136.3 L741.5,134.9 L742.1,133.5 L742.6,132.2 L743.1,130.8 L743.6,129.4 L744.1,128.0 L744.6,126.6 L745.1,125.2 L745.5,123.7 L746.0,122.3 L746.5,120.8 L747.0,119.4 L747.5,117.9 L748.0,116.5 L748.5,115.1 L749.0,113.7 L749.5,112.3 L750.0,110.9 L750.5,109.5 L751.0,108.1 L751.5,106.8 L752.0,105.5 L752.5,104.0 L753.1,102.6 L753.6,101.1 L754.2,99.7 L754.8,98.3 L755.3,97.0 L755.9,95.7 L756.4,94.3 L757.0,92.9 L757.7,91.5 L758.3,90.1 L758.9,88.8 L759.5,87.4 L760.1,86.1 L760.7,84.8 L761.4,83.4 L762.1,82.1 L762.8,80.8 L763.5,79.4 L764.1,78.2 L764.8,76.9 L765.6,75.6 L766.3,74.3 L767.0,73.0 L767.8,71.7 L768.5,70.5 L769.3,69.3 L770.1,68.0 L770.9,66.7 L771.7,65.5 L772.5,64.3 L773.3,63.1 L774.1,61.9 L775.0,60.7 L775.4,60.0 M553.5,700.0 L554.3,529.2 L554.7,526.7 L555.0,524.3 L555.3,522.0 L555.6,519.7 L555.9,517.5 L556.3,515.5 L556.6,513.4 L556.9,511.5 L557.2,509.5 L557.6,507.7 L557.9,505.9 L558.2,504.1 L558.5,502.4 L558.8,500.7 L559.2,499.1 L559.5,497.5 L559.8,495.9 L560.1,494.4 L560.5,492.9 L560.8,491.5 L561.1,490.1 L561.4,488.7 L562.1,485.9 L562.7,483.3 L563.4,480.8 L564.0,478.4 L564.7,476.0 L565.3,473.7 L565.9,471.5 L566.6,469.3 L567.2,467.2 L567.9,465.1 L568.5,463.1 L569.2,461.2 L569.8,459.2 L570.5,457.3 L571.1,455.5 L571.8,453.7 L572.4,451.9 L573.0,450.2 L573.7,448.5 L574.3,446.8 L575.0,445.1 L575.6,443.5 L576.3,441.9 L576.9,440.3 L577.6,438.7 L578.2,437.2 L578.9,435.6 L579.5,434.1 L580.1,432.6 L580.8,431.1 L581.4,429.6 L582.1,428.2 L582.7,426.7 L583.4,425.3 L584.0,423.9 L584.7,422.5 L585.3,421.1 L586.0,419.7 L586.6,418.3 L587.2,416.9 L587.9,415.5 L588.5,414.2 L589.2,412.8 L589.8,411.5 L590.5,410.1 L591.1,408.8 L591.8,407.5 L592.4,406.1 L593.1,404.8 L593.7,403.5 L594.3,402.2 L595.0,400.8 L595.6,399.5 L596.3,398.2 L596.9,396.9 L597.6,395.6 L598.2,394.3 L598.9,393.0 L599.5,391.7 L600.2,390.4 L600.8,389.1 L601.4,387.8 L602.1,386.6 L602.7,385.3 L603.4,384.0 L604.0,382.7 L604.7,381.4 L605.3,380.1 L606.0,378.8 L606.6,377.5 L607.3,376.3 L607.9,375.0 L608.5,373.7 L609.2,372.4 L609.8,371.1 L610.5,369.8 L611.1,368.5 L611.8,367.3 L612.4,366.0 L613.1,364.7 L613.7,363.4 L614.4,362.1 L615.0,360.8 L615.6,359.6 L616.3,358.3 L616.9,357.0 L617.6,355.7 L618.2,354.4 L618.9,353.2 L619.5,351.9 L620.2,350.6 L620.8,349.3 L621.5,348.1 L622.1,346.8 L622.7,345.5 L623.4,344.2 L624.0,343.0 L624.7,341.7 L625.3,340.4 L626.0,339.2 L626.6,337.9 L627.3,336.7 L628.2,334.8 L629.2,332.9 L630.2,331.0 L631.1,329.2 L632.1,327.3 L633.1,325.4 L634.0,323.6 L635.0,321.8 L636.0,319.9 L636.9,318.1 L637.9,316.3 L638.9,314.5 L639.9,312.7 L640.8,311.0 L641.8,309.2 L642.8,307.4 L643.7,305.7 L644.7,304.0 L645.7,302.3 L646.6,300.6 L647.6,298.9 L648.6,297.2 L649.5,295.5 L650.5,293.9 L651.5,292.3 L652.4,290.7 L653.4,289.1 L654.4,287.5 L655.3,285.9 L656.3,284.3 L657.3,282.8 L658.2,281.3 L659.2,279.8 L660.2,278.3 L661.2,276.8 L662.1,275.3 L663.1,273.9 L664.1,272.4 L665.0,271.0 L666.0,269.6 L667.0,268.2 L667.9,266.9 L668.9,265.5 L669.9,264.2 L670.8,262.8 L671.5,261.4 L672.1,259.3 L672.8,257.0 L673.4,254.7 L674.1,252.4 L674.7,250.2 L675.4,248.1 L676.0,246.0 L676.6,244.0 L677.3,242.1 L677.9,240.2 L678.6,238.4 L679.2,236.7 L679.9,234.9 L680.5,233.3 L681.2,231.7 L681.8,230.1 L682.5,228.5 L683.1,227.1 L683.7,225.6 L684.4,224.2 L685.0,222.8 L685.7,221.4 L686.3,220.1 L687.0,218.8 L687.6,217.5 L688.6,215.6 L689.6,213.8 L690.5,212.1 L691.5,210.4 L692.5,208.7 L693.4,207.1 L694.4,205.6 L695.4,204.1 L696.3,202.6 L697.3,201.1 L698.3,199.7 L699.2,198.3 L700.2,197.0 L701.2,195.6 L702.1,194.4 L703.1,193.1 L704.1,191.9 L705.0,190.6 L706.0,189.5 L707.0,188.3 L707.9,187.1 L708.9,186.0 L709.9,184.9 L710.9,183.8 L711.8,182.8 L712.8,181.7 L714.1,180.4 L715.4,179.0 L716.4,178.0 L717.4,177.0 L718.5,175.9 L719.5,174.9 L720.6,173.9 L721.6,173.0 L722.7,172.0 L723.8,171.0 L724.9,170.0 L726.0,169.1 L727.1,168.1 L728.3,167.2 L729.4,166.2 L730.5,165.3 L731.6,164.4 L732.6,163.4 L733.7,162.4 L734.7,161.3 L735.6,160.1 L736.4,158.9 L737.1,157.6 L737.8,156.4 L738.5,155.0 L739.1,153.6 L739.7,152.3 L740.2,150.9 L740.8,149.5 L741.3,148.1 L741.8,146.7 L742.3,145.3 L742.8,143.9 L743.3,142.4 L743.8,140.9 L744.3,139.4 L744.7,137.9 L745.2,136.4 L745.7,134.9 L746.2,133.4 L746.7,131.9 L747.2,130.4 L747.7,128.9 L748.2,127.4 L748.7,125.9 L749.2,124.5 L749.7,123.1 L750.2,121.6 L750.7,120.3 L751.2,118.9 L751.7,117.5 L752.2,116.2 L752.7,114.7 L753.3,113.2 L753.8,111.8 L754.4,110.4 L754.9,109.0 L755.5,107.6 L756.1,106.3 L756.6,105.0 L757.2,103.6 L757.8,102.2 L758.5,100.8 L759.1,99.4 L759.7,98.1 L760.3,96.8 L760.9,95.5 L761.6,94.1 L762.3,92.8 L763.0,91.5 L763.6,90.2 L764.3,88.9 L765.0,87.7 L765.7,86.3 L766.5,85.0 L767.2,83.7 L768.0,82.5 L768.7,81.3 L769.5,80.0 L770.3,78.8 L771.1,77.5 L771.9,76.3 L772.7,75.1 L773.5,73.9 L774.3,72.7 L775.2,71.4 L776.1,70.2 L776.9,69.1 L777.8,67.9 L778.7,66.8 L779.6,65.6 L780.5,64.5 L781.4,63.3 L782.4,62.2 L783.3,61.1 L784.2,60.0 L784.3,60.0 M553.5,700.0 L554.3,575.5 L554.7,569.5 L555.0,564.1 L555.3,559.2 L555.6,554.6 L555.9,550.4 L556.3,546.5 L556.6,542.8 L556.9,539.4 L557.2,536.2 L557.6,533.1 L557.9,530.2 L558.2,527.5 L558.5,524.8 L558.8,522.3 L559.2,519.9 L559.5,517.6 L559.8,515.4 L560.1,513.3 L560.5,511.2 L560.8,509.3 L561.1,507.3 L561.4,505.5 L561.8,503.7 L562.1,502.0 L562.4,500.3 L562.7,498.7 L563.0,497.1 L563.4,495.5 L563.7,494.0 L564.0,492.6 L564.3,491.1 L564.7,489.8 L565.3,487.1 L565.9,484.5 L566.6,482.1 L567.2,479.7 L567.9,477.5 L568.5,475.3 L569.2,473.2 L569.8,471.2 L570.5,469.3 L571.1,467.4 L571.8,465.6 L572.4,463.8 L573.0,462.1 L573.7,460.5 L574.3,458.9 L575.0,457.3 L575.6,455.8 L576.3,454.3 L576.9,452.8 L577.6,451.4 L578.2,450.0 L578.9,448.7 L579.5,447.4 L580.1,446.1 L581.1,444.2 L582.1,442.4 L583.1,440.6 L584.0,438.9 L585.0,437.3 L586.0,435.6 L586.9,434.1 L587.9,432.5 L588.9,431.0 L589.8,429.5 L590.8,428.1 L591.8,426.6 L592.7,425.2 L593.7,423.9 L594.7,422.5 L595.6,421.2 L596.6,419.9 L597.6,418.6 L598.5,417.3 L599.5,416.0 L600.5,414.7 L601.4,413.4 L602.4,412.1 L603.4,410.8 L604.4,409.5 L605.3,408.1 L606.3,406.8 L607.3,405.4 L608.2,404.0 L609.2,402.6 L610.2,401.1 L611.1,399.6 L612.1,398.0 L613.1,396.4 L614.0,394.7 L615.0,392.9 L616.0,391.1 L616.9,389.2 L617.6,387.9 L618.2,386.5 L618.9,385.2 L619.5,383.7 L620.2,382.3 L620.8,380.8 L621.5,379.3 L622.1,377.8 L622.7,376.2 L623.4,374.6 L624.0,372.9 L624.7,371.3 L625.3,369.6 L626.0,367.9 L626.6,366.2 L627.3,364.4 L627.9,362.7 L628.6,360.9 L629.2,359.1 L629.8,357.3 L630.5,355.5 L631.1,353.7 L631.8,351.9 L632.4,350.1 L633.1,348.4 L633.7,346.6 L634.4,344.8 L635.0,343.1 L635.7,341.3 L636.3,339.6 L636.9,337.9 L637.6,336.2 L638.2,334.5 L638.9,332.8 L639.5,331.2 L640.2,329.5 L640.8,327.9 L641.5,326.3 L642.1,324.8 L642.8,323.2 L643.4,321.7 L644.0,320.2 L644.7,318.7 L645.3,317.2 L646.0,315.8 L646.6,314.3 L647.3,312.9 L647.9,311.5 L648.6,310.1 L649.2,308.8 L649.9,307.4 L650.5,306.1 L651.1,304.8 L651.8,303.5 L652.4,302.2 L653.1,300.9 L653.7,299.7 L654.7,297.8 L655.7,295.9 L656.6,294.1 L657.6,292.3 L658.6,290.4 L659.5,288.6 L660.5,286.7 L661.5,284.8 L662.4,283.0 L663.1,281.7 L663.7,280.4 L664.4,279.1 L665.0,277.8 L665.7,276.5 L666.3,275.1 L667.0,273.8 L667.6,272.4 L668.3,271.1 L668.9,269.7 L669.5,268.4 L670.2,267.0 L670.8,265.6 L671.5,264.2 L672.1,262.9 L672.8,261.5 L673.4,260.1 L674.1,258.8 L674.7,257.4 L675.4,256.1 L676.0,254.8 L676.6,253.5 L677.3,252.1 L677.9,250.9 L678.6,249.6 L679.2,248.3 L680.2,246.5 L681.2,244.6 L682.1,242.8 L683.1,241.1 L684.1,239.3 L685.0,237.7 L686.0,236.0 L687.0,234.4 L687.9,232.8 L688.9,231.2 L689.9,229.7 L690.8,228.2 L691.8,226.8 L692.8,225.3 L693.7,223.9 L694.7,222.6 L695.7,221.2 L696.7,219.9 L697.6,218.6 L698.6,217.3 L699.6,216.1 L700.5,214.9 L701.5,213.7 L702.5,212.5 L703.4,211.3 L704.4,210.2 L705.4,209.1 L706.3,208.0 L707.3,206.9 L708.3,205.9 L709.2,204.8 L710.5,203.5 L711.8,202.2 L713.1,200.9 L714.4,199.6 L715.5,198.6 L716.5,197.6 L717.6,196.6 L718.6,195.6 L719.7,194.7 L720.8,193.7 L721.9,192.7 L723.0,191.7 L724.1,190.8 L725.2,189.9 L726.3,188.9 L727.5,188.0 L728.6,187.1 L729.7,186.2 L730.8,185.3 L731.9,184.3 L732.9,183.2 L733.9,182.1 L734.7,180.9 L735.5,179.7 L736.2,178.4 L736.8,177.1 L737.4,175.7 L738.0,174.3 L738.4,172.9 L738.9,171.5 L739.4,170.0 L739.9,168.6 L740.3,167.2 L740.7,165.7 L741.2,164.2 L741.6,162.7 L742.0,161.2 L742.5,159.7 L742.9,158.1 L743.3,156.6 L743.8,155.0 L744.2,153.4 L744.6,151.9 L745.1,150.3 L745.5,148.8 L745.9,147.3 L746.4,145.8 L746.8,144.3 L747.2,142.8 L747.6,141.4 L748.1,139.9 L748.5,138.5 L748.9,137.1 L749.4,135.7 L749.8,134.4 L750.3,132.8 L750.8,131.3 L751.3,129.9 L751.8,128.4 L752.3,127.0 L752.8,125.6 L753.3,124.2 L753.8,122.9 L754.3,121.5 L754.8,120.1 L755.4,118.6 L755.9,117.2 L756.5,115.9 L757.0,114.5 L757.6,113.2 L758.2,111.7 L758.8,110.3 L759.4,108.9 L760.1,107.6 L760.7,106.3 L761.3,105.0 L761.9,103.7 L762.6,102.3 L763.3,101.0 L764.0,99.7 L764.6,98.4 L765.3,97.1 L766.1,95.8 L766.8,94.5 L767.5,93.2 L768.3,91.9 L769.0,90.7 L769.8,89.5 L770.6,88.2 L771.4,86.9 L772.2,85.7 L773.0,84.5 L773.8,83.3 L774.6,82.0 L775.5,80.8 L776.4,79.6 L777.2,78.4 L778.1,77.3 L779.0,76.2 L779.9,75.0 L780.8,73.8 L781.7,72.7 L782.7,71.6 L783.6,70.5 L784.5,69.4 L785.5,68.3 L786.5,67.2 L787.5,66.1 L788.5,65.0 L789.5,64.0 L790.5,63.0 L791.5,61.9 L792.6,60.8 L793.4,60.0 M553.5,700.0 L554.3,589.9 L554.7,583.9 L555.0,578.5 L555.3,573.5 L555.6,569.0 L555.9,564.8 L556.3,560.9 L556.6,557.2 L556.9,553.8 L557.2,550.6 L557.6,547.5 L557.9,544.6 L558.2,541.9 L558.5,539.2 L558.8,536.7 L559.2,534.3 L559.5,532.0 L559.8,529.8 L560.1,527.7 L560.5,525.6 L560.8,523.6 L561.1,521.7 L561.4,519.9 L561.8,518.1 L562.1,516.4 L562.4,514.7 L562.7,513.1 L563.0,511.5 L563.4,509.9 L563.7,508.4 L564.0,507.0 L564.3,505.5 L564.7,504.1 L565.3,501.5 L565.9,498.9 L566.6,496.5 L567.2,494.1 L567.9,491.9 L568.5,489.7 L569.2,487.6 L569.8,485.6 L570.5,483.7 L571.1,481.8 L571.8,480.0 L572.4,478.2 L573.0,476.5 L573.7,474.9 L574.3,473.3 L575.0,471.7 L575.6,470.2 L576.3,468.7 L576.9,467.3 L577.6,465.9 L578.2,464.5 L578.9,463.2 L579.5,461.9 L580.1,460.6 L581.1,458.7 L582.1,456.9 L583.1,455.2 L584.0,453.5 L585.0,451.9 L586.0,450.3 L586.9,448.7 L587.9,447.2 L588.9,445.7 L589.8,444.3 L590.8,442.9 L591.8,441.5 L592.7,440.2 L593.7,438.9 L594.7,437.6 L595.6,436.4 L596.6,435.2 L597.6,434.0 L598.5,432.8 L599.5,431.7 L600.5,430.6 L601.4,429.5 L602.4,428.4 L603.4,427.3 L604.4,426.3 L605.6,425.0 L606.9,423.6 L608.2,422.3 L609.5,421.1 L610.8,419.9 L612.1,418.6 L613.4,417.5 L614.7,416.3 L616.0,415.2 L617.3,414.1 L618.6,413.0 L619.8,411.9 L621.1,410.9 L622.4,409.8 L623.7,408.8 L625.0,407.8 L626.3,406.9 L627.6,405.9 L628.9,405.0 L630.2,404.0 L631.5,403.1 L632.8,402.2 L634.0,401.3 L635.3,400.5 L636.6,399.6 L637.9,398.8 L639.2,397.9 L640.5,397.1 L641.8,396.3 L643.1,395.5 L644.4,394.7 L645.7,394.0 L647.0,393.2 L648.2,392.4 L649.5,391.7 L650.8,391.0 L652.1,390.2 L653.4,389.5 L654.7,388.8 L656.0,388.1 L657.3,387.4 L658.6,386.8 L659.9,386.1 L661.2,385.4 L662.4,384.8 L663.7,384.1 L665.0,383.5 L666.3,382.9 L667.6,382.2 L668.9,381.6 L670.2,381.0 L671.5,380.4 L672.8,379.8 L674.1,379.2 L675.4,378.6 L676.6,378.0 L678.3,377.3 L679.9,376.6 L681.5,375.9 L683.1,375.2 L684.7,374.5 L686.3,373.9 L687.9,373.2 L689.6,372.5 L691.2,371.9 L692.8,371.2 L694.4,370.6 L696.0,370.0 L697.6,369.3 L699.2,368.7 L700.8,368.1 L702.5,367.5 L704.1,366.9 L705.7,366.3 L707.3,365.8 L708.9,365.2 L710.5,364.6 L712.1,364.0 L713.8,363.5 L715.4,362.9 L716.8,362.4 L718.1,362.0 L719.5,361.5 L720.8,361.1 L722.2,360.6 L723.5,360.0 L724.7,359.2 L725.7,358.0 L726.4,356.8 L726.9,355.4 L727.3,353.8 L727.6,352.4 L727.9,350.7 L728.2,349.1 L728.4,347.3 L728.6,345.7 L728.8,344.1 L729.0,342.3 L729.2,340.4 L729.4,338.3 L729.5,336.8 L729.6,335.3 L729.7,333.8 L729.9,332.1 L730.0,330.5 L730.1,328.7 L730.2,327.0 L730.4,325.2 L730.5,323.3 L730.6,321.4 L730.7,319.5 L730.8,317.5 L731.0,315.5 L731.1,313.5 L731.2,311.4 L731.3,309.4 L731.5,307.3 L731.6,305.2 L731.7,303.1 L731.8,300.9 L732.0,298.8 L732.1,296.7 L732.2,294.5 L732.3,292.4 L732.5,290.2 L732.6,288.1 L732.7,286.0 L732.8,283.8 L732.9,281.7 L733.1,279.6 L733.2,277.5 L733.3,275.4 L733.4,273.3 L733.6,271.2 L733.7,269.2 L733.8,267.1 L733.9,265.1 L734.1,263.1 L734.2,261.1 L734.3,259.1 L734.4,257.2 L734.6,255.2 L734.7,253.3 L734.8,251.4 L734.9,249.5 L735.0,247.7 L735.2,245.8 L735.3,244.0 L735.4,242.2 L735.5,240.4 L735.7,238.6 L735.8,236.9 L735.9,235.2 L736.0,233.5 L736.2,231.8 L736.3,230.1 L736.4,228.5 L736.5,226.9 L736.7,225.3 L736.8,223.7 L736.9,222.1 L737.0,220.6 L737.1,219.1 L737.3,217.6 L737.4,216.1 L737.5,214.6 L737.6,213.2 L737.8,211.8 L738.0,209.7 L738.1,207.6 L738.3,205.6 L738.5,203.6 L738.7,201.7 L738.9,199.8 L739.1,197.9 L739.2,196.1 L739.4,194.3 L739.6,192.5 L739.8,190.8 L740.0,189.1 L740.2,187.4 L740.4,185.8 L740.5,184.2 L740.7,182.6 L740.9,181.1 L741.1,179.6 L741.3,178.1 L741.5,176.6 L741.7,175.2 L741.8,173.8 L742.1,171.9 L742.3,170.1 L742.6,168.3 L742.8,166.6 L743.1,164.9 L743.3,163.3 L743.6,161.7 L743.8,160.1 L744.1,158.6 L744.3,157.0 L744.6,155.6 L744.8,154.1 L745.1,152.7 L745.3,151.3 L745.6,149.6 L745.9,147.9 L746.2,146.3 L746.5,144.7 L746.8,143.2 L747.2,141.6 L747.5,140.2 L747.8,138.7 L748.1,137.3 L748.4,135.9 L748.8,134.3 L749.1,132.7 L749.5,131.1 L749.9,129.6 L750.2,128.1 L750.6,126.7 L751.0,125.2 L751.4,123.8 L751.8,122.3 L752.2,120.7 L752.7,119.2 L753.1,117.7 L753.5,116.3 L754.0,114.9 L754.4,113.5 L754.9,112.0 L755.4,110.5 L755.9,109.0 L756.4,107.6 L756.9,106.1 L757.2,104.5 L757.4,103.0 L757.5,101.2 L757.7,98.5 L757.7,96.6 L757.8,94.3 L757.8,91.5 L757.9,88.2 L758.0,84.3 L758.0,80.0 L758.1,75.3 L758.2,70.1 L758.2,64.7 L758.3,59.0 M553.5,700.0 L554.3,588.9 L554.7,582.9 L555.0,577.5 L555.3,572.6 L555.6,568.0 L555.9,563.8 L556.3,559.9 L556.6,556.2 L556.9,552.8 L557.2,549.6 L557.6,546.5 L557.9,543.6 L558.2,540.9 L558.5,538.2 L558.8,535.7 L559.2,533.3 L559.5,531.0 L559.8,528.8 L560.1,526.7 L560.5,524.6 L560.8,522.7 L561.1,520.8 L561.4,518.9 L561.8,517.1 L562.1,515.4 L562.4,513.7 L562.7,512.1 L563.0,510.5 L563.4,508.9 L563.7,507.4 L564.0,506.0 L564.3,504.6 L564.7,503.2 L565.3,500.5 L565.9,497.9 L566.6,495.5 L567.2,493.1 L567.9,490.9 L568.5,488.7 L569.2,486.7 L569.8,484.6 L570.5,482.7 L571.1,480.8 L571.8,479.0 L572.4,477.3 L573.0,475.6 L573.7,473.9 L574.3,472.3 L575.0,470.7 L575.6,469.2 L576.3,467.8 L576.9,466.3 L577.6,464.9 L578.2,463.5 L578.9,462.2 L579.5,460.9 L580.1,459.6 L581.1,457.8 L582.1,456.0 L583.1,454.2 L584.0,452.5 L585.0,450.9 L586.0,449.3 L586.9,447.7 L587.9,446.2 L588.9,444.8 L589.8,443.3 L590.8,441.9 L591.8,440.6 L592.7,439.2 L593.7,437.9 L594.7,436.7 L595.6,435.4 L596.6,434.2 L597.6,433.0 L598.5,431.8 L599.5,430.7 L600.5,429.6 L601.4,428.5 L602.4,427.4 L603.4,426.4 L604.4,425.3 L605.6,424.0 L606.9,422.7 L608.2,421.4 L609.5,420.1 L610.8,418.9 L612.1,417.7 L613.4,416.5 L614.7,415.3 L616.0,414.2 L617.3,413.1 L618.6,412.0 L619.8,410.9 L621.1,409.9 L622.4,408.9 L623.7,407.8 L625.0,406.9 L626.3,405.9 L627.6,404.9 L628.9,404.0 L630.2,403.1 L631.5,402.1 L632.8,401.2 L634.0,400.4 L635.3,399.5 L636.6,398.6 L637.9,397.8 L639.2,397.0 L640.5,396.1 L641.8,395.3 L643.1,394.5 L644.4,393.8 L645.7,393.0 L647.0,392.2 L648.2,391.5 L649.5,390.7 L650.8,390.0 L652.1,389.3 L653.4,388.6 L654.7,387.8 L656.0,387.2 L657.3,386.5 L658.6,385.8 L659.9,385.1 L661.2,384.5 L662.4,383.8 L663.7,383.1 L665.0,382.5 L666.3,381.9 L667.6,381.2 L668.9,380.6 L670.2,380.0 L671.5,379.4 L672.8,378.8 L674.1,378.2 L675.4,377.6 L676.6,377.0 L678.3,376.3 L679.9,375.6 L681.5,374.9 L683.1,374.2 L684.7,373.5 L686.3,372.9 L687.9,372.2 L689.6,371.5 L691.2,370.9 L692.8,370.3 L694.4,369.6 L696.0,369.0 L697.6,368.4 L699.2,367.8 L700.8,367.1 L702.5,366.5 L704.1,365.9 L705.7,365.4 L707.3,364.8 L708.9,364.2 L710.5,363.6 L712.1,363.1 L713.8,362.5 L715.4,361.9 L716.8,361.5 L718.1,361.0 L719.5,360.6 L720.8,360.1 L722.2,359.6 L723.5,359.0 L724.7,358.2 L725.7,357.1 L726.5,355.8 L727.0,354.3 L727.5,352.7 L727.8,351.3 L728.1,349.6 L728.3,348.0 L728.6,346.2 L728.7,344.8 L728.9,343.2 L729.1,341.5 L729.3,339.7 L729.5,337.7 L729.7,335.6 L729.8,334.2 L729.9,332.7 L730.0,331.2 L730.2,329.6 L730.3,328.0 L730.4,326.3 L730.5,324.6 L730.7,322.9 L730.8,321.1 L730.9,319.3 L731.0,317.5 L731.2,315.7 L731.3,313.8 L731.4,312.0 L731.5,310.1 L731.7,308.2 L731.8,306.3 L731.9,304.4 L732.0,302.5 L732.1,300.6 L732.3,298.7 L732.4,296.7 L732.5,294.8 L732.6,292.9 L732.8,291.0 L732.9,289.1 L733.0,287.3 L733.1,285.4 L733.3,283.5 L733.4,281.7 L733.5,279.8 L733.6,278.0 L733.8,276.2 L733.9,274.4 L734.0,272.6 L734.1,270.9 L734.2,269.1 L734.4,267.4 L734.5,265.7 L734.6,264.0 L734.7,262.3 L734.9,260.7 L735.0,259.1 L735.1,257.4 L735.2,255.8 L735.4,254.3 L735.5,252.7 L735.6,251.1 L735.7,249.6 L735.9,248.1 L736.0,246.6 L736.1,245.2 L736.2,243.7 L736.3,242.3 L736.5,240.8 L736.7,238.8 L736.8,236.7 L737.0,234.7 L737.2,232.7 L737.4,230.8 L737.6,228.9 L737.8,227.0 L738.0,225.2 L738.1,223.4 L738.3,221.6 L738.5,219.9 L738.7,218.2 L738.9,216.5 L739.1,214.9 L739.2,213.3 L739.4,211.7 L739.6,210.2 L739.8,208.6 L740.0,207.2 L740.2,205.7 L740.4,204.3 L740.5,202.8 L740.8,201.0 L741.0,199.2 L741.3,197.4 L741.5,195.7 L741.8,194.0 L742.0,192.4 L742.3,190.7 L742.5,189.2 L742.8,187.6 L743.0,186.1 L743.3,184.6 L743.5,183.2 L743.8,181.7 L744.0,180.3 L744.3,178.6 L744.6,177.0 L744.9,175.3 L745.2,173.7 L745.5,172.2 L745.9,170.7 L746.2,169.2 L746.5,167.7 L746.8,166.3 L747.1,164.9 L747.5,163.3 L747.8,161.7 L748.2,160.1 L748.6,158.6 L748.9,157.1 L749.3,155.6 L749.7,154.2 L750.1,152.8 L750.5,151.2 L750.9,149.7 L751.4,148.2 L751.8,146.7 L752.2,145.3 L752.7,143.9 L753.1,142.5 L753.5,141.1 L754.0,139.6 L754.5,138.2 L755.0,136.7 L755.5,135.3 L756.0,134.0 L756.5,132.6 L757.0,131.1 L757.6,129.7 L758.1,128.3 L758.6,126.8 L759.0,125.4 L759.4,123.8 L759.8,122.4 L760.2,120.9 L760.6,119.4 L760.9,117.8 L761.3,116.2 L761.7,114.6 L762.0,113.0 L762.4,111.4 L762.8,109.8 L763.2,108.1 L763.5,106.5 L763.9,105.0 L764.3,103.4 L764.6,101.8 L765.0,100.3 L765.4,98.8 L765.7,97.3 L766.1,95.9 L766.5,94.4 L766.9,93.0 L767.2,91.6 L767.7,90.0 L768.1,88.5 L768.5,86.9 L769.0,85.5 L769.4,84.0 L769.8,82.6 L770.3,81.2 L770.7,79.8 L771.2,78.3 L771.7,76.8 L772.2,75.3 L772.7,73.9 L773.2,72.5 L773.7,71.1 L774.2,69.8 L774.7,68.3 L775.3,66.9 L775.8,65.5 L776.4,64.1 L776.9,62.7 L777.5,61.4 L778.1,60.0 L778.2,59.9 M553.5,700.0 L554.3,588.2 L554.7,582.2 L555.0,576.8 L555.3,571.8 L555.6,567.3 L555.9,563.1 L556.3,559.2 L556.6,555.5 L556.9,552.1 L557.2,548.9 L557.6,545.8 L557.9,542.9 L558.2,540.1 L558.5,537.5 L558.8,535.0 L559.2,532.6 L559.5,530.3 L559.8,528.1 L560.1,526.0 L560.5,523.9 L560.8,521.9 L561.1,520.0 L561.4,518.2 L561.8,516.4 L562.1,514.7 L562.4,513.0 L562.7,511.3 L563.0,509.8 L563.4,508.2 L563.7,506.7 L564.0,505.3 L564.3,503.8 L564.7,502.4 L565.3,499.8 L565.9,497.2 L566.6,494.8 L567.2,492.4 L567.9,490.2 L568.5,488.0 L569.2,485.9 L569.8,483.9 L570.5,482.0 L571.1,480.1 L571.8,478.3 L572.4,476.5 L573.0,474.8 L573.7,473.2 L574.3,471.6 L575.0,470.0 L575.6,468.5 L576.3,467.0 L576.9,465.6 L577.6,464.2 L578.2,462.8 L578.9,461.5 L579.5,460.2 L580.1,458.9 L581.1,457.0 L582.1,455.2 L583.1,453.5 L584.0,451.8 L585.0,450.2 L586.0,448.6 L586.9,447.0 L587.9,445.5 L588.9,444.0 L589.8,442.6 L590.8,441.2 L591.8,439.8 L592.7,438.5 L593.7,437.2 L594.7,435.9 L595.6,434.7 L596.6,433.5 L597.6,432.3 L598.5,431.1 L599.5,430.0 L600.5,428.9 L601.4,427.8 L602.4,426.7 L603.4,425.6 L604.4,424.6 L605.6,423.3 L606.9,421.9 L608.2,420.6 L609.5,419.4 L610.8,418.2 L612.1,416.9 L613.4,415.8 L614.7,414.6 L616.0,413.5 L617.3,412.4 L618.6,411.3 L619.8,410.2 L621.1,409.2 L622.4,408.1 L623.7,407.1 L625.0,406.1 L626.3,405.2 L627.6,404.2 L628.9,403.3 L630.2,402.3 L631.5,401.4 L632.8,400.5 L634.0,399.6 L635.3,398.8 L636.6,397.9 L637.9,397.1 L639.2,396.2 L640.5,395.4 L641.8,394.6 L643.1,393.8 L644.4,393.0 L645.7,392.3 L647.0,391.5 L648.2,390.7 L649.5,390.0 L650.8,389.3 L652.1,388.5 L653.4,387.8 L654.7,387.1 L656.0,386.4 L657.3,385.7 L658.6,385.1 L659.9,384.4 L661.2,383.7 L662.4,383.1 L663.7,382.4 L665.0,381.8 L666.3,381.2 L667.6,380.5 L668.9,379.9 L670.2,379.3 L671.5,378.7 L672.8,378.1 L674.1,377.5 L675.4,376.9 L676.6,376.3 L678.3,375.6 L679.9,374.9 L681.5,374.2 L683.1,373.5 L684.7,372.8 L686.3,372.2 L687.9,371.5 L689.6,370.8 L691.2,370.2 L692.8,369.5 L694.4,368.9 L696.0,368.3 L697.6,367.6 L699.2,367.0 L700.8,366.4 L702.5,365.8 L704.1,365.2 L705.7,364.6 L707.3,364.1 L708.9,363.5 L710.5,362.9 L712.1,362.3 L713.8,361.8 L715.4,361.2 L716.8,360.7 L718.1,360.3 L719.5,359.8 L720.8,359.4 L722.2,358.9 L723.5,358.3 L724.7,357.5 L725.7,356.4 L726.5,355.1 L727.0,353.6 L727.5,352.1 L727.8,350.7 L728.1,349.0 L728.3,347.4 L728.6,345.7 L728.7,344.2 L728.9,342.6 L729.1,340.9 L729.3,339.1 L729.5,337.2 L729.7,335.1 L729.8,333.6 L729.9,332.1 L730.0,330.6 L730.2,329.0 L730.3,327.4 L730.4,325.7 L730.5,324.0 L730.7,322.3 L730.8,320.5 L730.9,318.7 L731.0,316.9 L731.2,315.0 L731.3,313.1 L731.4,311.3 L731.5,309.4 L731.7,307.4 L731.8,305.5 L731.9,303.6 L732.0,301.7 L732.1,299.7 L732.3,297.8 L732.4,295.8 L732.5,293.9 L732.6,292.0 L732.8,290.1 L732.9,288.1 L733.0,286.2 L733.1,284.3 L733.3,282.4 L733.4,280.6 L733.5,278.7 L733.6,276.8 L733.8,275.0 L733.9,273.2 L734.0,271.4 L734.1,269.6 L734.2,267.8 L734.4,266.1 L734.5,264.3 L734.6,262.6 L734.7,260.9 L734.9,259.2 L735.0,257.6 L735.1,255.9 L735.2,254.3 L735.4,252.7 L735.5,251.1 L735.6,249.5 L735.7,247.9 L735.9,246.4 L736.0,244.9 L736.1,243.4 L736.2,241.9 L736.3,240.5 L736.5,239.0 L736.6,237.6 L736.8,235.5 L737.0,233.4 L737.1,231.4 L737.3,229.4 L737.5,227.5 L737.7,225.6 L737.9,223.7 L738.1,221.8 L738.3,220.0 L738.4,218.3 L738.6,216.5 L738.8,214.8 L739.0,213.1 L739.2,211.5 L739.4,209.9 L739.6,208.3 L739.7,206.8 L739.9,205.2 L740.1,203.7 L740.3,202.3 L740.5,200.8 L740.7,199.4 L740.9,197.5 L741.2,195.7 L741.4,194.0 L741.7,192.2 L741.9,190.5 L742.2,188.9 L742.4,187.3 L742.6,185.7 L742.9,184.1 L743.1,182.6 L743.4,181.1 L743.6,179.6 L743.9,178.2 L744.1,176.8 L744.4,175.1 L744.7,173.4 L745.1,171.8 L745.4,170.2 L745.7,168.6 L746.0,167.1 L746.3,165.6 L746.6,164.1 L746.9,162.7 L747.2,161.3 L747.6,159.7 L748.0,158.1 L748.3,156.5 L748.7,155.0 L749.1,153.5 L749.4,152.0 L749.8,150.6 L750.2,149.2 L750.6,147.6 L751.0,146.1 L751.5,144.6 L751.9,143.1 L752.3,141.6 L752.8,140.2 L753.2,138.9 L753.6,137.5 L754.1,136.0 L754.6,134.5 L755.1,133.1 L755.6,131.7 L756.1,130.3 L756.6,129.0 L757.2,127.5 L757.7,126.1 L758.3,124.7 L758.8,123.3 L759.4,121.9 L759.9,120.6 L760.6,119.2 L761.2,117.8 L761.8,116.5 L762.4,115.1 L763.0,113.8 L763.6,112.5 L764.3,111.1 L764.9,109.9 L765.6,108.5 L766.1,107.0 L766.4,105.5 L766.7,104.1 L766.9,102.2 L767.1,100.3 L767.2,98.7 L767.4,96.9 L767.5,94.8 L767.6,92.3 L767.7,89.5 L767.8,88.0 L767.8,86.3 L767.9,84.6 L768.0,82.8 L768.0,80.9 L768.1,79.0 L768.2,76.9 L768.2,74.8 L768.3,72.5 L768.3,70.3 L768.4,67.9 L768.5,65.5 L768.5,63.1 L768.6,60.6 L768.7,58.0 M553.5,700.0 L554.3,589.4 L554.7,583.4 L555.0,578.0 L555.3,573.1 L555.6,568.5 L555.9,564.3 L556.3,560.4 L556.6,556.7 L556.9,553.3 L557.2,550.1 L557.6,547.0 L557.9,544.1 L558.2,541.4 L558.5,538.7 L558.8,536.2 L559.2,533.8 L559.5,531.5 L559.8,529.3 L560.1,527.2 L560.5,525.1 L560.8,523.2 L561.1,521.2 L561.4,519.4 L561.8,517.6 L562.1,515.9 L562.4,514.2 L562.7,512.6 L563.0,511.0 L563.4,509.4 L563.7,507.9 L564.0,506.5 L564.3,505.0 L564.7,503.7 L565.3,501.0 L565.9,498.4 L566.6,496.0 L567.2,493.6 L567.9,491.4 L568.5,489.2 L569.2,487.1 L569.8,485.1 L570.5,483.2 L571.1,481.3 L571.8,479.5 L572.4,477.8 L573.0,476.1 L573.7,474.4 L574.3,472.8 L575.0,471.2 L575.6,469.7 L576.3,468.2 L576.9,466.8 L577.6,465.4 L578.2,464.0 L578.9,462.7 L579.5,461.4 L580.1,460.1 L581.1,458.2 L582.1,456.4 L583.1,454.7 L584.0,453.0 L585.0,451.4 L586.0,449.8 L586.9,448.2 L587.9,446.7 L588.9,445.2 L589.8,443.8 L590.8,442.4 L591.8,441.0 L592.7,439.7 L593.7,438.4 L594.7,437.1 L595.6,435.9 L596.6,434.7 L597.6,433.5 L598.5,432.3 L599.5,431.2 L600.5,430.1 L601.4,429.0 L602.4,427.9 L603.4,426.9 L604.4,425.8 L605.6,424.5 L606.9,423.1 L608.2,421.9 L609.5,420.6 L610.8,419.4 L612.1,418.2 L613.4,417.0 L614.7,415.8 L616.0,414.7 L617.3,413.6 L618.6,412.5 L619.8,411.4 L621.1,410.4 L622.4,409.3 L623.7,408.3 L625.0,407.3 L626.3,406.4 L627.6,405.4 L628.9,404.5 L630.2,403.5 L631.5,402.6 L632.8,401.7 L634.0,400.8 L635.3,400.0 L636.6,399.1 L637.9,398.3 L639.2,397.4 L640.5,396.6 L641.8,395.8 L643.1,395.0 L644.4,394.2 L645.7,393.5 L647.0,392.7 L648.2,392.0 L649.5,391.2 L650.8,390.5 L652.1,389.8 L653.4,389.0 L654.7,388.3 L656.0,387.6 L657.3,387.0 L658.6,386.3 L659.9,385.6 L661.2,384.9 L662.4,384.3 L663.7,383.6 L665.0,383.0 L666.3,382.4 L667.6,381.7 L668.9,381.1 L670.2,380.5 L671.5,379.9 L672.8,379.3 L674.1,378.7 L675.4,378.1 L676.6,377.5 L678.3,376.8 L679.9,376.1 L681.5,375.4 L683.1,374.7 L684.7,374.0 L686.3,373.4 L687.9,372.7 L689.6,372.0 L691.2,371.4 L692.8,370.7 L694.4,370.1 L696.0,369.5 L697.6,368.9 L699.2,368.2 L700.8,367.6 L702.5,367.0 L704.1,366.4 L705.7,365.8 L707.3,365.3 L708.9,364.7 L710.5,364.1 L712.1,363.5 L713.8,363.0 L715.4,362.4 L716.8,362.0 L718.1,361.5 L719.5,361.0 L720.8,360.6 L722.2,360.1 L723.5,359.5 L724.7,358.7 L725.7,357.6 L726.5,356.3 L727.0,354.8 L727.5,353.3 L727.8,351.6 L728.1,350.0 L728.4,348.5 L728.6,346.8 L728.8,345.4 L729.0,343.8 L729.2,342.2 L729.4,340.5 L729.6,338.6 L729.7,336.7 L729.9,334.7 L730.0,333.3 L730.2,331.8 L730.3,330.3 L730.4,328.8 L730.5,327.3 L730.7,325.7 L730.8,324.1 L730.9,322.5 L731.0,320.8 L731.2,319.2 L731.3,317.5 L731.4,315.8 L731.5,314.1 L731.7,312.4 L731.8,310.6 L731.9,308.9 L732.0,307.2 L732.1,305.5 L732.3,303.7 L732.4,302.0 L732.5,300.3 L732.6,298.6 L732.8,296.9 L732.9,295.2 L733.0,293.5 L733.1,291.8 L733.3,290.1 L733.4,288.5 L733.5,286.8 L733.6,285.2 L733.8,283.6 L733.9,281.9 L734.0,280.4 L734.1,278.8 L734.2,277.2 L734.4,275.7 L734.5,274.1 L734.6,272.6 L734.7,271.1 L734.9,269.6 L735.0,268.2 L735.1,266.7 L735.2,265.3 L735.4,263.9 L735.5,261.8 L735.7,259.7 L735.9,257.7 L736.1,255.7 L736.3,253.7 L736.5,251.8 L736.7,249.9 L736.8,248.1 L737.0,246.3 L737.2,244.5 L737.4,242.7 L737.6,241.0 L737.8,239.3 L738.0,237.7 L738.1,236.1 L738.3,234.5 L738.5,232.9 L738.7,231.4 L738.9,229.9 L739.1,228.4 L739.2,226.9 L739.4,225.5 L739.6,224.1 L739.9,222.2 L740.1,220.4 L740.4,218.7 L740.6,217.0 L740.9,215.3 L741.1,213.6 L741.3,212.0 L741.6,210.4 L741.8,208.9 L742.1,207.4 L742.3,205.9 L742.6,204.4 L742.8,203.0 L743.1,201.6 L743.4,199.9 L743.7,198.3 L744.0,196.6 L744.3,195.0 L744.6,193.5 L744.9,192.0 L745.2,190.5 L745.5,189.0 L745.9,187.6 L746.2,186.2 L746.5,184.6 L746.9,183.0 L747.3,181.4 L747.6,179.9 L748.0,178.4 L748.4,177.0 L748.8,175.5 L749.1,174.1 L749.6,172.6 L750.0,171.0 L750.4,169.5 L750.9,168.0 L751.3,166.6 L751.7,165.2 L752.2,163.8 L752.7,162.3 L753.1,160.8 L753.6,159.3 L754.1,157.9 L754.6,156.5 L755.1,155.1 L755.6,153.8 L756.2,152.3 L756.7,150.9 L757.3,149.5 L757.8,148.1 L758.4,146.8 L759.0,145.5 L759.6,144.1 L760.2,142.7 L760.8,141.3 L761.4,140.0 L762.0,138.7 L762.7,137.3 L763.4,135.9 L764.1,134.6 L764.8,133.3 L765.4,132.0 L766.1,130.8 L766.9,129.4 L767.6,128.1 L768.3,126.8 L769.1,125.6 L769.8,124.3 L770.6,123.1 L771.3,121.9 L772.0,120.6 L772.8,119.4 L773.5,118.2 L774.3,116.9 L775.0,115.6 L775.7,114.4 L776.4,113.1 L777.0,111.8 L777.6,110.4 L778.2,109.1 L778.7,107.6 L779.2,106.2 L779.6,104.8 L780.1,103.3 L780.5,101.9 L780.8,100.4 L781.2,98.8 L781.5,97.3 L781.8,95.8 L782.1,94.2 L782.4,92.4 L782.7,91.0 L782.9,89.5 L783.2,87.9 L783.4,86.2 L783.7,84.5 L783.9,82.7 L784.2,80.8 L784.3,79.4 L784.5,77.9 L784.7,76.4 L784.9,74.9 L785.1,73.3 L785.3,71.7 L785.5,70.1 L785.6,68.4 L785.8,66.7 L786.0,65.0 L786.2,63.2 L786.4,61.4 L786.6,59.6 M553.5,700.0 L554.3,586.1 L555.8,563.4 L557.2,547.3 L558.6,534.8 L560.0,524.6 L561.5,515.9 L562.9,508.4 L564.3,501.8 L565.7,495.9 L567.2,490.6 L568.6,485.7 L570.0,481.2 L571.4,477.1 L572.9,473.2 L574.3,469.6 L575.8,466.1 L577.3,462.7 L578.7,459.6 L580.2,456.6 L581.7,453.8 L583.2,451.1 L584.7,448.5 L586.2,446.1 L587.7,443.7 L589.1,441.5 L590.6,439.3 L592.1,437.2 L593.6,435.2 L595.1,433.3 L596.6,431.4 L598.1,429.6 L599.6,427.8 L601.0,426.1 L602.5,424.5 L604.0,422.9 L605.5,421.3 L607.0,419.8 L608.5,418.3 L610.0,416.8 L611.5,415.4 L612.9,414.1 L614.4,412.7 L615.9,411.4 L617.4,410.1 L618.9,408.9 L620.4,407.7 L621.9,406.5 L623.3,405.3 L624.8,404.2 L626.3,403.0 L627.8,401.9 L629.3,400.8 L630.8,399.8 L632.3,398.7 L633.8,397.7 L635.2,396.7 L636.7,395.7 L638.2,394.8 L639.7,393.8 L641.2,392.9 L642.7,392.0 L644.2,391.0 L645.6,390.2 L647.1,389.3 L648.6,388.4 L650.1,387.6 L651.6,386.7 L653.1,385.9 L654.6,385.1 L656.1,384.3 L657.5,383.5 L659.0,382.7 L660.5,381.9 L662.0,381.2 L662.8,372.5 L663.9,363.9 L665.3,355.4 L667.0,347.2 L669.0,339.0 L671.4,331.0 L674.0,323.2 L677.0,315.5 L680.2,308.0 L683.8,300.6 L687.7,293.4 L691.9,286.3 L696.4,279.4 L701.2,272.6 L706.4,266.0 L711.8,259.5 L717.6,253.2 L723.6,247.0 L730.0,241.0 L730.3,236.4 L730.7,231.7 L731.0,227.1 L731.4,222.4 L731.8,217.8 L732.2,213.2 L732.6,208.5 L733.1,203.9 L733.5,199.2 L734.0,194.6 L734.5,189.9 L735.1,185.3 L735.7,180.7 L736.3,176.0 L736.9,171.4 L737.6,166.7 L738.3,162.1 L739.1,157.5 L740.0,152.8 L740.8,148.2 L741.8,143.5 L742.8,138.9 L743.9,134.3 L745.1,129.6 L746.4,125.0 L747.7,120.3 L749.2,115.7 L750.8,111.1 L752.5,106.4 L754.3,101.8 L756.3,97.1 L758.5,92.5 L760.8,87.8 L763.3,83.2 L766.1,78.6 L769.0,73.9 L772.3,69.3 L775.8,64.6 L779.6,60.0 M553.5,700.0 L554.3,589.4 L555.8,566.7 L557.2,550.6 L558.6,538.1 L560.0,527.9 L561.5,519.2 L562.9,511.8 L564.3,505.2 L565.7,499.3 L567.2,493.9 L568.6,489.1 L570.0,484.6 L571.4,480.4 L572.9,476.6 L574.3,472.9 L575.8,469.3 L577.3,465.9 L578.8,462.7 L580.4,459.7 L581.9,456.8 L583.4,454.1 L584.9,451.5 L586.4,449.0 L588.0,446.6 L589.5,444.3 L591.0,442.1 L592.5,440.0 L594.1,438.0 L595.6,436.0 L597.1,434.1 L598.6,432.3 L600.1,430.5 L601.7,428.8 L603.2,427.1 L604.7,425.5 L606.2,423.9 L607.7,422.3 L609.3,420.8 L610.8,419.4 L612.3,418.0 L613.8,416.6 L615.3,415.2 L616.9,413.9 L618.4,412.6 L619.9,411.4 L621.4,410.1 L622.9,408.9 L624.5,407.8 L626.0,406.6 L627.5,405.5 L629.0,404.4 L630.5,403.3 L632.1,402.2 L633.6,401.2 L635.1,400.1 L636.6,399.1 L638.1,398.1 L639.7,397.2 L641.2,396.2 L642.7,395.3 L644.2,394.3 L645.8,393.4 L647.3,392.5 L648.8,391.6 L650.3,390.8 L651.8,389.9 L653.4,389.1 L654.9,388.2 L656.4,387.4 L657.9,386.6 L659.4,385.8 L661.0,385.0 L662.5,384.3 L664.0,383.5 L664.4,374.8 L665.2,366.3 L666.3,358.0 L667.7,349.8 L669.5,341.7 L671.6,333.9 L674.1,326.1 L676.8,318.6 L679.9,311.2 L683.4,303.9 L687.2,296.9 L691.3,290.0 L695.7,283.2 L700.5,276.6 L705.7,270.2 L711.1,263.9 L716.9,257.8 L723.0,251.8 L729.5,246.0 L729.9,241.2 L730.3,236.5 L730.7,231.7 L731.1,226.9 L731.6,222.2 L732.0,217.4 L732.5,212.6 L733.1,207.8 L733.6,203.1 L734.2,198.3 L734.8,193.5 L735.5,188.8 L736.2,184.0 L736.9,179.2 L737.7,174.5 L738.6,169.7 L739.5,164.9 L740.5,160.2 L741.5,155.4 L742.7,150.6 L743.9,145.8 L745.2,141.1 L746.6,136.3 L748.2,131.5 L749.8,126.8 L751.6,122.0 L753.6,117.2 L755.7,112.5 L758.0,107.7 L760.4,102.9 L763.1,98.2 L766.0,93.4 L769.2,88.6 L772.7,83.8 L776.4,79.1 L780.5,74.3 L785.0,69.5 L789.8,64.8 L795.1,60.0 M553.5,700.0 L554.3,583.2 L555.8,560.5 L557.2,544.4 L558.6,531.9 L560.0,521.7 L561.5,513.0 L562.9,505.5 L564.3,498.9 L565.7,493.0 L567.2,487.7 L568.6,482.8 L570.0,478.3 L571.4,474.2 L572.9,470.3 L574.3,466.7 L575.8,463.1 L577.3,459.8 L578.8,456.6 L580.3,453.6 L581.8,450.7 L583.3,448.0 L584.8,445.4 L586.3,443.0 L587.8,440.6 L589.3,438.3 L590.8,436.1 L592.3,434.0 L593.8,432.0 L595.3,430.1 L596.8,428.2 L598.3,426.3 L599.8,424.6 L601.3,422.9 L602.9,421.2 L604.4,419.6 L605.9,418.0 L607.4,416.5 L608.9,415.0 L610.4,413.5 L611.9,412.1 L613.4,410.8 L614.9,409.4 L616.4,408.1 L617.9,406.8 L619.4,405.6 L620.9,404.3 L622.4,403.1 L623.9,402.0 L625.4,400.8 L626.9,399.7 L628.4,398.6 L629.9,397.5 L631.4,396.4 L632.9,395.4 L634.4,394.4 L635.9,393.3 L637.4,392.4 L638.9,391.4 L640.4,390.4 L641.9,389.5 L643.5,388.6 L645.0,387.7 L646.5,386.8 L648.0,385.9 L649.5,385.0 L651.0,384.2 L652.5,383.3 L654.0,382.5 L655.5,381.7 L657.0,380.9 L658.5,380.1 L660.0,379.3 L661.5,378.5 L663.0,377.8 L664.3,370.2 L665.9,362.7 L667.7,355.4 L669.7,348.2 L672.0,341.1 L674.5,334.1 L677.3,327.3 L680.3,320.7 L683.6,314.1 L687.1,307.7 L690.8,301.4 L694.8,295.3 L699.0,289.3 L703.5,283.4 L708.2,277.7 L713.2,272.0 L718.4,266.6 L723.8,261.2 L729.5,256.0 L729.8,251.0 L730.2,245.9 L730.6,240.9 L730.9,235.9 L731.3,230.9 L731.7,225.8 L732.2,220.8 L732.6,215.8 L733.1,210.8 L733.6,205.7 L734.1,200.7 L734.7,195.7 L735.3,190.7 L735.9,185.6 L736.6,180.6 L737.3,175.6 L738.1,170.6 L738.9,165.5 L739.8,160.5 L740.7,155.5 L741.8,150.5 L742.9,145.4 L744.0,140.4 L745.3,135.4 L746.7,130.4 L748.2,125.3 L749.8,120.3 L751.6,115.3 L753.5,110.3 L755.6,105.2 L757.9,100.2 L760.4,95.2 L763.1,90.2 L766.0,85.1 L769.2,80.1 L772.7,75.1 L776.5,70.1 L780.7,65.0 L785.3,60.0 M553.5,700.0 L554.3,589.2 L555.8,566.5 L557.2,550.4 L558.6,537.9 L560.0,527.6 L561.5,519.0 L562.9,511.5 L564.3,504.9 L565.7,499.0 L567.2,493.7 L568.6,488.8 L570.0,484.3 L571.4,480.2 L572.9,476.3 L574.3,472.7 L575.8,469.0 L577.4,465.5 L578.9,462.3 L580.5,459.2 L582.1,456.3 L583.6,453.5 L585.2,450.8 L586.7,448.3 L588.3,445.9 L589.8,443.6 L591.4,441.3 L592.9,439.2 L594.5,437.1 L596.0,435.1 L597.6,433.2 L599.2,431.4 L600.7,429.6 L602.3,427.8 L603.8,426.1 L605.4,424.5 L606.9,422.9 L608.5,421.4 L610.0,419.9 L611.6,418.4 L613.1,417.0 L614.7,415.6 L616.3,414.2 L617.8,412.9 L619.4,411.6 L620.9,410.3 L622.5,409.1 L624.0,407.8 L625.6,406.7 L627.1,405.5 L628.7,404.4 L630.2,403.2 L631.8,402.1 L633.4,401.1 L634.9,400.0 L636.5,399.0 L638.0,398.0 L639.6,397.0 L641.1,396.0 L642.7,395.0 L644.2,394.1 L645.8,393.1 L647.3,392.2 L648.9,391.3 L650.5,390.4 L652.0,389.6 L653.6,388.7 L655.1,387.9 L656.7,387.0 L658.2,386.2 L659.8,385.4 L661.3,384.6 L662.9,383.8 L664.4,383.0 L666.0,382.3 L667.3,375.0 L668.8,367.8 L670.6,360.7 L672.6,353.8 L674.8,347.0 L677.2,340.3 L679.9,333.7 L682.7,327.3 L685.8,320.9 L689.1,314.7 L692.7,308.6 L696.4,302.6 L700.4,296.7 L704.6,291.0 L709.1,285.3 L713.7,279.8 L718.6,274.4 L723.7,269.2 L729.0,264.0 L729.4,258.8 L729.8,253.5 L730.2,248.3 L730.6,243.1 L731.1,237.8 L731.6,232.6 L732.1,227.4 L732.6,222.2 L733.2,216.9 L733.8,211.7 L734.5,206.5 L735.2,201.2 L735.9,196.0 L736.7,190.8 L737.5,185.5 L738.5,180.3 L739.4,175.1 L740.5,169.8 L741.7,164.6 L742.9,159.4 L744.2,154.2 L745.7,148.9 L747.3,143.7 L749.0,138.5 L750.9,133.2 L753.0,128.0 L755.2,122.8 L757.7,117.5 L760.4,112.3 L763.3,107.1 L766.5,101.8 L770.0,96.6 L773.9,91.4 L778.1,86.2 L782.8,80.9 L787.9,75.7 L793.5,70.5 L799.7,65.2 L806.4,60.0 M553.5,700.0 L554.3,584.8 L555.8,562.0 L557.2,545.9 L558.6,533.4 L560.0,523.2 L561.5,514.6 L562.9,507.1 L564.3,500.5 L565.7,494.6 L567.2,489.2 L568.6,484.4 L570.0,479.9 L571.4,475.7 L572.9,471.9 L574.3,468.3 L575.9,464.5 L577.5,460.9 L579.0,457.6 L580.6,454.5 L582.2,451.5 L583.8,448.7 L585.4,446.0 L587.0,443.4 L588.6,441.0 L590.2,438.6 L591.8,436.4 L593.3,434.2 L594.9,432.1 L596.5,430.1 L598.1,428.2 L599.7,426.3 L601.3,424.5 L602.9,422.7 L604.5,421.0 L606.1,419.4 L607.6,417.8 L609.2,416.2 L610.8,414.7 L612.4,413.2 L614.0,411.7 L615.6,410.3 L617.2,409.0 L618.8,407.6 L620.3,406.3 L621.9,405.0 L623.5,403.8 L625.1,402.6 L626.7,401.4 L628.3,400.2 L629.9,399.1 L631.5,397.9 L633.1,396.8 L634.6,395.8 L636.2,394.7 L637.8,393.7 L639.4,392.6 L641.0,391.6 L642.6,390.6 L644.2,389.7 L645.8,388.7 L647.4,387.8 L648.9,386.9 L650.5,386.0 L652.1,385.1 L653.7,384.2 L655.3,383.3 L656.9,382.5 L658.5,381.6 L660.1,380.8 L661.6,380.0 L663.2,379.2 L664.8,378.4 L666.4,377.6 L668.0,376.9 L669.6,370.3 L671.4,363.9 L673.4,357.6 L675.5,351.3 L677.8,345.2 L680.3,339.2 L683.0,333.2 L685.9,327.4 L688.9,321.7 L692.1,316.1 L695.5,310.5 L699.1,305.1 L702.8,299.8 L706.7,294.6 L710.8,289.5 L715.1,284.4 L719.6,279.5 L724.2,274.7 L729.0,270.0 L729.3,264.6 L729.7,259.2 L730.1,253.8 L730.5,248.5 L730.9,243.1 L731.3,237.7 L731.7,232.3 L732.2,226.9 L732.7,221.5 L733.2,216.2 L733.7,210.8 L734.3,205.4 L734.9,200.0 L735.6,194.6 L736.2,189.2 L737.0,183.8 L737.8,178.5 L738.6,173.1 L739.6,167.7 L740.6,162.3 L741.6,156.9 L742.8,151.5 L744.1,146.2 L745.4,140.8 L746.9,135.4 L748.6,130.0 L750.3,124.6 L752.3,119.2 L754.4,113.8 L756.7,108.5 L759.3,103.1 L762.0,97.7 L765.1,92.3 L768.5,86.9 L772.1,81.5 L776.2,76.2 L780.7,70.8 L785.6,65.4 L791.0,60.0 M553.5,700.0 L554.3,587.7 L555.8,565.0 L557.2,548.9 L558.6,536.4 L560.0,526.2 L561.5,517.6 L562.9,510.1 L564.3,503.5 L565.7,497.6 L567.2,492.2 L568.6,487.4 L570.0,482.9 L571.4,478.7 L572.9,474.9 L574.3,471.2 L575.9,467.5 L577.4,464.0 L579.0,460.7 L580.6,457.6 L582.1,454.7 L583.7,451.9 L585.3,449.2 L586.9,446.6 L588.4,444.2 L590.0,441.9 L591.6,439.6 L593.1,437.5 L594.7,435.4 L596.3,433.4 L597.9,431.5 L599.4,429.6 L601.0,427.8 L602.6,426.1 L604.1,424.4 L605.7,422.7 L607.3,421.1 L608.9,419.6 L610.4,418.0 L612.0,416.6 L613.6,415.1 L615.1,413.7 L616.7,412.4 L618.3,411.0 L619.9,409.7 L621.4,408.4 L623.0,407.2 L624.6,406.0 L626.1,404.8 L627.7,403.6 L629.3,402.5 L630.9,401.4 L632.4,400.3 L634.0,399.2 L635.6,398.1 L637.1,397.1 L638.7,396.1 L640.3,395.1 L641.9,394.1 L643.4,393.1 L645.0,392.2 L646.6,391.2 L648.1,390.3 L649.7,389.4 L651.3,388.5 L652.9,387.7 L654.4,386.8 L656.0,385.9 L657.6,385.1 L659.1,384.3 L660.7,383.5 L662.3,382.7 L663.9,381.9 L665.4,381.1 L667.0,380.3 L669.0,374.2 L671.2,368.1 L673.5,362.0 L675.9,356.1 L678.5,350.3 L681.2,344.5 L684.1,338.8 L687.1,333.2 L690.2,327.7 L693.4,322.2 L696.8,316.9 L700.4,311.6 L704.1,306.4 L707.9,301.3 L711.8,296.3 L715.9,291.3 L720.1,286.5 L724.5,281.7 L729.0,277.0 L729.4,271.4 L729.8,265.9 L730.2,260.3 L730.6,254.7 L731.1,249.2 L731.6,243.6 L732.1,238.1 L732.6,232.5 L733.2,226.9 L733.8,221.4 L734.4,215.8 L735.1,210.2 L735.9,204.7 L736.7,199.1 L737.5,193.5 L738.4,188.0 L739.4,182.4 L740.5,176.8 L741.7,171.3 L743.0,165.7 L744.3,160.2 L745.9,154.6 L747.5,149.0 L749.3,143.5 L751.3,137.9 L753.5,132.3 L755.8,126.8 L758.5,121.2 L761.3,115.6 L764.5,110.1 L768.0,104.5 L771.8,98.9 L776.1,93.4 L780.7,87.8 L785.9,82.3 L791.6,76.7 L797.9,71.1 L804.9,65.6 L812.6,60.0 M553.5,700.0 L554.3,582.1 L555.8,559.4 L557.2,543.3 L558.6,530.8 L560.0,520.6 L561.5,511.9 L562.9,504.5 L564.3,497.9 L565.7,492.0 L567.2,486.6 L568.6,481.7 L570.0,477.3 L571.4,473.1 L572.9,469.2 L574.3,465.6 L575.9,461.8 L577.5,458.2 L579.1,454.8 L580.8,451.6 L582.4,448.6 L584.0,445.7 L585.6,443.0 L587.3,440.4 L588.9,437.9 L590.5,435.5 L592.1,433.2 L593.8,431.0 L595.4,428.9 L597.0,426.9 L598.6,424.9 L600.2,423.0 L601.9,421.2 L603.5,419.4 L605.1,417.7 L606.7,416.0 L608.4,414.4 L610.0,412.8 L611.6,411.3 L613.2,409.8 L614.8,408.4 L616.5,407.0 L618.1,405.6 L619.7,404.2 L621.3,402.9 L623.0,401.6 L624.6,400.4 L626.2,399.1 L627.8,397.9 L629.4,396.8 L631.1,395.6 L632.7,394.5 L634.3,393.4 L635.9,392.3 L637.6,391.2 L639.2,390.2 L640.8,389.1 L642.4,388.1 L644.0,387.1 L645.7,386.2 L647.3,385.2 L648.9,384.3 L650.5,383.3 L652.2,382.4 L653.8,381.5 L655.4,380.6 L657.0,379.8 L658.6,378.9 L660.3,378.1 L661.9,377.3 L663.5,376.4 L665.1,375.6 L666.8,374.8 L668.4,374.1 L670.0,373.3 L672.1,367.9 L674.3,362.6 L676.6,357.3 L679.0,352.1 L681.5,347.0 L684.2,342.0 L686.9,337.0 L689.8,332.1 L692.8,327.3 L695.8,322.6 L699.0,317.9 L702.3,313.3 L705.7,308.7 L709.3,304.3 L712.9,299.9 L716.6,295.5 L720.5,291.3 L724.4,287.1 L728.5,283.0 L728.8,277.3 L729.2,271.6 L729.5,265.8 L729.9,260.1 L730.2,254.4 L730.6,248.7 L731.0,243.0 L731.4,237.3 L731.9,231.5 L732.3,225.8 L732.8,220.1 L733.3,214.4 L733.8,208.7 L734.4,202.9 L735.0,197.2 L735.6,191.5 L736.3,185.8 L737.1,180.1 L737.8,174.4 L738.7,168.6 L739.6,162.9 L740.6,157.2 L741.7,151.5 L742.9,145.8 L744.1,140.1 L745.5,134.3 L747.0,128.6 L748.7,122.9 L750.5,117.2 L752.5,111.5 L754.7,105.7 L757.2,100.0 L759.8,94.3 L762.8,88.6 L766.0,82.9 L769.6,77.2 L773.6,71.4 L777.9,65.7 L782.8,60.0 M553.5,700.0 L554.3,583.9 L555.8,561.1 L557.2,545.0 L558.6,532.5 L560.0,522.3 L561.5,513.7 L562.9,506.2 L564.3,499.6 L565.7,493.7 L567.2,488.4 L568.6,483.5 L570.0,479.0 L571.4,474.8 L572.9,471.0 L574.3,467.4 L575.9,463.4 L577.6,459.8 L579.3,456.3 L580.9,453.1 L582.6,450.0 L584.2,447.1 L585.9,444.3 L587.5,441.7 L589.2,439.2 L590.8,436.8 L592.5,434.5 L594.2,432.2 L595.8,430.1 L597.5,428.1 L599.1,426.1 L600.8,424.2 L602.4,422.3 L604.1,420.5 L605.8,418.8 L607.4,417.1 L609.1,415.5 L610.7,413.9 L612.4,412.3 L614.0,410.8 L615.7,409.4 L617.3,407.9 L619.0,406.5 L620.7,405.2 L622.3,403.9 L624.0,402.6 L625.6,401.3 L627.3,400.1 L628.9,398.8 L630.6,397.7 L632.3,396.5 L633.9,395.4 L635.6,394.3 L637.2,393.2 L638.9,392.1 L640.5,391.0 L642.2,390.0 L643.8,389.0 L645.5,388.0 L647.2,387.0 L648.8,386.1 L650.5,385.1 L652.1,384.2 L653.8,383.3 L655.4,382.4 L657.1,381.5 L658.8,380.6 L660.4,379.7 L662.1,378.9 L663.7,378.1 L665.4,377.2 L667.0,376.4 L668.7,375.6 L670.3,374.9 L672.0,374.1 L674.4,369.4 L676.9,364.7 L679.4,360.1 L682.0,355.5 L684.6,350.9 L687.4,346.5 L690.1,342.0 L693.0,337.6 L695.9,333.2 L698.9,328.9 L701.9,324.6 L705.0,320.4 L708.2,316.2 L711.4,312.1 L714.7,308.0 L718.1,303.9 L721.5,299.9 L725.0,295.9 L728.5,292.0 L728.9,286.1 L729.2,280.1 L729.6,274.2 L730.0,268.2 L730.4,262.3 L730.8,256.3 L731.3,250.4 L731.8,244.4 L732.3,238.5 L732.8,232.5 L733.4,226.6 L734.0,220.6 L734.6,214.7 L735.3,208.7 L736.0,202.8 L736.8,196.8 L737.6,190.9 L738.5,184.9 L739.5,179.0 L740.6,173.0 L741.8,167.1 L743.1,161.1 L744.5,155.2 L746.0,149.2 L747.7,143.3 L749.6,137.3 L751.6,131.4 L753.9,125.4 L756.4,119.5 L759.1,113.5 L762.2,107.6 L765.6,101.6 L769.3,95.7 L773.5,89.7 L778.1,83.8 L783.3,77.8 L789.0,71.9 L795.4,65.9 L802.4,60.0 M553.5,700.0 L554.3,587.0 L555.8,564.3 L557.2,548.2 L558.6,535.7 L560.0,525.5 L561.5,516.9 L562.9,509.4 L564.3,502.8 L565.7,496.9 L567.2,491.5 L568.6,486.7 L570.0,482.2 L571.4,478.0 L572.9,474.2 L574.3,470.5 L575.8,466.9 L577.3,463.5 L578.8,460.3 L580.4,457.3 L581.9,454.4 L583.4,451.7 L584.9,449.1 L586.4,446.6 L588.0,444.2 L589.5,441.9 L591.0,439.7 L592.5,437.6 L594.1,435.6 L595.6,433.6 L597.1,431.7 L598.6,429.9 L600.1,428.1 L601.7,426.4 L603.2,424.7 L604.7,423.1 L606.2,421.5 L607.7,419.9 L609.3,418.5 L610.8,417.0 L612.3,415.6 L613.8,414.2 L615.3,412.8 L616.9,411.5 L618.4,410.2 L619.9,409.0 L621.4,407.7 L622.9,406.5 L624.5,405.4 L626.0,404.2 L627.5,403.1 L629.0,402.0 L630.5,400.9 L632.1,399.8 L633.6,398.8 L635.1,397.7 L636.6,396.7 L638.1,395.7 L639.7,394.8 L641.2,393.8 L642.7,392.9 L644.2,391.9 L645.8,391.0 L647.3,390.1 L648.8,389.2 L650.3,388.4 L651.8,387.5 L653.4,386.7 L654.9,385.8 L656.4,385.0 L657.9,384.2 L659.4,383.4 L661.0,382.6 L662.5,381.9 L664.0,381.1 L667.1,377.9 L670.3,374.7 L673.5,371.6 L676.7,368.4 L680.0,365.4 L683.2,362.3 L686.5,359.2 L689.9,356.2 L693.2,353.3 L696.6,350.3 L700.0,347.4 L703.4,344.5 L706.8,341.6 L710.3,338.8 L713.8,336.0 L717.3,333.2 L720.8,330.4 L724.4,327.7 L728.0,325.0 L728.4,318.2 L728.7,311.4 L729.1,304.6 L729.5,297.8 L729.9,291.0 L730.4,284.2 L730.8,277.4 L731.3,270.6 L731.8,263.8 L732.3,257.1 L732.8,250.3 L733.4,243.5 L734.0,236.7 L734.7,229.9 L735.4,223.1 L736.1,216.3 L737.0,209.5 L737.9,202.7 L738.8,195.9 L739.9,189.1 L741.1,182.3 L742.4,175.5 L743.8,168.7 L745.4,161.9 L747.2,155.1 L749.2,148.3 L751.4,141.5 L753.8,134.7 L756.6,127.9 L759.7,121.2 L763.1,114.4 L767.0,107.6 L771.4,100.8 L776.3,94.0 L781.9,87.2 L788.2,80.4 L795.3,73.6 L803.3,66.8 L812.3,60.0" stroke="#000" stroke-width="2.4"/>
<path d="M547.9,556 L549.4,697" stroke="#000" stroke-width="4.3" stroke-linecap="round"/>
<path d="M554.9,556 L553.5,697" stroke="#000" stroke-width="4.3" stroke-linecap="round"/>
</g>
<path d="M195.2,82.1 V696.4 H836.5 V82.1 Z" fill="none" stroke="#000" stroke-width="3.2"/>
<path d="M195.2,205.0h12 M195.2,327.8h12 M195.2,450.7h12 M195.2,573.5h12 M266.5,696.4v-12 M337.7,696.4v-12 M409.0,696.4v-12 M480.2,696.4v-12 M551.5,696.4v-12 M622.7,696.4v-12 M694.0,696.4v-12 M765.2,696.4v-12" stroke="#000" stroke-width="3" fill="none"/>
<text x="159.5" y="95.6" font-size="42.6" text-anchor="end">100</text>
<text x="159.5" y="218.5" font-size="42.6" text-anchor="end">10</text>
<text x="159.5" y="341.3" font-size="42.6" text-anchor="end">1</text>
<text x="159.5" y="464.2" font-size="42.6" text-anchor="end">0.1</text>
<text x="159.5" y="587.0" font-size="42.6" text-anchor="end">0.01</text>
<text x="159.5" y="709.9" font-size="42.6" text-anchor="end">0.001</text>
<text x="195.2" y="759.6" font-size="42.6" text-anchor="middle">-5</text>
<text x="266.5" y="759.6" font-size="42.6" text-anchor="middle">-4</text>
<text x="337.7" y="759.6" font-size="42.6" text-anchor="middle">-3</text>
<text x="409.0" y="759.6" font-size="42.6" text-anchor="middle">-2</text>
<text x="480.2" y="759.6" font-size="42.6" text-anchor="middle">-1</text>
<text x="551.5" y="759.6" font-size="42.6" text-anchor="middle">0</text>
<text x="622.7" y="759.6" font-size="42.6" text-anchor="middle">1</text>
<text x="694.0" y="759.6" font-size="42.6" text-anchor="middle">2</text>
<text x="765.2" y="759.6" font-size="42.6" text-anchor="middle">3</text>
<text x="836.5" y="759.6" font-size="42.6" text-anchor="middle">4</text>
<text x="471" y="828.5" font-size="43" text-anchor="middle">Voltage [V]</text>
<text transform="translate(34,385.5) rotate(-90)" font-size="43" text-anchor="middle">Current [mA]</text>
<path d="M224.3,571.1H266.5" stroke="#000" stroke-width="2"/>
<path d="M224.3,628.9H266.5" stroke="#f00" stroke-width="2"/>
<text x="271" y="584.5" font-size="42.5">W/O</text>
<text x="272" y="644.5" font-size="42.5">1.6×10</text>
<text x="391.5" y="633.5" font-size="26.5" letter-spacing="0.5">12</text>
<text x="430" y="644.5" font-size="42.5">cm</text>
<text x="481" y="633.5" font-size="26">−2</text>
<rect x="325.9" y="10.4" width="335.9" height="203.1" fill="#fff" stroke="#000" stroke-width="3"/>
<path d="M325.9,184.4h6 M325.9,155.3h6 M325.9,126.2h6 M325.9,97.0h6 M325.9,67.9h6 M325.9,38.8h6 M393.1,213.5v-8 M460.3,213.5v-8 M527.4,213.5v-8 M594.6,213.5v-8" stroke="#000" stroke-width="3" fill="none"/>
<text x="303" y="221.0" font-size="25.5" text-anchor="end">0</text>
<text x="303" y="191.9" font-size="25.5" text-anchor="end">2</text>
<text x="303" y="162.8" font-size="25.5" text-anchor="end">4</text>
<text x="303" y="133.7" font-size="25.5" text-anchor="end">6</text>
<text x="303" y="104.5" font-size="25.5" text-anchor="end">8</text>
<text x="303" y="75.4" font-size="25.5" text-anchor="end">10</text>
<text x="303" y="46.3" font-size="25.5" text-anchor="end">12</text>
<text x="303" y="17.2" font-size="25.5" text-anchor="end">14</text>
<text transform="translate(276,143.7) rotate(-90)" font-size="25.5" text-anchor="middle">Frequency</text>
<text transform="translate(372.0,240.5) rotate(-45)" font-size="24.5" text-anchor="end">2.6-2.8</text>
<text transform="translate(438.0,239.7) rotate(-45)" font-size="24.5" text-anchor="end">2.8-3.0</text>
<text transform="translate(503.9,238.9) rotate(-45)" font-size="24.5" text-anchor="end">3.0-3.2</text>
<text transform="translate(569.9,238.1) rotate(-45)" font-size="24.5" text-anchor="end">3.2-3.4</text>
<text transform="translate(635.9,237.3) rotate(-45)" font-size="24.5" text-anchor="end">3.4-3.6</text>
<text x="357" y="302.9" font-size="25.5">Volatge at 2.5 A/cm<tspan font-size="15" dy="-9">2</tspan><tspan dy="9"> [V]</tspan></text>
<g clip-path="url(#ic)">
<path d="M359.5,213.4 L361.5,213.4 L363.5,213.3 L365.5,213.3 L367.5,213.3 L369.5,213.2 L371.5,213.1 L373.5,213.1 L375.5,213.0 L377.5,212.9 L379.5,212.7 L381.5,212.6 L383.5,212.4 L385.5,212.2 L387.5,211.9 L389.5,211.6 L391.5,211.3 L393.5,210.9 L395.5,210.4 L397.5,209.9 L399.5,209.3 L401.5,208.6 L403.5,207.9 L405.5,207.0 L407.5,206.0 L409.5,204.9 L411.6,203.7 L413.6,202.3 L415.6,200.8 L417.6,199.1 L419.6,197.2 L421.6,195.2 L423.6,192.9 L425.6,190.5 L427.6,187.9 L429.6,185.0 L431.6,182.0 L433.6,178.7 L435.6,175.2 L437.6,171.6 L439.6,167.7 L441.6,163.6 L443.6,159.3 L445.6,154.9 L447.6,150.3 L449.6,145.6 L451.6,140.7 L453.6,135.8 L455.6,130.8 L457.6,125.7 L459.6,120.7 L461.6,115.6 L463.6,110.7 L465.6,105.8 L467.6,101.1 L469.6,96.6 L471.6,92.3 L473.6,88.2 L475.6,84.4 L477.6,81.0 L479.6,77.9 L481.6,75.2 L483.6,72.8 L485.6,70.9 L487.6,69.5 L489.6,68.5 L491.6,68.0 L493.6,68.0 L495.6,68.4 L497.6,69.3 L499.6,70.7 L501.6,72.5 L503.6,74.7 L505.6,77.4 L507.6,80.4 L509.6,83.8 L511.7,87.6 L513.7,91.6 L515.7,95.9 L517.7,100.4 L519.7,105.0 L521.7,109.9 L523.7,114.8 L525.7,119.8 L527.7,124.9 L529.7,129.9 L531.7,134.9 L533.7,139.9 L535.7,144.8 L537.7,149.5 L539.7,154.1 L541.7,158.6 L543.7,162.9 L545.7,167.0 L547.7,170.9 L549.7,174.6 L551.7,178.2 L553.7,181.4 L555.7,184.5 L557.7,187.4 L559.7,190.1 L561.7,192.5 L563.7,194.8 L565.7,196.9 L567.7,198.8 L569.7,200.5 L571.7,202.0 L573.7,203.4 L575.7,204.7 L577.7,205.8 L579.7,206.8 L581.7,207.7 L583.7,208.5 L585.7,209.2 L587.7,209.8 L589.7,210.4 L591.7,210.8 L593.7,211.2 L595.7,211.6 L597.7,211.9 L599.7,212.1 L601.7,212.4 L603.7,212.5 L605.7,212.7 L607.7,212.8 L609.7,213.0 L611.8,213.0 L613.8,213.1 L615.8,213.2 L617.8,213.3 L619.8,213.3 L621.8,213.3 L623.8,213.4 L625.8,213.4 L627.8,213.4 L629.8,213.4 L631.8,213.4 L633.8,213.5 L635.8,213.5 L637.8,213.5 L639.8,213.5 L641.8,213.5 L643.8,213.5 L645.8,213.5 L647.8,213.5 L649.8,213.5 L651.8,213.5 L653.8,213.5 L655.8,213.5 L657.8,213.5 L659.8,213.5 L661.8,213.5" fill="none" stroke="#000" stroke-width="3" stroke-dasharray="8,13.6" stroke-linecap="round"/>
<path d="M359.5,199.4 L361.5,198.2 L363.5,196.9 L365.5,195.5 L367.5,194.1 L369.5,192.6 L371.5,191.0 L373.5,189.3 L375.5,187.6 L377.5,185.7 L379.5,183.8 L381.5,181.7 L383.5,179.6 L385.5,177.4 L387.5,175.2 L389.5,172.8 L391.5,170.4 L393.5,167.9 L395.5,165.3 L397.5,162.6 L399.5,159.9 L401.5,157.2 L403.5,154.4 L405.5,151.5 L407.5,148.6 L409.5,145.6 L411.6,142.7 L413.6,139.7 L415.6,136.7 L417.6,133.8 L419.6,130.8 L421.6,127.8 L423.6,124.9 L425.6,122.1 L427.6,119.2 L429.6,116.5 L431.6,113.8 L433.6,111.2 L435.6,108.7 L437.6,106.3 L439.6,104.0 L441.6,101.9 L443.6,99.8 L445.6,97.9 L447.6,96.2 L449.6,94.6 L451.6,93.2 L453.6,91.9 L455.6,90.9 L457.6,90.0 L459.6,89.3 L461.6,88.8 L463.6,88.4 L465.6,88.3 L467.6,88.4 L469.6,88.6 L471.6,89.1 L473.6,89.7 L475.6,90.5 L477.6,91.5 L479.6,92.7 L481.6,94.0 L483.6,95.6 L485.6,97.2 L487.6,99.1 L489.6,101.0 L491.6,103.2 L493.6,105.4 L495.6,107.7 L497.6,110.2 L499.6,112.8 L501.6,115.4 L503.6,118.2 L505.6,120.9 L507.6,123.8 L509.6,126.7 L511.7,129.6 L513.7,132.6 L515.7,135.6 L517.7,138.5 L519.7,141.5 L521.7,144.5 L523.7,147.4 L525.7,150.3 L527.7,153.2 L529.7,156.1 L531.7,158.9 L533.7,161.6 L535.7,164.3 L537.7,166.9 L539.7,169.4 L541.7,171.9 L543.7,174.3 L545.7,176.6 L547.7,178.8 L549.7,180.9 L551.7,183.0 L553.7,185.0 L555.7,186.8 L557.7,188.6 L559.7,190.3 L561.7,192.0 L563.7,193.5 L565.7,195.0 L567.7,196.4 L569.7,197.7 L571.7,198.9 L573.7,200.0 L575.7,201.1 L577.7,202.1 L579.7,203.1 L581.7,204.0 L583.7,204.8 L585.7,205.5 L587.7,206.2 L589.7,206.9 L591.7,207.5 L593.7,208.1 L595.7,208.6 L597.7,209.0 L599.7,209.5 L601.7,209.9 L603.7,210.2 L605.7,210.6 L607.7,210.9 L609.7,211.1 L611.8,211.4 L613.8,211.6 L615.8,211.8 L617.8,212.0 L619.8,212.2 L621.8,212.3 L623.8,212.5 L625.8,212.6 L627.8,212.7 L629.8,212.8 L631.8,212.9 L633.8,212.9 L635.8,213.0 L637.8,213.1 L639.8,213.1 L641.8,213.2 L643.8,213.2 L645.8,213.2 L647.8,213.3 L649.8,213.3 L651.8,213.3 L653.8,213.4 L655.8,213.4 L657.8,213.4 L659.8,213.4 L661.8,213.4" fill="none" stroke="#f00" stroke-width="3" stroke-dasharray="8,13.6" stroke-linecap="round"/>
</g>
<path d="M426.7,203.8 L436.7,223.4 L416.7,223.4 Z" fill="none" stroke="#000" stroke-width="3" stroke-linejoin="round"/>
<path d="M561.0,116.5 L571.0,136.1 L551.0,136.1 Z" fill="none" stroke="#000" stroke-width="3" stroke-linejoin="round"/>
<path d="M359.5,203.8 L369.5,223.4 L349.5,223.4 Z" fill="none" stroke="#f00" stroke-width="3" stroke-linejoin="round"/>
<path d="M426.7,145.6 L436.7,165.2 L416.7,165.2 Z" fill="none" stroke="#f00" stroke-width="3" stroke-linejoin="round"/>
<path d="M493.8,72.8 L503.8,92.4 L483.8,92.4 Z" fill="none" stroke="#f00" stroke-width="3" stroke-linejoin="round"/>
<path d="M561.0,174.7 L571.0,194.3 L551.0,194.3 Z" fill="none" stroke="#f00" stroke-width="3" stroke-linejoin="round"/>
<path d="M628.2,189.2 L638.2,208.8 L618.2,208.8 Z" fill="none" stroke="#f00" stroke-width="3" stroke-linejoin="round"/>
<rect x="457.5" y="10.4" width="204.3" height="52.1" fill="#fff" stroke="#000" stroke-width="3"/>
<path d="M486,17.2 L494,30.5 L478,30.5 Z" fill="none" stroke="#000" stroke-width="2.8"/>
<path d="M486,43.8 L494,57.5 L478,57.5 Z" fill="none" stroke="#f00" stroke-width="2.8"/>
<text x="498.5" y="30.7" font-size="25.5">W/O</text>
<text x="498.5" y="60.5" font-size="25.5">1.6×10<tspan font-size="15.5" dy="-9" letter-spacing="0.8">12</tspan><tspan dy="9" dx="3"> cm</tspan><tspan font-size="15.5" dy="-9">−2</tspan></text>
</svg></body></html>
